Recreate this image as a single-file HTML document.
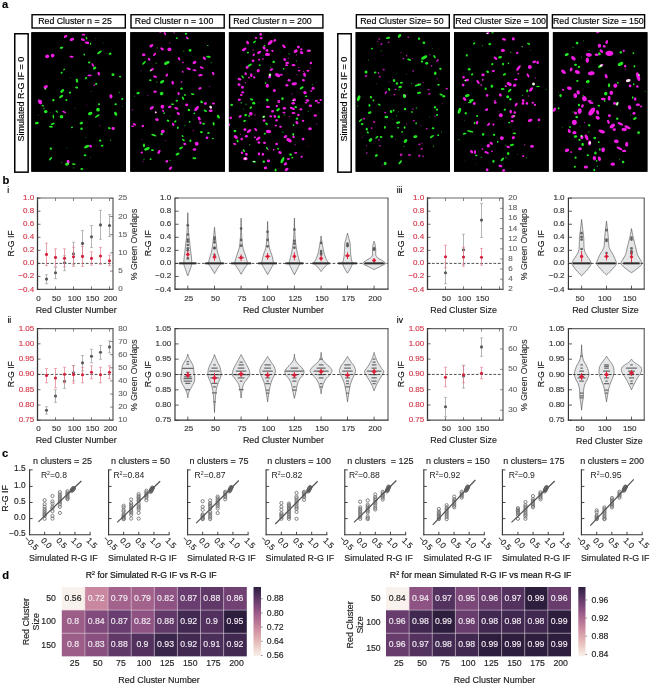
<!DOCTYPE html>
<html lang="en"><head><meta charset="utf-8"><title>Figure</title>
<style>html,body{margin:0;padding:0;background:#fff}body{width:652px;height:685px;overflow:hidden}svg{display:block}svg text{font-family:"Liberation Sans",Arial,sans-serif}</style>
</head><body>
<svg width="652" height="685" viewBox="0 0 652 685">
<rect x="0" y="0" width="652" height="685" fill="#fff"/>
<text x="2.00" y="7.80" font-size="11.2" font-weight="bold" fill="#000" stroke="#000" stroke-width="0.15">a</text>
<rect x="31.35" y="32.20" width="94.65" height="139.50" fill="#000"/>
<rect x="130.30" y="32.20" width="94.60" height="139.50" fill="#000"/>
<rect x="228.90" y="32.20" width="94.70" height="139.50" fill="#000"/>
<rect x="355.65" y="32.20" width="94.35" height="139.50" fill="#000"/>
<rect x="454.00" y="32.20" width="94.70" height="139.50" fill="#000"/>
<rect x="552.90" y="32.20" width="94.50" height="139.50" fill="#000"/>
<rect x="32.05" y="14.70" width="93.25" height="13.30" fill="#fff" stroke="#000" stroke-width="1.4"/>
<text x="38.20" y="24.00" font-size="8.8" fill="#000" stroke="#000" stroke-width="0.15">Red Cluster n = 25</text>
<rect x="131.00" y="14.70" width="93.20" height="13.30" fill="#fff" stroke="#000" stroke-width="1.4"/>
<text x="134.80" y="24.00" font-size="8.8" fill="#000" stroke="#000" stroke-width="0.15">Red Cluster n = 100</text>
<rect x="229.60" y="14.70" width="93.30" height="13.30" fill="#fff" stroke="#000" stroke-width="1.4"/>
<text x="233.20" y="24.00" font-size="8.8" fill="#000" stroke="#000" stroke-width="0.15">Red Cluster n = 200</text>
<rect x="356.35" y="14.70" width="92.95" height="13.30" fill="#fff" stroke="#000" stroke-width="1.4"/>
<text x="360.20" y="24.00" font-size="8.8" fill="#000" stroke="#000" stroke-width="0.15">Red Cluster Size= 50</text>
<rect x="454.10" y="14.70" width="92.90" height="13.30" fill="#fff" stroke="#000" stroke-width="1.4"/>
<text x="455.30" y="24.00" font-size="8.8" fill="#000" stroke="#000" stroke-width="0.15">Red Cluster Size = 100</text>
<rect x="552.40" y="14.70" width="92.20" height="13.30" fill="#fff" stroke="#000" stroke-width="1.4"/>
<text x="553.00" y="24.00" font-size="8.8" fill="#000" stroke="#000" stroke-width="0.15">Red Cluster Size = 150</text>
<rect x="14.75" y="33.75" width="13.40" height="138.40" fill="#fff" stroke="#000" stroke-width="1.5"/>
<text x="24.40" y="99.10" font-size="9.0" text-anchor="middle" fill="#000" stroke="#000" stroke-width="0.15" transform="rotate(-90 24.40 99.10)">Simulated R-G IF = 0</text>
<rect x="337.80" y="33.75" width="13.40" height="138.40" fill="#fff" stroke="#000" stroke-width="1.5"/>
<text x="347.45" y="99.10" font-size="9.0" text-anchor="middle" fill="#000" stroke="#000" stroke-width="0.15" transform="rotate(-90 347.45 99.10)">Simulated R-G IF = 0</text>
<defs><filter id="bl" x="-5%" y="-5%" width="110%" height="110%"><feGaussianBlur stdDeviation="0.7"/></filter>
<clipPath id="cp0"><rect x="31.35" y="32.2" width="94.65" height="139.50"/></clipPath>
<clipPath id="cp1"><rect x="130.3" y="32.2" width="94.60" height="139.50"/></clipPath>
<clipPath id="cp2"><rect x="228.9" y="32.2" width="94.70" height="139.50"/></clipPath>
<clipPath id="cp3"><rect x="355.65" y="32.2" width="94.35" height="139.50"/></clipPath>
<clipPath id="cp4"><rect x="454.0" y="32.2" width="94.70" height="139.50"/></clipPath>
<clipPath id="cp5"><rect x="552.9" y="32.2" width="94.50" height="139.50"/></clipPath>
</defs>
<g clip-path="url(#cp0)"><g filter="url(#bl)" style="isolation:isolate">
<rect x="29.35" y="30.20" width="98.65" height="143.50" fill="#000"/>
<ellipse cx="65.60" cy="36.42" rx="1.99" ry="1.23" fill="#f41fe6" transform="rotate(-30 65.60 36.42)" style="mix-blend-mode:screen"/>
<ellipse cx="71.93" cy="39.36" rx="2.30" ry="1.53" fill="#f41fe6" transform="rotate(-20 71.93 39.36)" style="mix-blend-mode:screen"/>
<ellipse cx="83.56" cy="34.65" rx="1.84" ry="0.92" fill="#f41fe6" style="mix-blend-mode:screen"/>
<ellipse cx="82.83" cy="39.66" rx="2.14" ry="1.23" fill="#f41fe6" transform="rotate(20 82.83 39.66)" style="mix-blend-mode:screen"/>
<ellipse cx="86.95" cy="42.75" rx="2.30" ry="1.23" fill="#f41fe6" transform="rotate(10 86.95 42.75)" style="mix-blend-mode:screen"/>
<ellipse cx="47.20" cy="56.29" rx="1.99" ry="1.84" fill="#f41fe6" style="mix-blend-mode:screen"/>
<ellipse cx="52.64" cy="55.56" rx="1.84" ry="1.84" fill="#f41fe6" style="mix-blend-mode:screen"/>
<ellipse cx="71.49" cy="56.74" rx="2.14" ry="0.92" fill="#f41fe6" transform="rotate(5 71.49 56.74)" style="mix-blend-mode:screen"/>
<ellipse cx="92.84" cy="65.13" rx="2.14" ry="0.92" fill="#f41fe6" transform="rotate(60 92.84 65.13)" style="mix-blend-mode:screen"/>
<ellipse cx="98.73" cy="73.67" rx="1.84" ry="1.23" fill="#f41fe6" transform="rotate(70 98.73 73.67)" style="mix-blend-mode:screen"/>
<ellipse cx="89.60" cy="75.44" rx="2.14" ry="0.92" fill="#f41fe6" style="mix-blend-mode:screen"/>
<ellipse cx="45.72" cy="86.92" rx="2.30" ry="1.53" fill="#f41fe6" transform="rotate(-30 45.72 86.92)" style="mix-blend-mode:screen"/>
<ellipse cx="110.95" cy="96.34" rx="2.14" ry="1.53" fill="#f41fe6" transform="rotate(80 110.95 96.34)" style="mix-blend-mode:screen"/>
<ellipse cx="39.83" cy="100.91" rx="2.14" ry="1.23" fill="#f41fe6" transform="rotate(10 39.83 100.91)" style="mix-blend-mode:screen"/>
<ellipse cx="94.31" cy="85.30" rx="1.07" ry="0.61" fill="#f41fe6" transform="rotate(-45 94.31 85.30)" style="mix-blend-mode:screen"/>
<ellipse cx="86.51" cy="38.18" rx="1.38" ry="0.77" fill="#23e823" transform="rotate(80 86.51 38.18)" style="mix-blend-mode:screen"/>
<ellipse cx="95.79" cy="38.63" rx="0.61" ry="0.46" fill="#23e823" opacity="0.6" style="mix-blend-mode:screen"/>
<ellipse cx="90.63" cy="43.78" rx="1.23" ry="0.61" fill="#23e823" transform="rotate(80 90.63 43.78)" style="mix-blend-mode:screen"/>
<ellipse cx="61.48" cy="47.75" rx="1.84" ry="1.07" fill="#23e823" transform="rotate(-10 61.48 47.75)" style="mix-blend-mode:screen"/>
<ellipse cx="99.47" cy="52.32" rx="2.76" ry="1.07" fill="#23e823" transform="rotate(-35 99.47 52.32)" style="mix-blend-mode:screen"/>
<ellipse cx="110.07" cy="53.79" rx="1.53" ry="1.07" fill="#23e823" transform="rotate(-20 110.07 53.79)" style="mix-blend-mode:screen"/>
<ellipse cx="106.53" cy="53.35" rx="0.61" ry="0.46" fill="#23e823" opacity="0.6" style="mix-blend-mode:screen"/>
<ellipse cx="84.30" cy="54.53" rx="1.07" ry="0.77" fill="#23e823" transform="rotate(60 84.30 54.53)" style="mix-blend-mode:screen"/>
<ellipse cx="89.16" cy="62.48" rx="1.23" ry="1.07" fill="#23e823" style="mix-blend-mode:screen"/>
<ellipse cx="94.61" cy="68.07" rx="1.84" ry="1.23" fill="#23e823" transform="rotate(-30 94.61 68.07)" style="mix-blend-mode:screen"/>
<ellipse cx="64.13" cy="69.55" rx="1.07" ry="0.77" fill="#23e823" transform="rotate(-45 64.13 69.55)" style="mix-blend-mode:screen"/>
<ellipse cx="61.63" cy="72.79" rx="1.07" ry="0.92" fill="#23e823" style="mix-blend-mode:screen"/>
<ellipse cx="113.01" cy="74.70" rx="1.53" ry="1.38" fill="#23e823" style="mix-blend-mode:screen"/>
<ellipse cx="120.08" cy="76.61" rx="1.07" ry="0.92" fill="#23e823" style="mix-blend-mode:screen"/>
<ellipse cx="85.92" cy="78.09" rx="1.38" ry="0.92" fill="#23e823" transform="rotate(-45 85.92 78.09)" style="mix-blend-mode:screen"/>
<ellipse cx="76.94" cy="80.59" rx="2.14" ry="1.23" fill="#23e823" transform="rotate(80 76.94 80.59)" style="mix-blend-mode:screen"/>
<ellipse cx="70.46" cy="77.35" rx="0.61" ry="0.46" fill="#23e823" opacity="0.6" style="mix-blend-mode:screen"/>
<ellipse cx="96.23" cy="83.83" rx="1.23" ry="0.92" fill="#23e823" transform="rotate(-30 96.23 83.83)" style="mix-blend-mode:screen"/>
<ellipse cx="76.64" cy="87.51" rx="1.53" ry="1.07" fill="#23e823" transform="rotate(10 76.64 87.51)" style="mix-blend-mode:screen"/>
<ellipse cx="62.21" cy="90.90" rx="2.30" ry="1.38" fill="#23e823" transform="rotate(-45 62.21 90.90)" style="mix-blend-mode:screen"/>
<ellipse cx="70.02" cy="92.66" rx="1.23" ry="0.92" fill="#23e823" transform="rotate(-30 70.02 92.66)" style="mix-blend-mode:screen"/>
<ellipse cx="61.18" cy="96.49" rx="2.30" ry="1.23" fill="#23e823" transform="rotate(-30 61.18 96.49)" style="mix-blend-mode:screen"/>
<ellipse cx="53.38" cy="100.17" rx="1.23" ry="1.23" fill="#23e823" transform="rotate(60 53.38 100.17)" style="mix-blend-mode:screen"/>
<ellipse cx="66.34" cy="100.02" rx="1.23" ry="0.92" fill="#23e823" transform="rotate(30 66.34 100.02)" style="mix-blend-mode:screen"/>
<ellipse cx="122.29" cy="98.99" rx="1.23" ry="0.92" fill="#23e823" transform="rotate(-40 122.29 98.99)" style="mix-blend-mode:screen"/>
<ellipse cx="119.34" cy="92.37" rx="0.77" ry="0.61" fill="#23e823" opacity="0.6" style="mix-blend-mode:screen"/>
<ellipse cx="91.37" cy="91.34" rx="0.61" ry="0.46" fill="#23e823" opacity="0.6" style="mix-blend-mode:screen"/>
<ellipse cx="45.28" cy="88.98" rx="1.07" ry="0.77" fill="#23e823" style="mix-blend-mode:screen"/>
<ellipse cx="81.06" cy="45.25" rx="0.46" ry="0.46" fill="#23e823" opacity="0.6" style="mix-blend-mode:screen"/>
<ellipse cx="103.15" cy="43.04" rx="0.46" ry="0.46" fill="#23e823" opacity="0.6" style="mix-blend-mode:screen"/>
<ellipse cx="40.13" cy="102.74" rx="2.14" ry="1.23" fill="#f41fe6" transform="rotate(20 40.13 102.74)" style="mix-blend-mode:screen"/>
<ellipse cx="64.13" cy="112.01" rx="2.14" ry="0.92" fill="#f41fe6" transform="rotate(25 64.13 112.01)" style="mix-blend-mode:screen"/>
<ellipse cx="113.16" cy="128.50" rx="1.68" ry="1.38" fill="#f41fe6" style="mix-blend-mode:screen"/>
<ellipse cx="90.63" cy="146.17" rx="1.53" ry="1.23" fill="#f41fe6" transform="rotate(20 90.63 146.17)" style="mix-blend-mode:screen"/>
<ellipse cx="68.10" cy="161.34" rx="1.38" ry="1.53" fill="#f41fe6" style="mix-blend-mode:screen"/>
<ellipse cx="99.76" cy="125.56" rx="0.77" ry="0.46" fill="#f41fe6" opacity="0.6" transform="rotate(45 99.76 125.56)" style="mix-blend-mode:screen"/>
<ellipse cx="86.66" cy="104.94" rx="0.61" ry="0.46" fill="#f41fe6" opacity="0.6" style="mix-blend-mode:screen"/>
<ellipse cx="68.55" cy="162.81" rx="0.92" ry="0.77" fill="#f41fe6" style="mix-blend-mode:screen"/>
<ellipse cx="42.78" cy="105.68" rx="1.23" ry="0.77" fill="#23e823" transform="rotate(40 42.78 105.68)" style="mix-blend-mode:screen"/>
<ellipse cx="45.72" cy="111.57" rx="1.84" ry="1.68" fill="#23e823" style="mix-blend-mode:screen"/>
<ellipse cx="43.96" cy="108.63" rx="0.77" ry="0.77" fill="#23e823" opacity="0.6" style="mix-blend-mode:screen"/>
<ellipse cx="56.77" cy="111.57" rx="1.53" ry="0.77" fill="#23e823" transform="rotate(45 56.77 111.57)" style="mix-blend-mode:screen"/>
<ellipse cx="53.38" cy="116.72" rx="2.14" ry="0.77" fill="#23e823" transform="rotate(85 53.38 116.72)" style="mix-blend-mode:screen"/>
<ellipse cx="61.48" cy="116.72" rx="1.84" ry="1.68" fill="#23e823" style="mix-blend-mode:screen"/>
<ellipse cx="36.89" cy="123.06" rx="1.99" ry="1.23" fill="#23e823" transform="rotate(-10 36.89 123.06)" style="mix-blend-mode:screen"/>
<ellipse cx="52.79" cy="123.79" rx="2.14" ry="0.92" fill="#23e823" transform="rotate(-20 52.79 123.79)" style="mix-blend-mode:screen"/>
<ellipse cx="50.88" cy="126.74" rx="1.99" ry="0.92" fill="#23e823" transform="rotate(5 50.88 126.74)" style="mix-blend-mode:screen"/>
<ellipse cx="99.02" cy="104.21" rx="1.07" ry="0.92" fill="#23e823" style="mix-blend-mode:screen"/>
<ellipse cx="97.99" cy="109.66" rx="1.84" ry="1.84" fill="#23e823" style="mix-blend-mode:screen"/>
<ellipse cx="90.19" cy="113.48" rx="2.30" ry="1.53" fill="#23e823" transform="rotate(-20 90.19 113.48)" style="mix-blend-mode:screen"/>
<ellipse cx="97.26" cy="115.99" rx="2.76" ry="0.92" fill="#23e823" transform="rotate(-35 97.26 115.99)" style="mix-blend-mode:screen"/>
<ellipse cx="115.66" cy="104.21" rx="1.23" ry="1.07" fill="#23e823" style="mix-blend-mode:screen"/>
<ellipse cx="115.66" cy="113.78" rx="2.14" ry="1.38" fill="#23e823" transform="rotate(60 115.66 113.78)" style="mix-blend-mode:screen"/>
<ellipse cx="81.36" cy="123.06" rx="1.84" ry="1.23" fill="#23e823" transform="rotate(-20 81.36 123.06)" style="mix-blend-mode:screen"/>
<ellipse cx="81.50" cy="128.80" rx="1.23" ry="1.23" fill="#23e823" style="mix-blend-mode:screen"/>
<ellipse cx="71.93" cy="127.33" rx="1.07" ry="0.77" fill="#23e823" transform="rotate(-30 71.93 127.33)" style="mix-blend-mode:screen"/>
<ellipse cx="109.33" cy="128.21" rx="1.38" ry="1.07" fill="#23e823" transform="rotate(20 109.33 128.21)" style="mix-blend-mode:screen"/>
<ellipse cx="100.20" cy="140.58" rx="1.23" ry="1.07" fill="#23e823" style="mix-blend-mode:screen"/>
<ellipse cx="110.51" cy="140.28" rx="0.77" ry="0.77" fill="#23e823" opacity="0.6" style="mix-blend-mode:screen"/>
<ellipse cx="102.12" cy="145.73" rx="1.23" ry="1.07" fill="#23e823" style="mix-blend-mode:screen"/>
<ellipse cx="86.66" cy="146.61" rx="2.76" ry="1.38" fill="#23e823" transform="rotate(-25 86.66 146.61)" style="mix-blend-mode:screen"/>
<ellipse cx="50.88" cy="148.67" rx="1.23" ry="1.07" fill="#23e823" style="mix-blend-mode:screen"/>
<ellipse cx="85.04" cy="155.30" rx="1.38" ry="1.07" fill="#23e823" style="mix-blend-mode:screen"/>
<ellipse cx="50.58" cy="158.69" rx="2.14" ry="0.92" fill="#23e823" transform="rotate(-50 50.58 158.69)" style="mix-blend-mode:screen"/>
<ellipse cx="67.07" cy="164.13" rx="1.99" ry="1.53" fill="#23e823" transform="rotate(-20 67.07 164.13)" style="mix-blend-mode:screen"/>
<ellipse cx="73.70" cy="164.13" rx="1.84" ry="0.92" fill="#23e823" transform="rotate(10 73.70 164.13)" style="mix-blend-mode:screen"/>
<ellipse cx="81.80" cy="168.99" rx="1.38" ry="1.07" fill="#23e823" style="mix-blend-mode:screen"/>
<ellipse cx="73.70" cy="167.82" rx="0.77" ry="0.61" fill="#23e823" opacity="0.6" style="mix-blend-mode:screen"/>
<ellipse cx="61.63" cy="162.37" rx="0.61" ry="0.61" fill="#23e823" opacity="0.6" style="mix-blend-mode:screen"/>
<ellipse cx="67.07" cy="147.94" rx="0.61" ry="0.46" fill="#23e823" opacity="0.6" style="mix-blend-mode:screen"/>
<ellipse cx="75.17" cy="108.18" rx="0.46" ry="0.46" fill="#23e823" opacity="0.6" style="mix-blend-mode:screen"/>
<ellipse cx="38.36" cy="115.25" rx="0.46" ry="0.46" fill="#23e823" opacity="0.6" style="mix-blend-mode:screen"/>
<ellipse cx="50.14" cy="112.31" rx="0.46" ry="0.46" fill="#23e823" opacity="0.6" style="mix-blend-mode:screen"/>
<ellipse cx="122.29" cy="106.12" rx="0.46" ry="0.61" fill="#23e823" opacity="0.6" style="mix-blend-mode:screen"/>
<ellipse cx="85.48" cy="137.34" rx="0.77" ry="0.46" fill="#23e823" opacity="0.6" style="mix-blend-mode:screen"/>
<ellipse cx="90.63" cy="157.21" rx="0.46" ry="0.46" fill="#23e823" opacity="0.6" style="mix-blend-mode:screen"/>
</g></g>
<g clip-path="url(#cp1)"><g filter="url(#bl)" style="isolation:isolate">
<rect x="128.30" y="30.20" width="98.60" height="143.50" fill="#000"/>
<ellipse cx="164.90" cy="33.47" rx="1.84" ry="0.92" fill="#f41fe6" transform="rotate(60 164.90 33.47)" style="mix-blend-mode:screen"/>
<ellipse cx="187.13" cy="37.89" rx="1.53" ry="0.92" fill="#f41fe6" transform="rotate(50 187.13 37.89)" style="mix-blend-mode:screen"/>
<ellipse cx="151.35" cy="45.69" rx="2.14" ry="1.38" fill="#f41fe6" transform="rotate(-30 151.35 45.69)" style="mix-blend-mode:screen"/>
<ellipse cx="162.10" cy="48.93" rx="1.99" ry="1.23" fill="#f41fe6" transform="rotate(35 162.10 48.93)" style="mix-blend-mode:screen"/>
<ellipse cx="169.46" cy="49.37" rx="1.99" ry="1.99" fill="#f41fe6" style="mix-blend-mode:screen"/>
<ellipse cx="143.69" cy="54.82" rx="1.84" ry="1.38" fill="#f41fe6" style="mix-blend-mode:screen"/>
<ellipse cx="154.59" cy="54.38" rx="1.99" ry="1.07" fill="#f41fe6" transform="rotate(-50 154.59 54.38)" style="mix-blend-mode:screen"/>
<ellipse cx="149.14" cy="59.24" rx="1.53" ry="1.07" fill="#f41fe6" transform="rotate(50 149.14 59.24)" style="mix-blend-mode:screen"/>
<ellipse cx="179.03" cy="58.80" rx="1.84" ry="1.07" fill="#f41fe6" transform="rotate(60 179.03 58.80)" style="mix-blend-mode:screen"/>
<ellipse cx="204.36" cy="58.21" rx="1.99" ry="1.23" fill="#f41fe6" transform="rotate(50 204.36 58.21)" style="mix-blend-mode:screen"/>
<ellipse cx="194.49" cy="62.48" rx="1.99" ry="1.38" fill="#f41fe6" transform="rotate(-30 194.49 62.48)" style="mix-blend-mode:screen"/>
<ellipse cx="201.71" cy="67.63" rx="2.14" ry="1.07" fill="#f41fe6" transform="rotate(25 201.71 67.63)" style="mix-blend-mode:screen"/>
<ellipse cx="188.60" cy="68.81" rx="2.30" ry="1.07" fill="#f41fe6" transform="rotate(20 188.60 68.81)" style="mix-blend-mode:screen"/>
<ellipse cx="194.49" cy="70.28" rx="1.99" ry="1.07" fill="#f41fe6" transform="rotate(5 194.49 70.28)" style="mix-blend-mode:screen"/>
<ellipse cx="152.09" cy="69.55" rx="1.99" ry="1.23" fill="#f41fe6" transform="rotate(-30 152.09 69.55)" style="mix-blend-mode:screen"/>
<ellipse cx="213.19" cy="73.52" rx="1.84" ry="1.07" fill="#f41fe6" transform="rotate(60 213.19 73.52)" style="mix-blend-mode:screen"/>
<ellipse cx="200.38" cy="75.14" rx="2.30" ry="1.23" fill="#f41fe6" transform="rotate(-5 200.38 75.14)" style="mix-blend-mode:screen"/>
<ellipse cx="166.81" cy="75.14" rx="1.68" ry="1.07" fill="#f41fe6" transform="rotate(-60 166.81 75.14)" style="mix-blend-mode:screen"/>
<ellipse cx="155.03" cy="76.61" rx="2.14" ry="1.07" fill="#f41fe6" transform="rotate(15 155.03 76.61)" style="mix-blend-mode:screen"/>
<ellipse cx="172.70" cy="82.80" rx="1.99" ry="1.23" fill="#f41fe6" transform="rotate(80 172.70 82.80)" style="mix-blend-mode:screen"/>
<ellipse cx="181.53" cy="82.06" rx="1.07" ry="0.61" fill="#f41fe6" transform="rotate(-40 181.53 82.06)" style="mix-blend-mode:screen"/>
<ellipse cx="199.94" cy="88.39" rx="1.68" ry="1.23" fill="#f41fe6" transform="rotate(-20 199.94 88.39)" style="mix-blend-mode:screen"/>
<ellipse cx="155.03" cy="91.63" rx="1.68" ry="1.23" fill="#f41fe6" style="mix-blend-mode:screen"/>
<ellipse cx="178.59" cy="93.55" rx="1.68" ry="1.07" fill="#f41fe6" transform="rotate(80 178.59 93.55)" style="mix-blend-mode:screen"/>
<ellipse cx="169.75" cy="43.04" rx="0.77" ry="0.61" fill="#f41fe6" opacity="0.6" style="mix-blend-mode:screen"/>
<ellipse cx="183.01" cy="62.48" rx="0.92" ry="0.77" fill="#f41fe6" style="mix-blend-mode:screen"/>
<ellipse cx="182.71" cy="71.75" rx="1.07" ry="0.77" fill="#f41fe6" transform="rotate(60 182.71 71.75)" style="mix-blend-mode:screen"/>
<ellipse cx="141.04" cy="70.28" rx="0.61" ry="0.46" fill="#f41fe6" opacity="0.6" style="mix-blend-mode:screen"/>
<ellipse cx="147.67" cy="95.61" rx="0.61" ry="0.61" fill="#f41fe6" opacity="0.6" style="mix-blend-mode:screen"/>
<ellipse cx="209.51" cy="86.48" rx="0.77" ry="0.46" fill="#f41fe6" opacity="0.6" style="mix-blend-mode:screen"/>
<ellipse cx="174.17" cy="32.74" rx="0.92" ry="0.61" fill="#f41fe6" style="mix-blend-mode:screen"/>
<ellipse cx="160.18" cy="32.44" rx="1.23" ry="0.46" fill="#f41fe6" style="mix-blend-mode:screen"/>
<ellipse cx="185.95" cy="33.77" rx="1.23" ry="1.07" fill="#23e823" style="mix-blend-mode:screen"/>
<ellipse cx="176.82" cy="38.18" rx="0.92" ry="0.92" fill="#23e823" style="mix-blend-mode:screen"/>
<ellipse cx="190.07" cy="50.40" rx="1.38" ry="1.38" fill="#23e823" style="mix-blend-mode:screen"/>
<ellipse cx="208.48" cy="56.74" rx="2.30" ry="1.07" fill="#23e823" transform="rotate(5 208.48 56.74)" style="mix-blend-mode:screen"/>
<ellipse cx="143.99" cy="62.92" rx="2.45" ry="0.92" fill="#23e823" transform="rotate(-45 143.99 62.92)" style="mix-blend-mode:screen"/>
<ellipse cx="166.81" cy="62.92" rx="3.06" ry="1.53" fill="#23e823" transform="rotate(-25 166.81 62.92)" style="mix-blend-mode:screen"/>
<ellipse cx="156.21" cy="63.21" rx="0.77" ry="0.61" fill="#23e823" opacity="0.6" style="mix-blend-mode:screen"/>
<ellipse cx="150.61" cy="70.58" rx="1.07" ry="0.77" fill="#23e823" transform="rotate(-30 150.61 70.58)" style="mix-blend-mode:screen"/>
<ellipse cx="150.32" cy="80.29" rx="1.23" ry="0.92" fill="#23e823" style="mix-blend-mode:screen"/>
<ellipse cx="162.10" cy="81.77" rx="2.30" ry="1.38" fill="#23e823" transform="rotate(-30 162.10 81.77)" style="mix-blend-mode:screen"/>
<ellipse cx="156.80" cy="82.06" rx="0.77" ry="0.61" fill="#23e823" opacity="0.6" style="mix-blend-mode:screen"/>
<ellipse cx="181.53" cy="88.69" rx="1.38" ry="1.07" fill="#23e823" style="mix-blend-mode:screen"/>
<ellipse cx="138.10" cy="93.10" rx="1.68" ry="1.23" fill="#23e823" transform="rotate(-10 138.10 93.10)" style="mix-blend-mode:screen"/>
<ellipse cx="161.66" cy="93.55" rx="1.84" ry="1.68" fill="#23e823" transform="rotate(-30 161.66 93.55)" style="mix-blend-mode:screen"/>
<ellipse cx="192.58" cy="94.13" rx="1.84" ry="0.92" fill="#23e823" transform="rotate(10 192.58 94.13)" style="mix-blend-mode:screen"/>
<ellipse cx="183.01" cy="98.26" rx="1.84" ry="0.92" fill="#23e823" transform="rotate(60 183.01 98.26)" style="mix-blend-mode:screen"/>
<ellipse cx="184.92" cy="95.02" rx="0.92" ry="0.92" fill="#23e823" style="mix-blend-mode:screen"/>
<ellipse cx="176.82" cy="100.76" rx="1.23" ry="0.92" fill="#23e823" style="mix-blend-mode:screen"/>
<ellipse cx="201.41" cy="101.20" rx="1.23" ry="0.77" fill="#23e823" style="mix-blend-mode:screen"/>
<ellipse cx="211.28" cy="62.63" rx="0.61" ry="0.61" fill="#23e823" opacity="0.6" style="mix-blend-mode:screen"/>
<ellipse cx="157.24" cy="47.90" rx="0.61" ry="0.61" fill="#23e823" opacity="0.6" style="mix-blend-mode:screen"/>
<ellipse cx="183.74" cy="51.14" rx="0.61" ry="0.61" fill="#23e823" opacity="0.6" style="mix-blend-mode:screen"/>
<ellipse cx="207.74" cy="45.55" rx="1.07" ry="0.46" fill="#23e823" style="mix-blend-mode:screen"/>
<ellipse cx="134.42" cy="96.05" rx="0.61" ry="0.61" fill="#23e823" opacity="0.6" style="mix-blend-mode:screen"/>
<ellipse cx="188.16" cy="38.63" rx="0.77" ry="0.61" fill="#23e823" opacity="0.6" style="mix-blend-mode:screen"/>
<ellipse cx="151.79" cy="107.89" rx="2.30" ry="1.38" fill="#f41fe6" transform="rotate(-35 151.79 107.89)" style="mix-blend-mode:screen"/>
<ellipse cx="162.39" cy="106.71" rx="1.84" ry="1.84" fill="#f41fe6" style="mix-blend-mode:screen"/>
<ellipse cx="169.75" cy="106.86" rx="1.84" ry="1.23" fill="#f41fe6" transform="rotate(-15 169.75 106.86)" style="mix-blend-mode:screen"/>
<ellipse cx="176.38" cy="108.33" rx="2.14" ry="1.07" fill="#f41fe6" transform="rotate(25 176.38 108.33)" style="mix-blend-mode:screen"/>
<ellipse cx="186.69" cy="104.94" rx="1.53" ry="1.38" fill="#f41fe6" style="mix-blend-mode:screen"/>
<ellipse cx="196.55" cy="108.63" rx="3.06" ry="1.53" fill="#f41fe6" transform="rotate(-50 196.55 108.63)" style="mix-blend-mode:screen"/>
<ellipse cx="205.39" cy="103.47" rx="1.53" ry="1.23" fill="#f41fe6" style="mix-blend-mode:screen"/>
<ellipse cx="213.48" cy="103.47" rx="1.53" ry="1.07" fill="#f41fe6" style="mix-blend-mode:screen"/>
<ellipse cx="210.69" cy="110.83" rx="1.99" ry="1.23" fill="#f41fe6" style="mix-blend-mode:screen"/>
<ellipse cx="178.29" cy="113.48" rx="1.84" ry="1.23" fill="#f41fe6" transform="rotate(40 178.29 113.48)" style="mix-blend-mode:screen"/>
<ellipse cx="199.20" cy="118.49" rx="2.14" ry="1.38" fill="#f41fe6" transform="rotate(70 199.20 118.49)" style="mix-blend-mode:screen"/>
<ellipse cx="200.38" cy="122.61" rx="1.38" ry="1.07" fill="#f41fe6" transform="rotate(40 200.38 122.61)" style="mix-blend-mode:screen"/>
<ellipse cx="156.94" cy="119.67" rx="1.84" ry="1.38" fill="#f41fe6" transform="rotate(10 156.94 119.67)" style="mix-blend-mode:screen"/>
<ellipse cx="163.13" cy="110.83" rx="1.23" ry="0.92" fill="#f41fe6" transform="rotate(60 163.13 110.83)" style="mix-blend-mode:screen"/>
<ellipse cx="155.77" cy="112.31" rx="1.23" ry="0.92" fill="#f41fe6" transform="rotate(40 155.77 112.31)" style="mix-blend-mode:screen"/>
<ellipse cx="173.14" cy="124.38" rx="1.68" ry="1.07" fill="#f41fe6" transform="rotate(60 173.14 124.38)" style="mix-blend-mode:screen"/>
<ellipse cx="134.42" cy="124.38" rx="1.84" ry="1.07" fill="#f41fe6" transform="rotate(30 134.42 124.38)" style="mix-blend-mode:screen"/>
<ellipse cx="132.65" cy="126.29" rx="1.53" ry="0.77" fill="#f41fe6" style="mix-blend-mode:screen"/>
<ellipse cx="142.81" cy="126.00" rx="1.23" ry="1.23" fill="#f41fe6" style="mix-blend-mode:screen"/>
<ellipse cx="162.83" cy="131.45" rx="1.99" ry="1.68" fill="#f41fe6" transform="rotate(-20 162.83 131.45)" style="mix-blend-mode:screen"/>
<ellipse cx="207.01" cy="137.78" rx="1.38" ry="1.38" fill="#f41fe6" style="mix-blend-mode:screen"/>
<ellipse cx="196.70" cy="143.67" rx="1.99" ry="1.99" fill="#f41fe6" style="mix-blend-mode:screen"/>
<ellipse cx="184.77" cy="143.96" rx="1.53" ry="1.23" fill="#f41fe6" transform="rotate(20 184.77 143.96)" style="mix-blend-mode:screen"/>
<ellipse cx="194.49" cy="149.41" rx="1.84" ry="1.23" fill="#f41fe6" style="mix-blend-mode:screen"/>
<ellipse cx="159.01" cy="151.77" rx="2.30" ry="1.23" fill="#f41fe6" transform="rotate(-60 159.01 151.77)" style="mix-blend-mode:screen"/>
<ellipse cx="141.78" cy="152.50" rx="1.23" ry="1.07" fill="#f41fe6" style="mix-blend-mode:screen"/>
<ellipse cx="166.81" cy="161.34" rx="1.53" ry="1.23" fill="#f41fe6" transform="rotate(-20 166.81 161.34)" style="mix-blend-mode:screen"/>
<ellipse cx="170.49" cy="168.26" rx="1.99" ry="1.23" fill="#f41fe6" transform="rotate(-40 170.49 168.26)" style="mix-blend-mode:screen"/>
<ellipse cx="132.65" cy="109.66" rx="0.77" ry="0.77" fill="#f41fe6" opacity="0.6" style="mix-blend-mode:screen"/>
<ellipse cx="193.31" cy="130.71" rx="0.77" ry="0.61" fill="#f41fe6" opacity="0.6" style="mix-blend-mode:screen"/>
<ellipse cx="141.78" cy="139.25" rx="0.77" ry="0.46" fill="#f41fe6" opacity="0.6" style="mix-blend-mode:screen"/>
<ellipse cx="142.96" cy="161.34" rx="0.61" ry="0.61" fill="#f41fe6" opacity="0.6" style="mix-blend-mode:screen"/>
<ellipse cx="165.34" cy="140.58" rx="0.61" ry="0.61" fill="#f41fe6" opacity="0.6" style="mix-blend-mode:screen"/>
<ellipse cx="205.83" cy="121.14" rx="0.61" ry="0.46" fill="#f41fe6" opacity="0.6" style="mix-blend-mode:screen"/>
<ellipse cx="210.69" cy="107.15" rx="1.23" ry="1.53" fill="#f41fe6" transform="rotate(-30 210.69 107.15)" style="mix-blend-mode:screen"/>
<ellipse cx="172.40" cy="104.21" rx="1.84" ry="0.77" fill="#23e823" transform="rotate(5 172.40 104.21)" style="mix-blend-mode:screen"/>
<ellipse cx="201.71" cy="102.44" rx="1.53" ry="0.77" fill="#23e823" style="mix-blend-mode:screen"/>
<ellipse cx="188.90" cy="110.10" rx="1.23" ry="1.23" fill="#23e823" style="mix-blend-mode:screen"/>
<ellipse cx="205.39" cy="110.83" rx="1.84" ry="0.92" fill="#23e823" transform="rotate(25 205.39 110.83)" style="mix-blend-mode:screen"/>
<ellipse cx="218.34" cy="116.72" rx="1.99" ry="1.23" fill="#23e823" transform="rotate(60 218.34 116.72)" style="mix-blend-mode:screen"/>
<ellipse cx="167.99" cy="120.70" rx="1.38" ry="1.07" fill="#23e823" transform="rotate(20 167.99 120.70)" style="mix-blend-mode:screen"/>
<ellipse cx="175.20" cy="121.44" rx="1.38" ry="0.92" fill="#23e823" transform="rotate(-30 175.20 121.44)" style="mix-blend-mode:screen"/>
<ellipse cx="213.63" cy="123.79" rx="1.84" ry="0.92" fill="#23e823" transform="rotate(80 213.63 123.79)" style="mix-blend-mode:screen"/>
<ellipse cx="203.62" cy="123.79" rx="1.38" ry="1.07" fill="#23e823" style="mix-blend-mode:screen"/>
<ellipse cx="189.63" cy="121.88" rx="0.92" ry="0.77" fill="#23e823" style="mix-blend-mode:screen"/>
<ellipse cx="177.85" cy="127.77" rx="0.92" ry="1.23" fill="#23e823" style="mix-blend-mode:screen"/>
<ellipse cx="201.41" cy="132.18" rx="1.38" ry="1.07" fill="#23e823" style="mix-blend-mode:screen"/>
<ellipse cx="208.48" cy="132.92" rx="1.38" ry="0.92" fill="#23e823" transform="rotate(-10 208.48 132.92)" style="mix-blend-mode:screen"/>
<ellipse cx="153.85" cy="135.13" rx="2.76" ry="0.92" fill="#23e823" transform="rotate(20 153.85 135.13)" style="mix-blend-mode:screen"/>
<ellipse cx="161.66" cy="134.10" rx="1.23" ry="0.92" fill="#23e823" transform="rotate(30 161.66 134.10)" style="mix-blend-mode:screen"/>
<ellipse cx="182.71" cy="136.16" rx="1.23" ry="0.77" fill="#23e823" transform="rotate(50 182.71 136.16)" style="mix-blend-mode:screen"/>
<ellipse cx="183.45" cy="139.99" rx="1.53" ry="0.92" fill="#23e823" transform="rotate(30 183.45 139.99)" style="mix-blend-mode:screen"/>
<ellipse cx="190.37" cy="140.72" rx="1.07" ry="1.23" fill="#23e823" style="mix-blend-mode:screen"/>
<ellipse cx="143.99" cy="145.44" rx="1.07" ry="1.84" fill="#23e823" style="mix-blend-mode:screen"/>
<ellipse cx="146.93" cy="148.82" rx="3.06" ry="1.53" fill="#23e823" transform="rotate(-20 146.93 148.82)" style="mix-blend-mode:screen"/>
<ellipse cx="152.38" cy="150.15" rx="1.53" ry="0.92" fill="#23e823" transform="rotate(10 152.38 150.15)" style="mix-blend-mode:screen"/>
<ellipse cx="181.09" cy="147.94" rx="2.14" ry="1.07" fill="#23e823" transform="rotate(-30 181.09 147.94)" style="mix-blend-mode:screen"/>
<ellipse cx="177.56" cy="153.98" rx="2.14" ry="1.23" fill="#23e823" transform="rotate(-30 177.56 153.98)" style="mix-blend-mode:screen"/>
<ellipse cx="194.34" cy="158.25" rx="1.99" ry="0.92" fill="#23e823" transform="rotate(5 194.34 158.25)" style="mix-blend-mode:screen"/>
<ellipse cx="150.61" cy="159.13" rx="1.07" ry="0.77" fill="#23e823" style="mix-blend-mode:screen"/>
<ellipse cx="143.99" cy="159.13" rx="0.77" ry="0.61" fill="#23e823" opacity="0.6" style="mix-blend-mode:screen"/>
<ellipse cx="164.16" cy="113.04" rx="0.92" ry="0.77" fill="#23e823" transform="rotate(-45 164.16 113.04)" style="mix-blend-mode:screen"/>
<ellipse cx="194.34" cy="113.34" rx="0.92" ry="0.92" fill="#23e823" style="mix-blend-mode:screen"/>
<ellipse cx="210.69" cy="107.15" rx="1.23" ry="1.53" fill="#23e823" transform="rotate(-30 210.69 107.15)" style="mix-blend-mode:screen"/>
<ellipse cx="212.90" cy="138.52" rx="0.92" ry="0.77" fill="#23e823" style="mix-blend-mode:screen"/>
<ellipse cx="170.05" cy="160.45" rx="0.77" ry="0.61" fill="#23e823" opacity="0.6" style="mix-blend-mode:screen"/>
<ellipse cx="184.77" cy="125.26" rx="0.77" ry="0.61" fill="#23e823" opacity="0.6" style="mix-blend-mode:screen"/>
<ellipse cx="169.75" cy="115.99" rx="0.61" ry="0.46" fill="#23e823" opacity="0.6" style="mix-blend-mode:screen"/>
<ellipse cx="155.77" cy="112.31" rx="0.92" ry="0.77" fill="#23e823" transform="rotate(40 155.77 112.31)" style="mix-blend-mode:screen"/>
<ellipse cx="213.63" cy="123.79" rx="1.07" ry="0.61" fill="#23e823" transform="rotate(80 213.63 123.79)" style="mix-blend-mode:screen"/>
</g></g>
<g clip-path="url(#cp2)"><g filter="url(#bl)" style="isolation:isolate">
<rect x="226.90" y="30.20" width="98.70" height="143.50" fill="#000"/>
<ellipse cx="260.69" cy="34.21" rx="1.23" ry="1.53" fill="#f41fe6" style="mix-blend-mode:screen"/>
<ellipse cx="255.98" cy="37.89" rx="1.07" ry="1.07" fill="#f41fe6" style="mix-blend-mode:screen"/>
<ellipse cx="261.13" cy="38.18" rx="1.53" ry="1.07" fill="#f41fe6" style="mix-blend-mode:screen"/>
<ellipse cx="247.58" cy="42.60" rx="1.99" ry="1.23" fill="#f41fe6" transform="rotate(60 247.58 42.60)" style="mix-blend-mode:screen"/>
<ellipse cx="270.26" cy="42.60" rx="3.06" ry="1.53" fill="#f41fe6" transform="rotate(-45 270.26 42.60)" style="mix-blend-mode:screen"/>
<ellipse cx="274.82" cy="40.39" rx="1.53" ry="1.23" fill="#f41fe6" transform="rotate(-30 274.82 40.39)" style="mix-blend-mode:screen"/>
<ellipse cx="283.95" cy="46.43" rx="2.30" ry="1.23" fill="#f41fe6" transform="rotate(45 283.95 46.43)" style="mix-blend-mode:screen"/>
<ellipse cx="244.20" cy="49.37" rx="2.60" ry="1.38" fill="#f41fe6" transform="rotate(-35 244.20 49.37)" style="mix-blend-mode:screen"/>
<ellipse cx="264.07" cy="47.90" rx="1.84" ry="1.38" fill="#f41fe6" transform="rotate(50 264.07 47.90)" style="mix-blend-mode:screen"/>
<ellipse cx="267.02" cy="50.40" rx="1.38" ry="1.38" fill="#f41fe6" style="mix-blend-mode:screen"/>
<ellipse cx="259.21" cy="52.32" rx="2.14" ry="1.23" fill="#f41fe6" transform="rotate(-30 259.21 52.32)" style="mix-blend-mode:screen"/>
<ellipse cx="267.46" cy="54.38" rx="2.60" ry="1.68" fill="#f41fe6" style="mix-blend-mode:screen"/>
<ellipse cx="272.47" cy="50.85" rx="1.23" ry="0.92" fill="#f41fe6" transform="rotate(30 272.47 50.85)" style="mix-blend-mode:screen"/>
<ellipse cx="253.77" cy="54.82" rx="1.38" ry="1.07" fill="#f41fe6" transform="rotate(-60 253.77 54.82)" style="mix-blend-mode:screen"/>
<ellipse cx="298.38" cy="47.02" rx="1.53" ry="1.23" fill="#f41fe6" transform="rotate(-20 298.38 47.02)" style="mix-blend-mode:screen"/>
<ellipse cx="295.73" cy="51.14" rx="2.14" ry="1.68" fill="#f41fe6" transform="rotate(-30 295.73 51.14)" style="mix-blend-mode:screen"/>
<ellipse cx="301.33" cy="49.37" rx="1.23" ry="1.07" fill="#f41fe6" style="mix-blend-mode:screen"/>
<ellipse cx="301.62" cy="52.61" rx="1.84" ry="1.38" fill="#f41fe6" transform="rotate(30 301.62 52.61)" style="mix-blend-mode:screen"/>
<ellipse cx="308.69" cy="50.85" rx="1.99" ry="1.23" fill="#f41fe6" style="mix-blend-mode:screen"/>
<ellipse cx="253.03" cy="60.71" rx="1.38" ry="1.23" fill="#f41fe6" style="mix-blend-mode:screen"/>
<ellipse cx="259.21" cy="59.68" rx="1.07" ry="0.92" fill="#f41fe6" style="mix-blend-mode:screen"/>
<ellipse cx="262.90" cy="58.94" rx="0.92" ry="0.77" fill="#f41fe6" style="mix-blend-mode:screen"/>
<ellipse cx="284.69" cy="59.53" rx="1.68" ry="1.23" fill="#f41fe6" transform="rotate(40 284.69 59.53)" style="mix-blend-mode:screen"/>
<ellipse cx="287.19" cy="62.92" rx="1.99" ry="1.07" fill="#f41fe6" style="mix-blend-mode:screen"/>
<ellipse cx="286.60" cy="65.13" rx="1.53" ry="0.92" fill="#f41fe6" style="mix-blend-mode:screen"/>
<ellipse cx="293.52" cy="65.13" rx="1.99" ry="1.07" fill="#f41fe6" style="mix-blend-mode:screen"/>
<ellipse cx="310.90" cy="62.92" rx="1.23" ry="1.23" fill="#f41fe6" style="mix-blend-mode:screen"/>
<ellipse cx="247.14" cy="67.34" rx="1.38" ry="1.68" fill="#f41fe6" style="mix-blend-mode:screen"/>
<ellipse cx="258.18" cy="70.72" rx="1.53" ry="1.68" fill="#f41fe6" style="mix-blend-mode:screen"/>
<ellipse cx="271.44" cy="69.55" rx="1.84" ry="1.07" fill="#f41fe6" transform="rotate(-30 271.44 69.55)" style="mix-blend-mode:screen"/>
<ellipse cx="299.12" cy="70.58" rx="1.23" ry="0.92" fill="#f41fe6" style="mix-blend-mode:screen"/>
<ellipse cx="307.95" cy="70.72" rx="1.53" ry="1.07" fill="#f41fe6" style="mix-blend-mode:screen"/>
<ellipse cx="304.56" cy="74.70" rx="2.14" ry="1.38" fill="#f41fe6" transform="rotate(80 304.56 74.70)" style="mix-blend-mode:screen"/>
<ellipse cx="245.67" cy="73.67" rx="1.23" ry="1.53" fill="#f41fe6" style="mix-blend-mode:screen"/>
<ellipse cx="251.26" cy="75.14" rx="1.23" ry="1.84" fill="#f41fe6" style="mix-blend-mode:screen"/>
<ellipse cx="254.21" cy="77.35" rx="1.23" ry="1.07" fill="#f41fe6" style="mix-blend-mode:screen"/>
<ellipse cx="249.06" cy="77.64" rx="0.92" ry="0.77" fill="#f41fe6" style="mix-blend-mode:screen"/>
<ellipse cx="277.62" cy="75.14" rx="2.76" ry="1.68" fill="#f41fe6" transform="rotate(25 277.62 75.14)" style="mix-blend-mode:screen"/>
<ellipse cx="281.30" cy="74.70" rx="1.38" ry="1.07" fill="#f41fe6" style="mix-blend-mode:screen"/>
<ellipse cx="269.67" cy="76.91" rx="1.53" ry="1.38" fill="#f41fe6" style="mix-blend-mode:screen"/>
<ellipse cx="239.48" cy="79.12" rx="1.99" ry="1.23" fill="#f41fe6" transform="rotate(20 239.48 79.12)" style="mix-blend-mode:screen"/>
<ellipse cx="239.04" cy="84.71" rx="1.53" ry="1.38" fill="#f41fe6" style="mix-blend-mode:screen"/>
<ellipse cx="242.43" cy="87.21" rx="1.53" ry="1.38" fill="#f41fe6" transform="rotate(30 242.43 87.21)" style="mix-blend-mode:screen"/>
<ellipse cx="289.10" cy="80.29" rx="1.53" ry="1.23" fill="#f41fe6" style="mix-blend-mode:screen"/>
<ellipse cx="294.26" cy="83.83" rx="2.76" ry="1.68" fill="#f41fe6" transform="rotate(-5 294.26 83.83)" style="mix-blend-mode:screen"/>
<ellipse cx="303.39" cy="80.29" rx="1.38" ry="1.23" fill="#f41fe6" style="mix-blend-mode:screen"/>
<ellipse cx="286.90" cy="85.30" rx="1.53" ry="1.23" fill="#f41fe6" style="mix-blend-mode:screen"/>
<ellipse cx="267.31" cy="85.74" rx="1.68" ry="1.99" fill="#f41fe6" style="mix-blend-mode:screen"/>
<ellipse cx="274.38" cy="90.45" rx="1.53" ry="1.53" fill="#f41fe6" style="mix-blend-mode:screen"/>
<ellipse cx="242.72" cy="92.37" rx="1.38" ry="1.23" fill="#f41fe6" style="mix-blend-mode:screen"/>
<ellipse cx="241.25" cy="95.02" rx="1.38" ry="1.07" fill="#f41fe6" style="mix-blend-mode:screen"/>
<ellipse cx="239.34" cy="99.73" rx="1.53" ry="1.23" fill="#f41fe6" style="mix-blend-mode:screen"/>
<ellipse cx="305.01" cy="92.66" rx="1.84" ry="1.53" fill="#f41fe6" transform="rotate(30 305.01 92.66)" style="mix-blend-mode:screen"/>
<ellipse cx="313.10" cy="88.25" rx="1.53" ry="1.53" fill="#f41fe6" style="mix-blend-mode:screen"/>
<ellipse cx="311.19" cy="90.90" rx="1.23" ry="0.77" fill="#f41fe6" style="mix-blend-mode:screen"/>
<ellipse cx="307.51" cy="100.47" rx="1.84" ry="1.23" fill="#f41fe6" style="mix-blend-mode:screen"/>
<ellipse cx="316.34" cy="100.91" rx="1.53" ry="1.07" fill="#f41fe6" style="mix-blend-mode:screen"/>
<ellipse cx="320.76" cy="100.02" rx="1.23" ry="0.92" fill="#f41fe6" style="mix-blend-mode:screen"/>
<ellipse cx="294.26" cy="99.73" rx="1.84" ry="1.53" fill="#f41fe6" style="mix-blend-mode:screen"/>
<ellipse cx="278.80" cy="100.91" rx="1.53" ry="0.92" fill="#f41fe6" style="mix-blend-mode:screen"/>
<ellipse cx="245.37" cy="82.80" rx="0.77" ry="0.77" fill="#f41fe6" opacity="0.6" style="mix-blend-mode:screen"/>
<ellipse cx="296.47" cy="54.82" rx="0.77" ry="0.61" fill="#f41fe6" opacity="0.6" style="mix-blend-mode:screen"/>
<ellipse cx="288.37" cy="58.21" rx="0.77" ry="0.61" fill="#f41fe6" opacity="0.6" style="mix-blend-mode:screen"/>
<ellipse cx="298.67" cy="67.34" rx="0.77" ry="0.61" fill="#f41fe6" opacity="0.6" style="mix-blend-mode:screen"/>
<ellipse cx="303.53" cy="71.46" rx="0.77" ry="0.61" fill="#f41fe6" opacity="0.6" style="mix-blend-mode:screen"/>
<ellipse cx="310.16" cy="68.07" rx="0.77" ry="0.61" fill="#f41fe6" opacity="0.6" style="mix-blend-mode:screen"/>
<ellipse cx="253.03" cy="49.96" rx="0.77" ry="0.77" fill="#f41fe6" opacity="0.6" style="mix-blend-mode:screen"/>
<ellipse cx="296.91" cy="74.70" rx="0.61" ry="0.61" fill="#f41fe6" opacity="0.6" style="mix-blend-mode:screen"/>
<ellipse cx="292.05" cy="93.84" rx="0.77" ry="0.61" fill="#f41fe6" opacity="0.6" style="mix-blend-mode:screen"/>
<ellipse cx="269.96" cy="74.99" rx="1.07" ry="1.07" fill="#f41fe6" style="mix-blend-mode:screen"/>
<ellipse cx="254.50" cy="41.87" rx="1.68" ry="0.92" fill="#23e823" transform="rotate(-40 254.50 41.87)" style="mix-blend-mode:screen"/>
<ellipse cx="264.52" cy="45.69" rx="0.92" ry="0.77" fill="#23e823" style="mix-blend-mode:screen"/>
<ellipse cx="247.88" cy="52.61" rx="1.07" ry="0.92" fill="#23e823" style="mix-blend-mode:screen"/>
<ellipse cx="289.10" cy="54.09" rx="0.77" ry="0.77" fill="#23e823" opacity="0.6" style="mix-blend-mode:screen"/>
<ellipse cx="273.64" cy="61.89" rx="1.38" ry="1.07" fill="#23e823" style="mix-blend-mode:screen"/>
<ellipse cx="249.79" cy="65.13" rx="2.30" ry="1.07" fill="#23e823" transform="rotate(-30 249.79 65.13)" style="mix-blend-mode:screen"/>
<ellipse cx="259.66" cy="65.13" rx="1.07" ry="0.77" fill="#23e823" style="mix-blend-mode:screen"/>
<ellipse cx="283.66" cy="68.81" rx="0.77" ry="0.92" fill="#23e823" style="mix-blend-mode:screen"/>
<ellipse cx="242.72" cy="76.91" rx="1.84" ry="0.77" fill="#23e823" transform="rotate(50 242.72 76.91)" style="mix-blend-mode:screen"/>
<ellipse cx="269.96" cy="74.70" rx="1.38" ry="1.38" fill="#23e823" transform="rotate(-30 269.96 74.70)" style="mix-blend-mode:screen"/>
<ellipse cx="265.55" cy="83.09" rx="0.92" ry="0.77" fill="#23e823" style="mix-blend-mode:screen"/>
<ellipse cx="301.62" cy="87.95" rx="2.30" ry="1.07" fill="#23e823" transform="rotate(-35 301.62 87.95)" style="mix-blend-mode:screen"/>
<ellipse cx="282.48" cy="98.70" rx="1.23" ry="1.38" fill="#23e823" style="mix-blend-mode:screen"/>
<ellipse cx="251.56" cy="99.44" rx="1.84" ry="0.92" fill="#23e823" transform="rotate(20 251.56 99.44)" style="mix-blend-mode:screen"/>
<ellipse cx="267.31" cy="100.02" rx="1.53" ry="1.23" fill="#23e823" transform="rotate(40 267.31 100.02)" style="mix-blend-mode:screen"/>
<ellipse cx="306.04" cy="96.34" rx="1.23" ry="0.92" fill="#23e823" style="mix-blend-mode:screen"/>
<ellipse cx="296.47" cy="61.15" rx="0.61" ry="0.61" fill="#23e823" opacity="0.6" style="mix-blend-mode:screen"/>
<ellipse cx="312.37" cy="84.71" rx="0.61" ry="0.61" fill="#23e823" opacity="0.6" style="mix-blend-mode:screen"/>
<ellipse cx="310.16" cy="50.40" rx="0.61" ry="0.61" fill="#23e823" opacity="0.6" style="mix-blend-mode:screen"/>
<ellipse cx="270.70" cy="67.34" rx="0.61" ry="0.77" fill="#23e823" opacity="0.6" style="mix-blend-mode:screen"/>
<ellipse cx="316.34" cy="82.06" rx="0.46" ry="0.46" fill="#23e823" opacity="0.6" style="mix-blend-mode:screen"/>
<ellipse cx="280.27" cy="51.88" rx="0.46" ry="0.46" fill="#23e823" opacity="0.6" style="mix-blend-mode:screen"/>
<ellipse cx="263.04" cy="55.26" rx="0.61" ry="0.46" fill="#23e823" opacity="0.6" style="mix-blend-mode:screen"/>
<ellipse cx="270.99" cy="32.29" rx="0.77" ry="0.46" fill="#23e823" opacity="0.6" style="mix-blend-mode:screen"/>
<ellipse cx="293.23" cy="100.47" rx="0.92" ry="0.77" fill="#23e823" style="mix-blend-mode:screen"/>
<ellipse cx="268.05" cy="106.86" rx="2.14" ry="1.23" fill="#f41fe6" transform="rotate(5 268.05 106.86)" style="mix-blend-mode:screen"/>
<ellipse cx="276.88" cy="106.12" rx="1.23" ry="1.07" fill="#f41fe6" style="mix-blend-mode:screen"/>
<ellipse cx="284.39" cy="108.33" rx="1.68" ry="1.38" fill="#f41fe6" style="mix-blend-mode:screen"/>
<ellipse cx="292.34" cy="108.33" rx="2.76" ry="1.23" fill="#f41fe6" transform="rotate(20 292.34 108.33)" style="mix-blend-mode:screen"/>
<ellipse cx="293.23" cy="103.18" rx="1.84" ry="1.23" fill="#f41fe6" style="mix-blend-mode:screen"/>
<ellipse cx="306.04" cy="102.74" rx="1.53" ry="0.77" fill="#f41fe6" style="mix-blend-mode:screen"/>
<ellipse cx="310.45" cy="105.68" rx="1.68" ry="1.23" fill="#f41fe6" style="mix-blend-mode:screen"/>
<ellipse cx="318.55" cy="102.74" rx="1.53" ry="0.77" fill="#f41fe6" style="mix-blend-mode:screen"/>
<ellipse cx="300.88" cy="109.36" rx="1.38" ry="1.23" fill="#f41fe6" style="mix-blend-mode:screen"/>
<ellipse cx="293.52" cy="113.04" rx="1.99" ry="1.07" fill="#f41fe6" style="mix-blend-mode:screen"/>
<ellipse cx="298.38" cy="114.96" rx="1.23" ry="1.23" fill="#f41fe6" style="mix-blend-mode:screen"/>
<ellipse cx="283.95" cy="112.60" rx="1.53" ry="0.92" fill="#f41fe6" style="mix-blend-mode:screen"/>
<ellipse cx="272.61" cy="111.28" rx="1.38" ry="1.23" fill="#f41fe6" style="mix-blend-mode:screen"/>
<ellipse cx="274.82" cy="116.43" rx="1.53" ry="1.23" fill="#f41fe6" transform="rotate(60 274.82 116.43)" style="mix-blend-mode:screen"/>
<ellipse cx="270.70" cy="116.43" rx="1.38" ry="1.07" fill="#f41fe6" style="mix-blend-mode:screen"/>
<ellipse cx="250.82" cy="113.78" rx="1.84" ry="1.68" fill="#f41fe6" transform="rotate(30 250.82 113.78)" style="mix-blend-mode:screen"/>
<ellipse cx="240.22" cy="116.43" rx="1.68" ry="1.23" fill="#f41fe6" transform="rotate(-20 240.22 116.43)" style="mix-blend-mode:screen"/>
<ellipse cx="230.65" cy="117.90" rx="1.23" ry="1.38" fill="#f41fe6" style="mix-blend-mode:screen"/>
<ellipse cx="264.07" cy="120.40" rx="1.38" ry="1.23" fill="#f41fe6" style="mix-blend-mode:screen"/>
<ellipse cx="276.59" cy="120.40" rx="1.38" ry="1.07" fill="#f41fe6" style="mix-blend-mode:screen"/>
<ellipse cx="315.31" cy="115.55" rx="1.53" ry="1.23" fill="#f41fe6" style="mix-blend-mode:screen"/>
<ellipse cx="303.09" cy="120.85" rx="1.23" ry="1.07" fill="#f41fe6" style="mix-blend-mode:screen"/>
<ellipse cx="296.91" cy="122.61" rx="1.84" ry="1.23" fill="#f41fe6" transform="rotate(50 296.91 122.61)" style="mix-blend-mode:screen"/>
<ellipse cx="310.01" cy="128.80" rx="1.84" ry="1.53" fill="#f41fe6" style="mix-blend-mode:screen"/>
<ellipse cx="275.85" cy="125.56" rx="1.23" ry="0.92" fill="#f41fe6" style="mix-blend-mode:screen"/>
<ellipse cx="280.56" cy="126.74" rx="1.38" ry="0.92" fill="#f41fe6" style="mix-blend-mode:screen"/>
<ellipse cx="229.18" cy="124.82" rx="0.92" ry="1.23" fill="#f41fe6" style="mix-blend-mode:screen"/>
<ellipse cx="244.93" cy="129.53" rx="1.53" ry="1.38" fill="#f41fe6" style="mix-blend-mode:screen"/>
<ellipse cx="249.06" cy="131.01" rx="2.45" ry="1.38" fill="#f41fe6" transform="rotate(-35 249.06 131.01)" style="mix-blend-mode:screen"/>
<ellipse cx="255.68" cy="129.53" rx="1.84" ry="1.07" fill="#f41fe6" transform="rotate(50 255.68 129.53)" style="mix-blend-mode:screen"/>
<ellipse cx="268.49" cy="131.45" rx="2.76" ry="1.68" fill="#f41fe6" style="mix-blend-mode:screen"/>
<ellipse cx="235.80" cy="137.04" rx="2.30" ry="1.53" fill="#f41fe6" transform="rotate(40 235.80 137.04)" style="mix-blend-mode:screen"/>
<ellipse cx="246.40" cy="136.16" rx="1.53" ry="1.23" fill="#f41fe6" style="mix-blend-mode:screen"/>
<ellipse cx="241.69" cy="139.10" rx="1.23" ry="1.38" fill="#f41fe6" style="mix-blend-mode:screen"/>
<ellipse cx="258.18" cy="138.52" rx="2.60" ry="1.38" fill="#f41fe6" transform="rotate(-35 258.18 138.52)" style="mix-blend-mode:screen"/>
<ellipse cx="254.94" cy="137.34" rx="1.07" ry="0.92" fill="#f41fe6" style="mix-blend-mode:screen"/>
<ellipse cx="285.42" cy="136.60" rx="1.99" ry="1.38" fill="#f41fe6" transform="rotate(-30 285.42 136.60)" style="mix-blend-mode:screen"/>
<ellipse cx="289.10" cy="140.28" rx="3.06" ry="1.84" fill="#f41fe6" transform="rotate(30 289.10 140.28)" style="mix-blend-mode:screen"/>
<ellipse cx="293.52" cy="137.04" rx="1.23" ry="1.23" fill="#f41fe6" style="mix-blend-mode:screen"/>
<ellipse cx="303.09" cy="139.10" rx="1.38" ry="1.38" fill="#f41fe6" style="mix-blend-mode:screen"/>
<ellipse cx="234.63" cy="143.96" rx="1.84" ry="0.92" fill="#f41fe6" transform="rotate(10 234.63 143.96)" style="mix-blend-mode:screen"/>
<ellipse cx="258.92" cy="142.49" rx="1.38" ry="1.23" fill="#f41fe6" style="mix-blend-mode:screen"/>
<ellipse cx="264.52" cy="142.93" rx="1.53" ry="1.07" fill="#f41fe6" style="mix-blend-mode:screen"/>
<ellipse cx="276.59" cy="143.96" rx="1.38" ry="1.23" fill="#f41fe6" style="mix-blend-mode:screen"/>
<ellipse cx="241.99" cy="152.80" rx="1.23" ry="1.23" fill="#f41fe6" style="mix-blend-mode:screen"/>
<ellipse cx="246.40" cy="154.27" rx="1.53" ry="1.23" fill="#f41fe6" transform="rotate(40 246.40 154.27)" style="mix-blend-mode:screen"/>
<ellipse cx="258.92" cy="153.83" rx="1.23" ry="1.68" fill="#f41fe6" style="mix-blend-mode:screen"/>
<ellipse cx="262.90" cy="154.27" rx="1.23" ry="1.53" fill="#f41fe6" style="mix-blend-mode:screen"/>
<ellipse cx="279.98" cy="152.50" rx="1.84" ry="1.38" fill="#f41fe6" transform="rotate(30 279.98 152.50)" style="mix-blend-mode:screen"/>
<ellipse cx="295.73" cy="152.80" rx="1.68" ry="0.92" fill="#f41fe6" style="mix-blend-mode:screen"/>
<ellipse cx="245.37" cy="158.69" rx="2.30" ry="1.68" fill="#f41fe6" style="mix-blend-mode:screen"/>
<ellipse cx="268.49" cy="160.90" rx="1.68" ry="1.38" fill="#f41fe6" style="mix-blend-mode:screen"/>
<ellipse cx="288.37" cy="158.98" rx="1.53" ry="1.07" fill="#f41fe6" style="mix-blend-mode:screen"/>
<ellipse cx="285.42" cy="163.84" rx="1.84" ry="1.38" fill="#f41fe6" transform="rotate(-30 285.42 163.84)" style="mix-blend-mode:screen"/>
<ellipse cx="301.62" cy="156.77" rx="1.23" ry="1.07" fill="#f41fe6" style="mix-blend-mode:screen"/>
<ellipse cx="265.55" cy="167.96" rx="1.68" ry="1.38" fill="#f41fe6" style="mix-blend-mode:screen"/>
<ellipse cx="286.60" cy="169.44" rx="2.14" ry="1.38" fill="#f41fe6" transform="rotate(-35 286.60 169.44)" style="mix-blend-mode:screen"/>
<ellipse cx="273.64" cy="149.85" rx="0.92" ry="0.77" fill="#f41fe6" style="mix-blend-mode:screen"/>
<ellipse cx="268.49" cy="149.41" rx="0.77" ry="0.77" fill="#f41fe6" opacity="0.6" style="mix-blend-mode:screen"/>
<ellipse cx="254.94" cy="114.96" rx="0.77" ry="0.77" fill="#f41fe6" opacity="0.6" style="mix-blend-mode:screen"/>
<ellipse cx="289.40" cy="116.72" rx="0.77" ry="0.61" fill="#f41fe6" opacity="0.6" style="mix-blend-mode:screen"/>
<ellipse cx="316.79" cy="124.09" rx="0.77" ry="0.61" fill="#f41fe6" opacity="0.6" style="mix-blend-mode:screen"/>
<ellipse cx="278.80" cy="102.44" rx="1.23" ry="0.61" fill="#f41fe6" style="mix-blend-mode:screen"/>
<ellipse cx="258.92" cy="102.44" rx="0.77" ry="0.46" fill="#f41fe6" opacity="0.6" style="mix-blend-mode:screen"/>
<ellipse cx="240.52" cy="134.39" rx="0.61" ry="0.61" fill="#f41fe6" opacity="0.6" style="mix-blend-mode:screen"/>
<ellipse cx="294.99" cy="144.70" rx="0.77" ry="0.61" fill="#f41fe6" opacity="0.6" style="mix-blend-mode:screen"/>
<ellipse cx="308.69" cy="145.88" rx="0.61" ry="0.46" fill="#f41fe6" opacity="0.6" style="mix-blend-mode:screen"/>
<ellipse cx="263.78" cy="116.72" rx="0.92" ry="0.77" fill="#f41fe6" style="mix-blend-mode:screen"/>
<ellipse cx="254.06" cy="161.63" rx="1.07" ry="0.61" fill="#f41fe6" transform="rotate(10 254.06 161.63)" style="mix-blend-mode:screen"/>
<ellipse cx="231.68" cy="104.94" rx="1.38" ry="1.07" fill="#23e823" style="mix-blend-mode:screen"/>
<ellipse cx="241.25" cy="102.74" rx="0.92" ry="0.61" fill="#23e823" style="mix-blend-mode:screen"/>
<ellipse cx="253.77" cy="103.18" rx="1.53" ry="1.38" fill="#23e823" style="mix-blend-mode:screen"/>
<ellipse cx="250.82" cy="107.60" rx="1.53" ry="0.92" fill="#23e823" transform="rotate(-50 250.82 107.60)" style="mix-blend-mode:screen"/>
<ellipse cx="245.67" cy="114.96" rx="1.53" ry="1.07" fill="#23e823" transform="rotate(-20 245.67 114.96)" style="mix-blend-mode:screen"/>
<ellipse cx="249.06" cy="115.99" rx="1.07" ry="0.77" fill="#23e823" style="mix-blend-mode:screen"/>
<ellipse cx="244.64" cy="120.85" rx="1.53" ry="0.92" fill="#23e823" transform="rotate(-30 244.64 120.85)" style="mix-blend-mode:screen"/>
<ellipse cx="278.06" cy="109.80" rx="2.14" ry="1.23" fill="#23e823" transform="rotate(-35 278.06 109.80)" style="mix-blend-mode:screen"/>
<ellipse cx="278.80" cy="116.72" rx="1.23" ry="1.53" fill="#23e823" style="mix-blend-mode:screen"/>
<ellipse cx="263.78" cy="116.72" rx="1.53" ry="1.07" fill="#23e823" transform="rotate(-30 263.78 116.72)" style="mix-blend-mode:screen"/>
<ellipse cx="266.58" cy="123.79" rx="1.53" ry="1.07" fill="#23e823" transform="rotate(40 266.58 123.79)" style="mix-blend-mode:screen"/>
<ellipse cx="295.73" cy="107.15" rx="1.23" ry="1.07" fill="#23e823" style="mix-blend-mode:screen"/>
<ellipse cx="296.91" cy="118.64" rx="1.23" ry="1.07" fill="#23e823" style="mix-blend-mode:screen"/>
<ellipse cx="293.52" cy="125.12" rx="0.92" ry="0.92" fill="#23e823" style="mix-blend-mode:screen"/>
<ellipse cx="234.92" cy="131.01" rx="1.38" ry="1.23" fill="#23e823" style="mix-blend-mode:screen"/>
<ellipse cx="264.81" cy="133.66" rx="1.07" ry="0.92" fill="#23e823" style="mix-blend-mode:screen"/>
<ellipse cx="293.23" cy="134.39" rx="0.92" ry="1.38" fill="#23e823" style="mix-blend-mode:screen"/>
<ellipse cx="237.57" cy="141.02" rx="1.53" ry="0.92" fill="#23e823" transform="rotate(60 237.57 141.02)" style="mix-blend-mode:screen"/>
<ellipse cx="249.64" cy="144.70" rx="0.77" ry="0.77" fill="#23e823" opacity="0.6" style="mix-blend-mode:screen"/>
<ellipse cx="243.90" cy="150.59" rx="1.53" ry="0.92" fill="#23e823" transform="rotate(50 243.90 150.59)" style="mix-blend-mode:screen"/>
<ellipse cx="267.02" cy="148.38" rx="1.53" ry="0.77" fill="#23e823" transform="rotate(60 267.02 148.38)" style="mix-blend-mode:screen"/>
<ellipse cx="278.06" cy="148.82" rx="1.07" ry="0.77" fill="#23e823" transform="rotate(40 278.06 148.82)" style="mix-blend-mode:screen"/>
<ellipse cx="290.58" cy="154.56" rx="1.53" ry="1.07" fill="#23e823" transform="rotate(20 290.58 154.56)" style="mix-blend-mode:screen"/>
<ellipse cx="292.34" cy="157.66" rx="0.92" ry="0.92" fill="#23e823" style="mix-blend-mode:screen"/>
<ellipse cx="282.48" cy="160.16" rx="3.37" ry="1.38" fill="#23e823" transform="rotate(-65 282.48 160.16)" style="mix-blend-mode:screen"/>
<ellipse cx="263.78" cy="161.63" rx="1.23" ry="1.23" fill="#23e823" style="mix-blend-mode:screen"/>
<ellipse cx="254.06" cy="161.63" rx="1.99" ry="0.92" fill="#23e823" transform="rotate(10 254.06 161.63)" style="mix-blend-mode:screen"/>
<ellipse cx="275.56" cy="170.02" rx="1.07" ry="1.53" fill="#23e823" style="mix-blend-mode:screen"/>
<ellipse cx="308.25" cy="111.57" rx="0.61" ry="0.61" fill="#23e823" opacity="0.6" style="mix-blend-mode:screen"/>
<ellipse cx="282.92" cy="132.18" rx="0.77" ry="0.77" fill="#23e823" opacity="0.6" style="mix-blend-mode:screen"/>
<ellipse cx="318.26" cy="113.04" rx="0.46" ry="0.46" fill="#23e823" opacity="0.6" style="mix-blend-mode:screen"/>
<ellipse cx="284.69" cy="114.96" rx="0.77" ry="0.61" fill="#23e823" opacity="0.6" style="mix-blend-mode:screen"/>
<ellipse cx="243.46" cy="109.07" rx="0.61" ry="0.46" fill="#23e823" opacity="0.6" style="mix-blend-mode:screen"/>
<ellipse cx="246.11" cy="104.21" rx="0.77" ry="0.77" fill="#23e823" opacity="0.6" style="mix-blend-mode:screen"/>
<ellipse cx="245.37" cy="158.69" rx="1.23" ry="1.07" fill="#23e823" style="mix-blend-mode:screen"/>
</g></g>
<g clip-path="url(#cp3)"><g filter="url(#bl)" style="isolation:isolate">
<rect x="353.65" y="30.20" width="98.35" height="143.50" fill="#000"/>
<ellipse cx="379.29" cy="39.07" rx="0.92" ry="0.77" fill="#f41fe6" opacity="0.8" style="mix-blend-mode:screen"/>
<ellipse cx="377.82" cy="41.28" rx="0.77" ry="0.61" fill="#f41fe6" opacity="0.6" style="mix-blend-mode:screen"/>
<ellipse cx="388.57" cy="42.31" rx="0.92" ry="0.77" fill="#f41fe6" opacity="0.8" style="mix-blend-mode:screen"/>
<ellipse cx="381.50" cy="44.07" rx="1.23" ry="0.77" fill="#f41fe6" opacity="0.8" transform="rotate(-30 381.50 44.07)" style="mix-blend-mode:screen"/>
<ellipse cx="408.30" cy="37.15" rx="0.92" ry="0.77" fill="#f41fe6" opacity="0.8" style="mix-blend-mode:screen"/>
<ellipse cx="400.94" cy="52.61" rx="0.61" ry="0.61" fill="#f41fe6" opacity="0.6" style="mix-blend-mode:screen"/>
<ellipse cx="406.53" cy="55.56" rx="0.61" ry="0.92" fill="#f41fe6" opacity="0.8" style="mix-blend-mode:screen"/>
<ellipse cx="403.29" cy="58.50" rx="0.92" ry="0.77" fill="#f41fe6" opacity="0.8" style="mix-blend-mode:screen"/>
<ellipse cx="412.42" cy="58.50" rx="0.77" ry="0.61" fill="#f41fe6" opacity="0.6" style="mix-blend-mode:screen"/>
<ellipse cx="437.45" cy="60.42" rx="1.68" ry="0.92" fill="#f41fe6" opacity="0.8" transform="rotate(-50 437.45 60.42)" style="mix-blend-mode:screen"/>
<ellipse cx="429.80" cy="54.82" rx="0.77" ry="0.77" fill="#f41fe6" opacity="0.6" style="mix-blend-mode:screen"/>
<ellipse cx="431.56" cy="65.87" rx="0.77" ry="0.92" fill="#f41fe6" opacity="0.8" style="mix-blend-mode:screen"/>
<ellipse cx="383.71" cy="69.55" rx="1.07" ry="0.92" fill="#f41fe6" opacity="0.8" style="mix-blend-mode:screen"/>
<ellipse cx="413.16" cy="71.02" rx="0.92" ry="0.77" fill="#f41fe6" opacity="0.8" style="mix-blend-mode:screen"/>
<ellipse cx="378.56" cy="72.93" rx="0.77" ry="0.92" fill="#f41fe6" opacity="0.8" style="mix-blend-mode:screen"/>
<ellipse cx="366.04" cy="75.88" rx="1.38" ry="0.92" fill="#f41fe6" opacity="0.8" style="mix-blend-mode:screen"/>
<ellipse cx="379.74" cy="76.61" rx="1.23" ry="0.77" fill="#f41fe6" opacity="0.8" transform="rotate(20 379.74 76.61)" style="mix-blend-mode:screen"/>
<ellipse cx="437.16" cy="78.82" rx="0.77" ry="0.61" fill="#f41fe6" opacity="0.6" style="mix-blend-mode:screen"/>
<ellipse cx="423.17" cy="82.50" rx="0.77" ry="0.61" fill="#f41fe6" opacity="0.6" style="mix-blend-mode:screen"/>
<ellipse cx="418.31" cy="83.53" rx="0.77" ry="0.61" fill="#f41fe6" opacity="0.6" style="mix-blend-mode:screen"/>
<ellipse cx="446.73" cy="88.69" rx="1.23" ry="0.92" fill="#f41fe6" opacity="0.8" style="mix-blend-mode:screen"/>
<ellipse cx="428.62" cy="89.42" rx="1.07" ry="0.77" fill="#f41fe6" opacity="0.8" style="mix-blend-mode:screen"/>
<ellipse cx="429.36" cy="93.84" rx="1.23" ry="0.92" fill="#f41fe6" opacity="0.8" transform="rotate(-20 429.36 93.84)" style="mix-blend-mode:screen"/>
<ellipse cx="395.49" cy="89.42" rx="1.07" ry="0.77" fill="#f41fe6" opacity="0.8" style="mix-blend-mode:screen"/>
<ellipse cx="385.92" cy="92.66" rx="1.84" ry="0.92" fill="#f41fe6" opacity="0.8" transform="rotate(-50 385.92 92.66)" style="mix-blend-mode:screen"/>
<ellipse cx="394.46" cy="94.58" rx="0.92" ry="0.92" fill="#f41fe6" opacity="0.8" style="mix-blend-mode:screen"/>
<ellipse cx="405.36" cy="95.61" rx="1.38" ry="0.61" fill="#f41fe6" opacity="0.8" transform="rotate(60 405.36 95.61)" style="mix-blend-mode:screen"/>
<ellipse cx="389.16" cy="81.77" rx="0.61" ry="0.61" fill="#f41fe6" opacity="0.6" style="mix-blend-mode:screen"/>
<ellipse cx="382.98" cy="55.26" rx="0.46" ry="0.46" fill="#f41fe6" opacity="0.6" style="mix-blend-mode:screen"/>
<ellipse cx="374.88" cy="58.21" rx="0.46" ry="0.46" fill="#f41fe6" opacity="0.6" style="mix-blend-mode:screen"/>
<ellipse cx="392.99" cy="77.35" rx="0.46" ry="0.46" fill="#f41fe6" opacity="0.6" style="mix-blend-mode:screen"/>
<ellipse cx="399.47" cy="35.98" rx="2.14" ry="1.38" fill="#23e823" transform="rotate(-50 399.47 35.98)" style="mix-blend-mode:screen"/>
<ellipse cx="388.13" cy="37.89" rx="2.14" ry="1.07" fill="#23e823" transform="rotate(-15 388.13 37.89)" style="mix-blend-mode:screen"/>
<ellipse cx="419.05" cy="38.63" rx="1.23" ry="1.23" fill="#23e823" style="mix-blend-mode:screen"/>
<ellipse cx="423.91" cy="42.75" rx="1.38" ry="1.23" fill="#23e823" style="mix-blend-mode:screen"/>
<ellipse cx="371.93" cy="48.64" rx="1.07" ry="0.77" fill="#23e823" transform="rotate(-30 371.93 48.64)" style="mix-blend-mode:screen"/>
<ellipse cx="381.21" cy="50.85" rx="0.61" ry="0.61" fill="#23e823" opacity="0.6" style="mix-blend-mode:screen"/>
<ellipse cx="424.20" cy="57.47" rx="3.37" ry="1.53" fill="#23e823" transform="rotate(-30 424.20 57.47)" style="mix-blend-mode:screen"/>
<ellipse cx="434.51" cy="56.74" rx="1.84" ry="0.92" fill="#23e823" transform="rotate(55 434.51 56.74)" style="mix-blend-mode:screen"/>
<ellipse cx="409.18" cy="59.68" rx="1.99" ry="0.92" fill="#23e823" transform="rotate(15 409.18 59.68)" style="mix-blend-mode:screen"/>
<ellipse cx="421.99" cy="61.45" rx="1.23" ry="1.07" fill="#23e823" style="mix-blend-mode:screen"/>
<ellipse cx="426.71" cy="63.36" rx="1.53" ry="1.38" fill="#23e823" style="mix-blend-mode:screen"/>
<ellipse cx="366.04" cy="72.05" rx="1.53" ry="1.53" fill="#23e823" style="mix-blend-mode:screen"/>
<ellipse cx="375.17" cy="72.49" rx="1.23" ry="0.92" fill="#23e823" style="mix-blend-mode:screen"/>
<ellipse cx="440.40" cy="68.81" rx="1.23" ry="1.07" fill="#23e823" style="mix-blend-mode:screen"/>
<ellipse cx="435.25" cy="73.23" rx="1.23" ry="1.84" fill="#23e823" style="mix-blend-mode:screen"/>
<ellipse cx="394.02" cy="80.59" rx="1.23" ry="1.53" fill="#23e823" transform="rotate(-20 394.02 80.59)" style="mix-blend-mode:screen"/>
<ellipse cx="396.96" cy="83.53" rx="1.23" ry="1.23" fill="#23e823" style="mix-blend-mode:screen"/>
<ellipse cx="401.38" cy="82.80" rx="1.53" ry="1.07" fill="#23e823" style="mix-blend-mode:screen"/>
<ellipse cx="400.20" cy="86.92" rx="1.84" ry="1.23" fill="#23e823" transform="rotate(-10 400.20 86.92)" style="mix-blend-mode:screen"/>
<ellipse cx="418.02" cy="85.01" rx="3.37" ry="1.07" fill="#23e823" transform="rotate(-15 418.02 85.01)" style="mix-blend-mode:screen"/>
<ellipse cx="438.48" cy="84.71" rx="1.23" ry="1.07" fill="#23e823" style="mix-blend-mode:screen"/>
<ellipse cx="389.16" cy="89.42" rx="1.07" ry="1.53" fill="#23e823" transform="rotate(-20 389.16 89.42)" style="mix-blend-mode:screen"/>
<ellipse cx="419.05" cy="92.81" rx="2.14" ry="1.07" fill="#23e823" transform="rotate(-10 419.05 92.81)" style="mix-blend-mode:screen"/>
<ellipse cx="404.33" cy="96.05" rx="1.53" ry="2.14" fill="#23e823" transform="rotate(-20 404.33 96.05)" style="mix-blend-mode:screen"/>
<ellipse cx="441.13" cy="94.58" rx="1.84" ry="0.92" fill="#23e823" transform="rotate(15 441.13 94.58)" style="mix-blend-mode:screen"/>
<ellipse cx="443.79" cy="96.34" rx="1.38" ry="1.23" fill="#23e823" style="mix-blend-mode:screen"/>
<ellipse cx="358.68" cy="98.26" rx="1.53" ry="3.06" fill="#23e823" transform="rotate(20 358.68 98.26)" style="mix-blend-mode:screen"/>
<ellipse cx="370.90" cy="97.23" rx="1.07" ry="1.38" fill="#23e823" transform="rotate(-20 370.90 97.23)" style="mix-blend-mode:screen"/>
<ellipse cx="373.40" cy="100.47" rx="0.92" ry="0.92" fill="#23e823" style="mix-blend-mode:screen"/>
<ellipse cx="368.55" cy="59.98" rx="0.46" ry="0.61" fill="#23e823" opacity="0.6" style="mix-blend-mode:screen"/>
<ellipse cx="406.53" cy="74.26" rx="0.46" ry="0.46" fill="#23e823" opacity="0.6" style="mix-blend-mode:screen"/>
<ellipse cx="411.69" cy="83.53" rx="0.61" ry="0.77" fill="#23e823" opacity="0.6" style="mix-blend-mode:screen"/>
<ellipse cx="398.88" cy="89.87" rx="0.61" ry="0.77" fill="#23e823" opacity="0.6" style="mix-blend-mode:screen"/>
<ellipse cx="432.30" cy="48.49" rx="0.46" ry="0.46" fill="#23e823" opacity="0.6" style="mix-blend-mode:screen"/>
<ellipse cx="396.23" cy="73.67" rx="0.46" ry="0.46" fill="#23e823" opacity="0.6" style="mix-blend-mode:screen"/>
<ellipse cx="376.79" cy="83.83" rx="0.46" ry="0.46" fill="#23e823" opacity="0.6" style="mix-blend-mode:screen"/>
<ellipse cx="363.83" cy="118.64" rx="1.38" ry="0.92" fill="#f41fe6" opacity="0.8" transform="rotate(10 363.83 118.64)" style="mix-blend-mode:screen"/>
<ellipse cx="385.18" cy="112.60" rx="1.07" ry="0.92" fill="#f41fe6" opacity="0.8" style="mix-blend-mode:screen"/>
<ellipse cx="374.14" cy="121.88" rx="1.23" ry="0.92" fill="#f41fe6" opacity="0.8" style="mix-blend-mode:screen"/>
<ellipse cx="371.64" cy="128.06" rx="0.92" ry="0.92" fill="#f41fe6" opacity="0.8" style="mix-blend-mode:screen"/>
<ellipse cx="412.87" cy="109.07" rx="0.92" ry="0.61" fill="#f41fe6" opacity="0.8" style="mix-blend-mode:screen"/>
<ellipse cx="413.90" cy="120.70" rx="1.07" ry="0.77" fill="#f41fe6" opacity="0.8" style="mix-blend-mode:screen"/>
<ellipse cx="406.53" cy="123.79" rx="0.61" ry="0.77" fill="#f41fe6" opacity="0.6" style="mix-blend-mode:screen"/>
<ellipse cx="426.71" cy="128.80" rx="1.07" ry="0.77" fill="#f41fe6" opacity="0.8" style="mix-blend-mode:screen"/>
<ellipse cx="434.95" cy="116.28" rx="0.77" ry="0.77" fill="#f41fe6" opacity="0.6" style="mix-blend-mode:screen"/>
<ellipse cx="379.00" cy="139.99" rx="0.92" ry="0.77" fill="#f41fe6" opacity="0.8" transform="rotate(30 379.00 139.99)" style="mix-blend-mode:screen"/>
<ellipse cx="366.48" cy="145.73" rx="0.61" ry="0.77" fill="#f41fe6" opacity="0.6" style="mix-blend-mode:screen"/>
<ellipse cx="379.74" cy="145.73" rx="0.92" ry="0.77" fill="#f41fe6" opacity="0.8" transform="rotate(30 379.74 145.73)" style="mix-blend-mode:screen"/>
<ellipse cx="419.34" cy="144.40" rx="1.07" ry="0.92" fill="#f41fe6" opacity="0.8" style="mix-blend-mode:screen"/>
<ellipse cx="421.99" cy="143.23" rx="0.77" ry="0.61" fill="#f41fe6" opacity="0.6" style="mix-blend-mode:screen"/>
<ellipse cx="421.70" cy="148.82" rx="1.23" ry="0.92" fill="#f41fe6" opacity="0.8" transform="rotate(-30 421.70 148.82)" style="mix-blend-mode:screen"/>
<ellipse cx="366.78" cy="153.09" rx="0.92" ry="0.77" fill="#f41fe6" opacity="0.8" style="mix-blend-mode:screen"/>
<ellipse cx="401.09" cy="154.71" rx="1.38" ry="1.23" fill="#f41fe6" opacity="0.8" style="mix-blend-mode:screen"/>
<ellipse cx="409.48" cy="155.01" rx="1.53" ry="0.92" fill="#f41fe6" opacity="0.8" style="mix-blend-mode:screen"/>
<ellipse cx="419.34" cy="155.74" rx="1.07" ry="1.23" fill="#f41fe6" opacity="0.8" style="mix-blend-mode:screen"/>
<ellipse cx="423.02" cy="156.18" rx="0.92" ry="0.77" fill="#f41fe6" opacity="0.8" style="mix-blend-mode:screen"/>
<ellipse cx="382.53" cy="165.02" rx="0.77" ry="0.61" fill="#f41fe6" opacity="0.6" style="mix-blend-mode:screen"/>
<ellipse cx="362.66" cy="137.34" rx="0.61" ry="0.61" fill="#f41fe6" opacity="0.6" style="mix-blend-mode:screen"/>
<ellipse cx="420.82" cy="125.56" rx="0.46" ry="0.61" fill="#f41fe6" opacity="0.6" style="mix-blend-mode:screen"/>
<ellipse cx="442.17" cy="103.77" rx="0.61" ry="0.61" fill="#f41fe6" opacity="0.6" style="mix-blend-mode:screen"/>
<ellipse cx="369.43" cy="105.24" rx="0.92" ry="1.53" fill="#23e823" style="mix-blend-mode:screen"/>
<ellipse cx="379.29" cy="104.65" rx="1.68" ry="0.77" fill="#23e823" transform="rotate(35 379.29 104.65)" style="mix-blend-mode:screen"/>
<ellipse cx="405.06" cy="108.92" rx="1.23" ry="1.23" fill="#23e823" style="mix-blend-mode:screen"/>
<ellipse cx="416.55" cy="107.89" rx="0.77" ry="0.77" fill="#23e823" opacity="0.6" style="mix-blend-mode:screen"/>
<ellipse cx="434.95" cy="107.15" rx="1.07" ry="1.23" fill="#23e823" style="mix-blend-mode:screen"/>
<ellipse cx="437.01" cy="109.66" rx="1.07" ry="1.07" fill="#23e823" style="mix-blend-mode:screen"/>
<ellipse cx="437.01" cy="114.96" rx="1.07" ry="1.07" fill="#23e823" style="mix-blend-mode:screen"/>
<ellipse cx="369.72" cy="112.60" rx="1.84" ry="1.23" fill="#23e823" transform="rotate(-20 369.72 112.60)" style="mix-blend-mode:screen"/>
<ellipse cx="391.07" cy="111.57" rx="1.23" ry="1.53" fill="#23e823" transform="rotate(-20 391.07 111.57)" style="mix-blend-mode:screen"/>
<ellipse cx="393.58" cy="110.54" rx="0.92" ry="0.92" fill="#23e823" style="mix-blend-mode:screen"/>
<ellipse cx="411.98" cy="112.01" rx="0.77" ry="1.07" fill="#23e823" style="mix-blend-mode:screen"/>
<ellipse cx="386.36" cy="117.02" rx="1.84" ry="1.23" fill="#23e823" style="mix-blend-mode:screen"/>
<ellipse cx="360.60" cy="120.40" rx="1.99" ry="0.92" fill="#23e823" transform="rotate(-40 360.60 120.40)" style="mix-blend-mode:screen"/>
<ellipse cx="362.07" cy="124.09" rx="1.38" ry="1.07" fill="#23e823" style="mix-blend-mode:screen"/>
<ellipse cx="398.14" cy="122.61" rx="2.14" ry="1.23" fill="#23e823" transform="rotate(-10 398.14 122.61)" style="mix-blend-mode:screen"/>
<ellipse cx="416.10" cy="123.35" rx="0.77" ry="1.07" fill="#23e823" style="mix-blend-mode:screen"/>
<ellipse cx="384.89" cy="127.33" rx="0.92" ry="1.53" fill="#23e823" style="mix-blend-mode:screen"/>
<ellipse cx="398.14" cy="127.77" rx="1.07" ry="0.77" fill="#23e823" style="mix-blend-mode:screen"/>
<ellipse cx="404.62" cy="127.47" rx="0.92" ry="1.23" fill="#23e823" style="mix-blend-mode:screen"/>
<ellipse cx="433.04" cy="128.21" rx="1.38" ry="1.07" fill="#23e823" style="mix-blend-mode:screen"/>
<ellipse cx="366.78" cy="129.24" rx="1.07" ry="1.38" fill="#23e823" style="mix-blend-mode:screen"/>
<ellipse cx="367.81" cy="132.48" rx="1.23" ry="0.92" fill="#23e823" transform="rotate(40 367.81 132.48)" style="mix-blend-mode:screen"/>
<ellipse cx="402.12" cy="131.89" rx="0.92" ry="0.77" fill="#23e823" style="mix-blend-mode:screen"/>
<ellipse cx="376.79" cy="137.34" rx="1.99" ry="0.92" fill="#23e823" transform="rotate(-40 376.79 137.34)" style="mix-blend-mode:screen"/>
<ellipse cx="381.06" cy="137.04" rx="1.38" ry="1.07" fill="#23e823" style="mix-blend-mode:screen"/>
<ellipse cx="370.46" cy="139.99" rx="2.14" ry="1.53" fill="#23e823" transform="rotate(-45 370.46 139.99)" style="mix-blend-mode:screen"/>
<ellipse cx="391.81" cy="136.60" rx="1.38" ry="1.38" fill="#23e823" style="mix-blend-mode:screen"/>
<ellipse cx="415.37" cy="136.60" rx="2.14" ry="1.38" fill="#23e823" transform="rotate(-10 415.37 136.60)" style="mix-blend-mode:screen"/>
<ellipse cx="431.86" cy="136.60" rx="2.45" ry="0.92" fill="#23e823" transform="rotate(-35 431.86 136.60)" style="mix-blend-mode:screen"/>
<ellipse cx="438.19" cy="135.13" rx="0.92" ry="0.92" fill="#23e823" style="mix-blend-mode:screen"/>
<ellipse cx="405.50" cy="141.02" rx="2.14" ry="1.53" fill="#23e823" transform="rotate(-45 405.50 141.02)" style="mix-blend-mode:screen"/>
<ellipse cx="404.03" cy="146.61" rx="0.61" ry="0.61" fill="#23e823" opacity="0.6" style="mix-blend-mode:screen"/>
<ellipse cx="433.48" cy="146.17" rx="0.77" ry="0.77" fill="#23e823" opacity="0.6" style="mix-blend-mode:screen"/>
<ellipse cx="376.35" cy="155.45" rx="1.53" ry="1.23" fill="#23e823" transform="rotate(-30 376.35 155.45)" style="mix-blend-mode:screen"/>
<ellipse cx="385.18" cy="163.55" rx="1.38" ry="1.68" fill="#23e823" style="mix-blend-mode:screen"/>
<ellipse cx="400.20" cy="162.37" rx="2.45" ry="0.92" fill="#23e823" transform="rotate(-50 400.20 162.37)" style="mix-blend-mode:screen"/>
<ellipse cx="429.80" cy="117.02" rx="0.61" ry="0.46" fill="#23e823" opacity="0.6" style="mix-blend-mode:screen"/>
<ellipse cx="396.67" cy="115.69" rx="0.61" ry="0.61" fill="#23e823" opacity="0.6" style="mix-blend-mode:screen"/>
<ellipse cx="392.99" cy="118.93" rx="0.46" ry="0.46" fill="#23e823" opacity="0.6" style="mix-blend-mode:screen"/>
<ellipse cx="395.49" cy="139.55" rx="0.46" ry="0.46" fill="#23e823" opacity="0.6" style="mix-blend-mode:screen"/>
<ellipse cx="364.57" cy="149.85" rx="0.46" ry="0.46" fill="#23e823" opacity="0.6" style="mix-blend-mode:screen"/>
<ellipse cx="357.65" cy="105.98" rx="0.61" ry="0.61" fill="#23e823" opacity="0.6" style="mix-blend-mode:screen"/>
<ellipse cx="441.43" cy="131.89" rx="0.46" ry="0.61" fill="#23e823" opacity="0.6" style="mix-blend-mode:screen"/>
<ellipse cx="398.44" cy="111.87" rx="0.46" ry="0.61" fill="#23e823" opacity="0.6" style="mix-blend-mode:screen"/>
</g></g>
<g clip-path="url(#cp4)"><g filter="url(#bl)" style="isolation:isolate">
<rect x="452.00" y="30.20" width="98.70" height="143.50" fill="#000"/>
<ellipse cx="487.87" cy="33.18" rx="1.53" ry="1.07" fill="#f41fe6" style="mix-blend-mode:screen"/>
<ellipse cx="504.06" cy="39.36" rx="2.14" ry="1.23" fill="#f41fe6" transform="rotate(10 504.06 39.36)" style="mix-blend-mode:screen"/>
<ellipse cx="513.34" cy="38.92" rx="1.53" ry="1.53" fill="#f41fe6" transform="rotate(30 513.34 38.92)" style="mix-blend-mode:screen"/>
<ellipse cx="502.88" cy="50.40" rx="1.99" ry="1.68" fill="#f41fe6" style="mix-blend-mode:screen"/>
<ellipse cx="517.31" cy="52.91" rx="1.38" ry="1.07" fill="#f41fe6" transform="rotate(-30 517.31 52.91)" style="mix-blend-mode:screen"/>
<ellipse cx="495.52" cy="58.21" rx="2.14" ry="1.23" fill="#f41fe6" transform="rotate(40 495.52 58.21)" style="mix-blend-mode:screen"/>
<ellipse cx="534.25" cy="61.89" rx="1.99" ry="1.23" fill="#f41fe6" transform="rotate(-20 534.25 61.89)" style="mix-blend-mode:screen"/>
<ellipse cx="537.63" cy="62.48" rx="1.23" ry="1.68" fill="#f41fe6" style="mix-blend-mode:screen"/>
<ellipse cx="518.49" cy="68.07" rx="3.37" ry="1.23" fill="#f41fe6" transform="rotate(-55 518.49 68.07)" style="mix-blend-mode:screen"/>
<ellipse cx="529.83" cy="66.90" rx="1.99" ry="1.99" fill="#f41fe6" style="mix-blend-mode:screen"/>
<ellipse cx="493.31" cy="71.02" rx="1.68" ry="1.07" fill="#f41fe6" style="mix-blend-mode:screen"/>
<ellipse cx="483.01" cy="74.99" rx="1.68" ry="1.38" fill="#f41fe6" style="mix-blend-mode:screen"/>
<ellipse cx="528.06" cy="75.44" rx="2.30" ry="1.07" fill="#f41fe6" transform="rotate(60 528.06 75.44)" style="mix-blend-mode:screen"/>
<ellipse cx="515.84" cy="79.41" rx="1.84" ry="0.92" fill="#f41fe6" style="mix-blend-mode:screen"/>
<ellipse cx="463.57" cy="77.20" rx="1.23" ry="1.23" fill="#f41fe6" style="mix-blend-mode:screen"/>
<ellipse cx="466.96" cy="80.15" rx="2.14" ry="1.23" fill="#f41fe6" transform="rotate(-10 466.96 80.15)" style="mix-blend-mode:screen"/>
<ellipse cx="478.00" cy="82.06" rx="2.30" ry="1.07" fill="#f41fe6" transform="rotate(50 478.00 82.06)" style="mix-blend-mode:screen"/>
<ellipse cx="463.13" cy="85.01" rx="1.38" ry="1.38" fill="#f41fe6" style="mix-blend-mode:screen"/>
<ellipse cx="509.21" cy="83.98" rx="2.76" ry="1.68" fill="#f41fe6" transform="rotate(25 509.21 83.98)" style="mix-blend-mode:screen"/>
<ellipse cx="514.66" cy="85.30" rx="1.84" ry="1.38" fill="#f41fe6" transform="rotate(-20 514.66 85.30)" style="mix-blend-mode:screen"/>
<ellipse cx="531.01" cy="89.42" rx="2.76" ry="1.38" fill="#f41fe6" transform="rotate(-45 531.01 89.42)" style="mix-blend-mode:screen"/>
<ellipse cx="500.38" cy="95.02" rx="1.68" ry="1.38" fill="#f41fe6" transform="rotate(50 500.38 95.02)" style="mix-blend-mode:screen"/>
<ellipse cx="487.13" cy="95.31" rx="1.23" ry="1.53" fill="#f41fe6" style="mix-blend-mode:screen"/>
<ellipse cx="464.60" cy="98.99" rx="2.14" ry="1.38" fill="#f41fe6" transform="rotate(45 464.60 98.99)" style="mix-blend-mode:screen"/>
<ellipse cx="523.20" cy="100.47" rx="1.53" ry="1.23" fill="#f41fe6" transform="rotate(40 523.20 100.47)" style="mix-blend-mode:screen"/>
<ellipse cx="494.93" cy="100.91" rx="1.23" ry="0.77" fill="#f41fe6" style="mix-blend-mode:screen"/>
<ellipse cx="482.71" cy="79.85" rx="0.77" ry="1.07" fill="#f41fe6" style="mix-blend-mode:screen"/>
<ellipse cx="481.24" cy="85.01" rx="0.92" ry="0.77" fill="#f41fe6" style="mix-blend-mode:screen"/>
<ellipse cx="505.83" cy="86.18" rx="1.07" ry="0.92" fill="#f41fe6" style="mix-blend-mode:screen"/>
<ellipse cx="535.42" cy="78.09" rx="0.77" ry="0.77" fill="#f41fe6" opacity="0.6" style="mix-blend-mode:screen"/>
<ellipse cx="518.34" cy="73.67" rx="0.92" ry="0.77" fill="#f41fe6" style="mix-blend-mode:screen"/>
<ellipse cx="528.65" cy="96.05" rx="0.77" ry="0.77" fill="#f41fe6" opacity="0.6" style="mix-blend-mode:screen"/>
<ellipse cx="533.51" cy="83.98" rx="1.38" ry="1.38" fill="#f41fe6" style="mix-blend-mode:screen"/>
<ellipse cx="522.17" cy="46.72" rx="0.61" ry="0.61" fill="#f41fe6" opacity="0.6" style="mix-blend-mode:screen"/>
<ellipse cx="492.58" cy="32.74" rx="1.23" ry="0.77" fill="#23e823" style="mix-blend-mode:screen"/>
<ellipse cx="487.13" cy="33.47" rx="0.92" ry="0.77" fill="#23e823" style="mix-blend-mode:screen"/>
<ellipse cx="474.17" cy="43.34" rx="1.38" ry="0.92" fill="#23e823" transform="rotate(-40 474.17 43.34)" style="mix-blend-mode:screen"/>
<ellipse cx="489.78" cy="44.07" rx="1.53" ry="1.07" fill="#23e823" transform="rotate(-20 489.78 44.07)" style="mix-blend-mode:screen"/>
<ellipse cx="528.65" cy="43.78" rx="1.68" ry="0.92" fill="#23e823" transform="rotate(30 528.65 43.78)" style="mix-blend-mode:screen"/>
<ellipse cx="482.42" cy="45.69" rx="0.61" ry="0.61" fill="#23e823" opacity="0.6" style="mix-blend-mode:screen"/>
<ellipse cx="522.17" cy="46.72" rx="0.77" ry="0.77" fill="#23e823" opacity="0.6" style="mix-blend-mode:screen"/>
<ellipse cx="510.69" cy="52.32" rx="0.77" ry="0.77" fill="#23e823" opacity="0.6" style="mix-blend-mode:screen"/>
<ellipse cx="466.81" cy="55.26" rx="0.92" ry="1.38" fill="#23e823" style="mix-blend-mode:screen"/>
<ellipse cx="500.09" cy="57.33" rx="1.84" ry="1.23" fill="#23e823" transform="rotate(-10 500.09 57.33)" style="mix-blend-mode:screen"/>
<ellipse cx="492.28" cy="64.10" rx="1.23" ry="1.07" fill="#23e823" transform="rotate(-30 492.28 64.10)" style="mix-blend-mode:screen"/>
<ellipse cx="503.03" cy="64.10" rx="1.07" ry="1.38" fill="#23e823" style="mix-blend-mode:screen"/>
<ellipse cx="508.48" cy="63.36" rx="0.77" ry="0.92" fill="#23e823" style="mix-blend-mode:screen"/>
<ellipse cx="469.17" cy="69.25" rx="1.38" ry="1.23" fill="#23e823" style="mix-blend-mode:screen"/>
<ellipse cx="487.57" cy="71.75" rx="1.53" ry="1.07" fill="#23e823" transform="rotate(30 487.57 71.75)" style="mix-blend-mode:screen"/>
<ellipse cx="504.50" cy="74.40" rx="1.68" ry="1.07" fill="#23e823" transform="rotate(-30 504.50 74.40)" style="mix-blend-mode:screen"/>
<ellipse cx="472.11" cy="74.40" rx="1.23" ry="0.92" fill="#23e823" transform="rotate(-30 472.11 74.40)" style="mix-blend-mode:screen"/>
<ellipse cx="533.51" cy="83.98" rx="1.53" ry="1.53" fill="#23e823" style="mix-blend-mode:screen"/>
<ellipse cx="537.93" cy="86.48" rx="1.84" ry="0.77" fill="#23e823" style="mix-blend-mode:screen"/>
<ellipse cx="491.84" cy="86.18" rx="1.23" ry="1.68" fill="#23e823" style="mix-blend-mode:screen"/>
<ellipse cx="485.66" cy="88.69" rx="1.07" ry="1.23" fill="#23e823" style="mix-blend-mode:screen"/>
<ellipse cx="502.59" cy="88.98" rx="1.84" ry="1.07" fill="#23e823" style="mix-blend-mode:screen"/>
<ellipse cx="509.66" cy="90.45" rx="2.14" ry="1.07" fill="#23e823" transform="rotate(-40 509.66 90.45)" style="mix-blend-mode:screen"/>
<ellipse cx="527.18" cy="90.90" rx="1.07" ry="1.38" fill="#23e823" style="mix-blend-mode:screen"/>
<ellipse cx="467.25" cy="95.61" rx="2.45" ry="1.53" fill="#23e823" transform="rotate(-15 467.25 95.61)" style="mix-blend-mode:screen"/>
<ellipse cx="507.74" cy="96.79" rx="1.53" ry="1.53" fill="#23e823" style="mix-blend-mode:screen"/>
<ellipse cx="510.39" cy="99.29" rx="1.07" ry="1.23" fill="#23e823" style="mix-blend-mode:screen"/>
<ellipse cx="471.37" cy="100.47" rx="2.45" ry="1.23" fill="#23e823" transform="rotate(-15 471.37 100.47)" style="mix-blend-mode:screen"/>
<ellipse cx="522.47" cy="95.31" rx="0.77" ry="0.77" fill="#23e823" opacity="0.6" style="mix-blend-mode:screen"/>
<ellipse cx="465.04" cy="80.59" rx="0.92" ry="0.77" fill="#23e823" style="mix-blend-mode:screen"/>
<ellipse cx="530.56" cy="50.40" rx="0.46" ry="0.46" fill="#23e823" opacity="0.6" style="mix-blend-mode:screen"/>
<ellipse cx="546.02" cy="89.42" rx="0.46" ry="0.61" fill="#23e823" opacity="0.6" style="mix-blend-mode:screen"/>
<ellipse cx="474.32" cy="103.47" rx="1.53" ry="1.38" fill="#f41fe6" transform="rotate(-30 474.32 103.47)" style="mix-blend-mode:screen"/>
<ellipse cx="495.23" cy="102.74" rx="1.53" ry="0.92" fill="#f41fe6" style="mix-blend-mode:screen"/>
<ellipse cx="516.13" cy="104.65" rx="1.99" ry="1.23" fill="#f41fe6" transform="rotate(-55 516.13 104.65)" style="mix-blend-mode:screen"/>
<ellipse cx="522.91" cy="103.47" rx="1.38" ry="1.38" fill="#f41fe6" style="mix-blend-mode:screen"/>
<ellipse cx="526.88" cy="103.18" rx="1.23" ry="1.53" fill="#f41fe6" style="mix-blend-mode:screen"/>
<ellipse cx="532.77" cy="102.74" rx="1.23" ry="0.92" fill="#f41fe6" style="mix-blend-mode:screen"/>
<ellipse cx="534.98" cy="104.94" rx="1.07" ry="1.07" fill="#f41fe6" style="mix-blend-mode:screen"/>
<ellipse cx="486.69" cy="109.66" rx="1.68" ry="1.23" fill="#f41fe6" transform="rotate(-30 486.69 109.66)" style="mix-blend-mode:screen"/>
<ellipse cx="510.69" cy="111.57" rx="1.23" ry="1.84" fill="#f41fe6" style="mix-blend-mode:screen"/>
<ellipse cx="514.81" cy="112.60" rx="1.23" ry="1.23" fill="#f41fe6" style="mix-blend-mode:screen"/>
<ellipse cx="500.82" cy="115.25" rx="1.99" ry="1.99" fill="#f41fe6" style="mix-blend-mode:screen"/>
<ellipse cx="512.90" cy="116.43" rx="1.99" ry="1.38" fill="#f41fe6" transform="rotate(-20 512.90 116.43)" style="mix-blend-mode:screen"/>
<ellipse cx="530.12" cy="120.40" rx="2.45" ry="1.38" fill="#f41fe6" transform="rotate(-20 530.12 120.40)" style="mix-blend-mode:screen"/>
<ellipse cx="538.96" cy="119.96" rx="1.38" ry="1.38" fill="#f41fe6" style="mix-blend-mode:screen"/>
<ellipse cx="512.16" cy="121.14" rx="1.53" ry="1.07" fill="#f41fe6" style="mix-blend-mode:screen"/>
<ellipse cx="477.12" cy="122.61" rx="1.23" ry="1.99" fill="#f41fe6" transform="rotate(10 477.12 122.61)" style="mix-blend-mode:screen"/>
<ellipse cx="488.60" cy="124.38" rx="1.99" ry="1.07" fill="#f41fe6" transform="rotate(-50 488.60 124.38)" style="mix-blend-mode:screen"/>
<ellipse cx="493.46" cy="124.53" rx="0.92" ry="1.23" fill="#f41fe6" style="mix-blend-mode:screen"/>
<ellipse cx="501.85" cy="138.07" rx="1.99" ry="1.84" fill="#f41fe6" style="mix-blend-mode:screen"/>
<ellipse cx="513.34" cy="137.63" rx="1.84" ry="1.38" fill="#f41fe6" transform="rotate(-40 513.34 137.63)" style="mix-blend-mode:screen"/>
<ellipse cx="491.25" cy="143.23" rx="1.84" ry="1.23" fill="#f41fe6" transform="rotate(40 491.25 143.23)" style="mix-blend-mode:screen"/>
<ellipse cx="488.31" cy="145.73" rx="1.68" ry="1.84" fill="#f41fe6" style="mix-blend-mode:screen"/>
<ellipse cx="508.18" cy="146.91" rx="1.84" ry="1.07" fill="#f41fe6" transform="rotate(10 508.18 146.91)" style="mix-blend-mode:screen"/>
<ellipse cx="532.04" cy="146.17" rx="1.84" ry="1.53" fill="#f41fe6" style="mix-blend-mode:screen"/>
<ellipse cx="524.67" cy="144.70" rx="0.77" ry="0.77" fill="#f41fe6" opacity="0.6" style="mix-blend-mode:screen"/>
<ellipse cx="471.67" cy="151.77" rx="1.84" ry="1.38" fill="#f41fe6" transform="rotate(40 471.67 151.77)" style="mix-blend-mode:screen"/>
<ellipse cx="475.06" cy="152.06" rx="1.07" ry="2.14" fill="#f41fe6" style="mix-blend-mode:screen"/>
<ellipse cx="486.69" cy="152.50" rx="2.45" ry="1.07" fill="#f41fe6" transform="rotate(20 486.69 152.50)" style="mix-blend-mode:screen"/>
<ellipse cx="482.42" cy="149.12" rx="0.92" ry="0.77" fill="#f41fe6" style="mix-blend-mode:screen"/>
<ellipse cx="491.99" cy="151.33" rx="0.92" ry="0.77" fill="#f41fe6" style="mix-blend-mode:screen"/>
<ellipse cx="523.20" cy="156.18" rx="1.07" ry="0.92" fill="#f41fe6" style="mix-blend-mode:screen"/>
<ellipse cx="500.38" cy="166.05" rx="1.99" ry="1.23" fill="#f41fe6" transform="rotate(10 500.38 166.05)" style="mix-blend-mode:screen"/>
<ellipse cx="487.13" cy="169.73" rx="1.38" ry="1.53" fill="#f41fe6" style="mix-blend-mode:screen"/>
<ellipse cx="503.62" cy="170.47" rx="1.53" ry="1.38" fill="#f41fe6" transform="rotate(-20 503.62 170.47)" style="mix-blend-mode:screen"/>
<ellipse cx="517.75" cy="154.27" rx="0.46" ry="0.46" fill="#f41fe6" opacity="0.6" style="mix-blend-mode:screen"/>
<ellipse cx="498.61" cy="111.28" rx="0.46" ry="0.46" fill="#f41fe6" opacity="0.6" style="mix-blend-mode:screen"/>
<ellipse cx="504.80" cy="123.06" rx="0.46" ry="0.46" fill="#f41fe6" opacity="0.6" style="mix-blend-mode:screen"/>
<ellipse cx="525.41" cy="110.10" rx="0.46" ry="0.46" fill="#f41fe6" opacity="0.6" style="mix-blend-mode:screen"/>
<ellipse cx="469.90" cy="102.44" rx="1.84" ry="0.77" fill="#23e823" style="mix-blend-mode:screen"/>
<ellipse cx="459.45" cy="110.83" rx="1.53" ry="3.06" fill="#23e823" transform="rotate(20 459.45 110.83)" style="mix-blend-mode:screen"/>
<ellipse cx="465.78" cy="113.34" rx="1.07" ry="1.23" fill="#23e823" style="mix-blend-mode:screen"/>
<ellipse cx="477.12" cy="115.99" rx="1.07" ry="1.07" fill="#23e823" style="mix-blend-mode:screen"/>
<ellipse cx="504.80" cy="109.66" rx="1.23" ry="0.92" fill="#23e823" transform="rotate(-30 504.80 109.66)" style="mix-blend-mode:screen"/>
<ellipse cx="474.61" cy="123.06" rx="0.92" ry="1.23" fill="#23e823" style="mix-blend-mode:screen"/>
<ellipse cx="509.21" cy="122.61" rx="1.07" ry="0.92" fill="#23e823" style="mix-blend-mode:screen"/>
<ellipse cx="470.20" cy="131.45" rx="3.37" ry="0.92" fill="#23e823" transform="rotate(10 470.20 131.45)" style="mix-blend-mode:screen"/>
<ellipse cx="464.60" cy="133.66" rx="1.84" ry="0.92" fill="#23e823" transform="rotate(-10 464.60 133.66)" style="mix-blend-mode:screen"/>
<ellipse cx="483.15" cy="134.39" rx="1.38" ry="1.23" fill="#23e823" transform="rotate(-30 483.15 134.39)" style="mix-blend-mode:screen"/>
<ellipse cx="494.05" cy="134.83" rx="1.23" ry="1.07" fill="#23e823" style="mix-blend-mode:screen"/>
<ellipse cx="514.37" cy="133.36" rx="1.84" ry="0.92" fill="#23e823" style="mix-blend-mode:screen"/>
<ellipse cx="458.86" cy="139.55" rx="0.77" ry="0.61" fill="#23e823" opacity="0.6" style="mix-blend-mode:screen"/>
<ellipse cx="497.73" cy="141.75" rx="0.77" ry="0.92" fill="#23e823" style="mix-blend-mode:screen"/>
<ellipse cx="511.87" cy="144.99" rx="2.14" ry="1.07" fill="#23e823" transform="rotate(-10 511.87 144.99)" style="mix-blend-mode:screen"/>
<ellipse cx="505.83" cy="145.14" rx="0.61" ry="0.61" fill="#23e823" opacity="0.6" style="mix-blend-mode:screen"/>
<ellipse cx="508.18" cy="153.53" rx="1.23" ry="1.53" fill="#23e823" style="mix-blend-mode:screen"/>
<ellipse cx="476.38" cy="155.45" rx="1.23" ry="0.77" fill="#23e823" transform="rotate(20 476.38 155.45)" style="mix-blend-mode:screen"/>
<ellipse cx="481.24" cy="157.21" rx="0.77" ry="0.77" fill="#23e823" opacity="0.6" style="mix-blend-mode:screen"/>
<ellipse cx="502.29" cy="159.42" rx="2.30" ry="1.07" fill="#23e823" transform="rotate(-45 502.29 159.42)" style="mix-blend-mode:screen"/>
<ellipse cx="505.83" cy="157.66" rx="0.77" ry="0.77" fill="#23e823" opacity="0.6" style="mix-blend-mode:screen"/>
<ellipse cx="493.46" cy="161.34" rx="1.07" ry="1.53" fill="#23e823" style="mix-blend-mode:screen"/>
<ellipse cx="526.59" cy="157.66" rx="0.61" ry="0.77" fill="#23e823" opacity="0.6" style="mix-blend-mode:screen"/>
<ellipse cx="476.38" cy="163.84" rx="0.46" ry="0.46" fill="#23e823" opacity="0.6" style="mix-blend-mode:screen"/>
<ellipse cx="464.60" cy="120.70" rx="0.46" ry="0.46" fill="#23e823" opacity="0.6" style="mix-blend-mode:screen"/>
<ellipse cx="521.29" cy="124.09" rx="0.46" ry="0.46" fill="#23e823" opacity="0.6" style="mix-blend-mode:screen"/>
<ellipse cx="538.66" cy="127.03" rx="0.46" ry="0.46" fill="#23e823" opacity="0.6" style="mix-blend-mode:screen"/>
<ellipse cx="465.04" cy="160.90" rx="0.46" ry="0.46" fill="#23e823" opacity="0.6" style="mix-blend-mode:screen"/>
<ellipse cx="514.37" cy="115.99" rx="0.92" ry="0.77" fill="#23e823" style="mix-blend-mode:screen"/>
<ellipse cx="476.38" cy="155.45" rx="0.77" ry="0.46" fill="#23e823" opacity="0.6" transform="rotate(20 476.38 155.45)" style="mix-blend-mode:screen"/>
</g></g>
<g clip-path="url(#cp5)"><g filter="url(#bl)" style="isolation:isolate">
<rect x="550.90" y="30.20" width="98.50" height="143.50" fill="#000"/>
<ellipse cx="597.64" cy="32.44" rx="1.84" ry="0.77" fill="#f41fe6" style="mix-blend-mode:screen"/>
<ellipse cx="606.77" cy="42.01" rx="1.23" ry="1.99" fill="#f41fe6" transform="rotate(20 606.77 42.01)" style="mix-blend-mode:screen"/>
<ellipse cx="599.41" cy="45.69" rx="1.68" ry="1.99" fill="#f41fe6" style="mix-blend-mode:screen"/>
<ellipse cx="604.27" cy="46.28" rx="1.38" ry="1.38" fill="#f41fe6" style="mix-blend-mode:screen"/>
<ellipse cx="601.33" cy="51.14" rx="2.14" ry="1.38" fill="#f41fe6" transform="rotate(45 601.33 51.14)" style="mix-blend-mode:screen"/>
<ellipse cx="609.42" cy="53.35" rx="3.83" ry="2.60" fill="#f41fe6" style="mix-blend-mode:screen"/>
<ellipse cx="623.71" cy="50.85" rx="1.23" ry="1.07" fill="#f41fe6" style="mix-blend-mode:screen"/>
<ellipse cx="588.81" cy="54.82" rx="3.06" ry="1.84" fill="#f41fe6" transform="rotate(10 588.81 54.82)" style="mix-blend-mode:screen"/>
<ellipse cx="596.61" cy="54.82" rx="1.99" ry="1.23" fill="#f41fe6" style="mix-blend-mode:screen"/>
<ellipse cx="573.35" cy="58.21" rx="2.60" ry="1.68" fill="#f41fe6" transform="rotate(40 573.35 58.21)" style="mix-blend-mode:screen"/>
<ellipse cx="587.34" cy="60.27" rx="1.68" ry="2.76" fill="#f41fe6" style="mix-blend-mode:screen"/>
<ellipse cx="563.48" cy="71.75" rx="2.76" ry="1.68" fill="#f41fe6" transform="rotate(40 563.48 71.75)" style="mix-blend-mode:screen"/>
<ellipse cx="571.14" cy="69.55" rx="1.38" ry="1.99" fill="#f41fe6" transform="rotate(20 571.14 69.55)" style="mix-blend-mode:screen"/>
<ellipse cx="577.33" cy="72.05" rx="2.76" ry="1.84" fill="#f41fe6" transform="rotate(20 577.33 72.05)" style="mix-blend-mode:screen"/>
<ellipse cx="591.31" cy="73.23" rx="3.37" ry="1.99" fill="#f41fe6" transform="rotate(-10 591.31 73.23)" style="mix-blend-mode:screen"/>
<ellipse cx="606.18" cy="76.17" rx="1.38" ry="2.30" fill="#f41fe6" transform="rotate(-20 606.18 76.17)" style="mix-blend-mode:screen"/>
<ellipse cx="638.13" cy="76.61" rx="1.68" ry="4.59" fill="#f41fe6" transform="rotate(-15 638.13 76.61)" style="mix-blend-mode:screen"/>
<ellipse cx="625.18" cy="66.16" rx="1.07" ry="1.38" fill="#f41fe6" style="mix-blend-mode:screen"/>
<ellipse cx="615.31" cy="85.74" rx="2.14" ry="1.99" fill="#f41fe6" transform="rotate(-30 615.31 85.74)" style="mix-blend-mode:screen"/>
<ellipse cx="630.04" cy="85.74" rx="1.38" ry="1.53" fill="#f41fe6" style="mix-blend-mode:screen"/>
<ellipse cx="637.40" cy="86.48" rx="1.23" ry="1.23" fill="#f41fe6" style="mix-blend-mode:screen"/>
<ellipse cx="569.37" cy="88.25" rx="2.45" ry="1.68" fill="#f41fe6" transform="rotate(10 569.37 88.25)" style="mix-blend-mode:screen"/>
<ellipse cx="563.04" cy="89.87" rx="1.07" ry="1.07" fill="#f41fe6" style="mix-blend-mode:screen"/>
<ellipse cx="578.21" cy="92.37" rx="1.68" ry="2.14" fill="#f41fe6" transform="rotate(-20 578.21 92.37)" style="mix-blend-mode:screen"/>
<ellipse cx="575.26" cy="95.61" rx="1.84" ry="2.45" fill="#f41fe6" transform="rotate(-10 575.26 95.61)" style="mix-blend-mode:screen"/>
<ellipse cx="611.34" cy="92.81" rx="1.84" ry="2.14" fill="#f41fe6" style="mix-blend-mode:screen"/>
<ellipse cx="584.39" cy="98.70" rx="2.30" ry="2.60" fill="#f41fe6" transform="rotate(-20 584.39 98.70)" style="mix-blend-mode:screen"/>
<ellipse cx="609.13" cy="98.26" rx="1.38" ry="2.45" fill="#f41fe6" style="mix-blend-mode:screen"/>
<ellipse cx="603.24" cy="98.99" rx="2.45" ry="1.23" fill="#f41fe6" style="mix-blend-mode:screen"/>
<ellipse cx="635.19" cy="98.99" rx="1.23" ry="1.84" fill="#f41fe6" style="mix-blend-mode:screen"/>
<ellipse cx="589.55" cy="100.91" rx="2.14" ry="0.92" fill="#f41fe6" style="mix-blend-mode:screen"/>
<ellipse cx="601.62" cy="65.28" rx="1.99" ry="1.23" fill="#f41fe6" transform="rotate(-30 601.62 65.28)" style="mix-blend-mode:screen"/>
<ellipse cx="625.62" cy="69.25" rx="0.77" ry="0.77" fill="#f41fe6" opacity="0.6" style="mix-blend-mode:screen"/>
<ellipse cx="628.27" cy="80.59" rx="2.45" ry="1.53" fill="#f41fe6" transform="rotate(-15 628.27 80.59)" style="mix-blend-mode:screen"/>
<ellipse cx="577.03" cy="43.04" rx="1.38" ry="1.38" fill="#23e823" style="mix-blend-mode:screen"/>
<ellipse cx="566.72" cy="54.53" rx="2.14" ry="1.38" fill="#23e823" transform="rotate(-25 566.72 54.53)" style="mix-blend-mode:screen"/>
<ellipse cx="599.41" cy="53.79" rx="1.23" ry="1.53" fill="#23e823" transform="rotate(-30 599.41 53.79)" style="mix-blend-mode:screen"/>
<ellipse cx="620.76" cy="52.32" rx="1.07" ry="1.38" fill="#23e823" style="mix-blend-mode:screen"/>
<ellipse cx="633.42" cy="53.06" rx="0.92" ry="0.92" fill="#23e823" style="mix-blend-mode:screen"/>
<ellipse cx="620.47" cy="63.95" rx="3.06" ry="1.68" fill="#23e823" transform="rotate(-25 620.47 63.95)" style="mix-blend-mode:screen"/>
<ellipse cx="575.56" cy="64.83" rx="1.53" ry="1.07" fill="#23e823" style="mix-blend-mode:screen"/>
<ellipse cx="578.94" cy="66.90" rx="1.23" ry="1.07" fill="#23e823" style="mix-blend-mode:screen"/>
<ellipse cx="634.45" cy="66.31" rx="0.77" ry="1.23" fill="#23e823" style="mix-blend-mode:screen"/>
<ellipse cx="587.78" cy="81.62" rx="1.99" ry="1.53" fill="#23e823" transform="rotate(-30 587.78 81.62)" style="mix-blend-mode:screen"/>
<ellipse cx="577.33" cy="80.88" rx="1.23" ry="0.92" fill="#23e823" style="mix-blend-mode:screen"/>
<ellipse cx="608.98" cy="85.30" rx="1.07" ry="2.14" fill="#23e823" style="mix-blend-mode:screen"/>
<ellipse cx="617.82" cy="82.80" rx="0.92" ry="0.92" fill="#23e823" style="mix-blend-mode:screen"/>
<ellipse cx="633.72" cy="84.27" rx="0.77" ry="0.92" fill="#23e823" style="mix-blend-mode:screen"/>
<ellipse cx="605.74" cy="93.55" rx="1.68" ry="1.84" fill="#23e823" style="mix-blend-mode:screen"/>
<ellipse cx="560.54" cy="95.61" rx="1.23" ry="1.53" fill="#23e823" style="mix-blend-mode:screen"/>
<ellipse cx="632.69" cy="97.52" rx="0.77" ry="1.38" fill="#23e823" style="mix-blend-mode:screen"/>
<ellipse cx="639.17" cy="74.99" rx="0.77" ry="0.92" fill="#23e823" style="mix-blend-mode:screen"/>
<ellipse cx="573.06" cy="47.46" rx="0.61" ry="0.61" fill="#23e823" opacity="0.6" style="mix-blend-mode:screen"/>
<ellipse cx="583.66" cy="40.83" rx="0.46" ry="0.61" fill="#23e823" opacity="0.6" style="mix-blend-mode:screen"/>
<ellipse cx="589.10" cy="50.40" rx="0.61" ry="0.61" fill="#23e823" opacity="0.6" style="mix-blend-mode:screen"/>
<ellipse cx="581.45" cy="57.03" rx="0.61" ry="0.61" fill="#23e823" opacity="0.6" style="mix-blend-mode:screen"/>
<ellipse cx="645.20" cy="91.34" rx="0.61" ry="0.61" fill="#23e823" opacity="0.6" style="mix-blend-mode:screen"/>
<ellipse cx="583.21" cy="95.61" rx="0.77" ry="0.77" fill="#23e823" opacity="0.6" style="mix-blend-mode:screen"/>
<ellipse cx="604.71" cy="100.91" rx="0.77" ry="0.92" fill="#23e823" style="mix-blend-mode:screen"/>
<ellipse cx="558.63" cy="92.81" rx="0.46" ry="0.46" fill="#23e823" opacity="0.6" style="mix-blend-mode:screen"/>
<ellipse cx="600.29" cy="66.16" rx="2.45" ry="1.38" fill="#23e823" transform="rotate(-30 600.29 66.16)" style="mix-blend-mode:screen"/>
<ellipse cx="628.27" cy="80.59" rx="2.30" ry="1.38" fill="#23e823" transform="rotate(-15 628.27 80.59)" style="mix-blend-mode:screen"/>
<ellipse cx="591.02" cy="102.74" rx="2.45" ry="1.07" fill="#f41fe6" transform="rotate(10 591.02 102.74)" style="mix-blend-mode:screen"/>
<ellipse cx="614.58" cy="103.47" rx="1.53" ry="1.38" fill="#f41fe6" style="mix-blend-mode:screen"/>
<ellipse cx="629.60" cy="107.45" rx="1.68" ry="2.30" fill="#f41fe6" transform="rotate(-20 629.60 107.45)" style="mix-blend-mode:screen"/>
<ellipse cx="637.84" cy="104.65" rx="2.14" ry="1.23" fill="#f41fe6" style="mix-blend-mode:screen"/>
<ellipse cx="641.08" cy="106.42" rx="1.07" ry="0.92" fill="#f41fe6" style="mix-blend-mode:screen"/>
<ellipse cx="554.50" cy="109.66" rx="1.38" ry="2.30" fill="#f41fe6" transform="rotate(30 554.50 109.66)" style="mix-blend-mode:screen"/>
<ellipse cx="582.48" cy="105.98" rx="1.23" ry="1.84" fill="#f41fe6" transform="rotate(20 582.48 105.98)" style="mix-blend-mode:screen"/>
<ellipse cx="579.68" cy="111.13" rx="1.99" ry="2.76" fill="#f41fe6" style="mix-blend-mode:screen"/>
<ellipse cx="575.56" cy="113.04" rx="1.53" ry="1.53" fill="#f41fe6" style="mix-blend-mode:screen"/>
<ellipse cx="591.75" cy="111.57" rx="2.45" ry="4.59" fill="#f41fe6" transform="rotate(35 591.75 111.57)" style="mix-blend-mode:screen"/>
<ellipse cx="597.64" cy="112.31" rx="1.38" ry="2.45" fill="#f41fe6" transform="rotate(-20 597.64 112.31)" style="mix-blend-mode:screen"/>
<ellipse cx="597.64" cy="117.75" rx="2.30" ry="1.68" fill="#f41fe6" transform="rotate(30 597.64 117.75)" style="mix-blend-mode:screen"/>
<ellipse cx="609.42" cy="115.69" rx="1.53" ry="1.38" fill="#f41fe6" style="mix-blend-mode:screen"/>
<ellipse cx="634.01" cy="113.34" rx="1.53" ry="1.38" fill="#f41fe6" style="mix-blend-mode:screen"/>
<ellipse cx="574.38" cy="122.32" rx="2.45" ry="2.60" fill="#f41fe6" style="mix-blend-mode:screen"/>
<ellipse cx="608.39" cy="121.88" rx="1.23" ry="2.14" fill="#f41fe6" transform="rotate(-20 608.39 121.88)" style="mix-blend-mode:screen"/>
<ellipse cx="612.37" cy="126.00" rx="3.06" ry="1.84" fill="#f41fe6" transform="rotate(-35 612.37 126.00)" style="mix-blend-mode:screen"/>
<ellipse cx="614.28" cy="129.53" rx="1.68" ry="1.38" fill="#f41fe6" style="mix-blend-mode:screen"/>
<ellipse cx="620.47" cy="123.79" rx="3.06" ry="1.23" fill="#f41fe6" transform="rotate(25 620.47 123.79)" style="mix-blend-mode:screen"/>
<ellipse cx="627.53" cy="127.33" rx="3.37" ry="1.38" fill="#f41fe6" transform="rotate(25 627.53 127.33)" style="mix-blend-mode:screen"/>
<ellipse cx="624.15" cy="129.53" rx="2.76" ry="1.68" fill="#f41fe6" style="mix-blend-mode:screen"/>
<ellipse cx="569.23" cy="131.01" rx="1.38" ry="2.14" fill="#f41fe6" transform="rotate(-20 569.23 131.01)" style="mix-blend-mode:screen"/>
<ellipse cx="574.38" cy="132.63" rx="2.14" ry="1.53" fill="#f41fe6" style="mix-blend-mode:screen"/>
<ellipse cx="601.77" cy="131.45" rx="3.37" ry="1.53" fill="#f41fe6" transform="rotate(20 601.77 131.45)" style="mix-blend-mode:screen"/>
<ellipse cx="586.60" cy="137.34" rx="1.53" ry="3.06" fill="#f41fe6" transform="rotate(-25 586.60 137.34)" style="mix-blend-mode:screen"/>
<ellipse cx="581.89" cy="137.34" rx="1.53" ry="1.84" fill="#f41fe6" style="mix-blend-mode:screen"/>
<ellipse cx="589.55" cy="142.93" rx="1.68" ry="2.60" fill="#f41fe6" style="mix-blend-mode:screen"/>
<ellipse cx="616.34" cy="141.31" rx="2.45" ry="1.84" fill="#f41fe6" transform="rotate(10 616.34 141.31)" style="mix-blend-mode:screen"/>
<ellipse cx="626.65" cy="144.26" rx="1.53" ry="2.60" fill="#f41fe6" style="mix-blend-mode:screen"/>
<ellipse cx="619.44" cy="148.38" rx="3.06" ry="1.23" fill="#f41fe6" transform="rotate(25 619.44 148.38)" style="mix-blend-mode:screen"/>
<ellipse cx="624.15" cy="150.88" rx="2.14" ry="1.23" fill="#f41fe6" style="mix-blend-mode:screen"/>
<ellipse cx="567.02" cy="150.29" rx="2.30" ry="1.68" fill="#f41fe6" transform="rotate(-25 567.02 150.29)" style="mix-blend-mode:screen"/>
<ellipse cx="579.98" cy="148.67" rx="1.84" ry="1.53" fill="#f41fe6" style="mix-blend-mode:screen"/>
<ellipse cx="603.09" cy="149.85" rx="1.84" ry="2.30" fill="#f41fe6" style="mix-blend-mode:screen"/>
<ellipse cx="594.40" cy="158.25" rx="1.68" ry="2.14" fill="#f41fe6" style="mix-blend-mode:screen"/>
<ellipse cx="599.41" cy="158.69" rx="1.53" ry="2.30" fill="#f41fe6" transform="rotate(-15 599.41 158.69)" style="mix-blend-mode:screen"/>
<ellipse cx="612.81" cy="164.13" rx="2.14" ry="1.53" fill="#f41fe6" style="mix-blend-mode:screen"/>
<ellipse cx="585.87" cy="167.08" rx="2.14" ry="1.53" fill="#f41fe6" style="mix-blend-mode:screen"/>
<ellipse cx="571.14" cy="152.06" rx="0.92" ry="0.92" fill="#f41fe6" style="mix-blend-mode:screen"/>
<ellipse cx="584.69" cy="122.61" rx="0.77" ry="0.77" fill="#f41fe6" opacity="0.6" style="mix-blend-mode:screen"/>
<ellipse cx="617.23" cy="103.77" rx="0.92" ry="1.53" fill="#f41fe6" transform="rotate(20 617.23 103.77)" style="mix-blend-mode:screen"/>
<ellipse cx="558.63" cy="108.33" rx="0.92" ry="1.07" fill="#23e823" style="mix-blend-mode:screen"/>
<ellipse cx="578.94" cy="104.94" rx="1.07" ry="1.23" fill="#23e823" style="mix-blend-mode:screen"/>
<ellipse cx="598.82" cy="105.68" rx="1.23" ry="0.92" fill="#23e823" style="mix-blend-mode:screen"/>
<ellipse cx="617.23" cy="103.77" rx="1.23" ry="2.14" fill="#23e823" transform="rotate(20 617.23 103.77)" style="mix-blend-mode:screen"/>
<ellipse cx="573.06" cy="112.01" rx="0.77" ry="0.77" fill="#23e823" opacity="0.6" style="mix-blend-mode:screen"/>
<ellipse cx="576.74" cy="117.17" rx="1.38" ry="1.07" fill="#23e823" style="mix-blend-mode:screen"/>
<ellipse cx="617.23" cy="118.64" rx="1.23" ry="1.23" fill="#23e823" style="mix-blend-mode:screen"/>
<ellipse cx="634.90" cy="118.49" rx="1.99" ry="1.23" fill="#23e823" transform="rotate(-30 634.90 118.49)" style="mix-blend-mode:screen"/>
<ellipse cx="589.25" cy="125.26" rx="1.23" ry="1.23" fill="#23e823" transform="rotate(-30 589.25 125.26)" style="mix-blend-mode:screen"/>
<ellipse cx="569.96" cy="127.03" rx="0.92" ry="0.92" fill="#23e823" style="mix-blend-mode:screen"/>
<ellipse cx="638.58" cy="132.63" rx="1.38" ry="1.38" fill="#23e823" style="mix-blend-mode:screen"/>
<ellipse cx="575.56" cy="136.60" rx="1.68" ry="1.38" fill="#23e823" style="mix-blend-mode:screen"/>
<ellipse cx="579.53" cy="139.84" rx="1.23" ry="0.92" fill="#23e823" transform="rotate(30 579.53 139.84)" style="mix-blend-mode:screen"/>
<ellipse cx="594.70" cy="138.07" rx="1.38" ry="1.23" fill="#23e823" style="mix-blend-mode:screen"/>
<ellipse cx="598.82" cy="142.20" rx="0.92" ry="0.92" fill="#23e823" style="mix-blend-mode:screen"/>
<ellipse cx="582.63" cy="144.40" rx="1.23" ry="1.53" fill="#23e823" style="mix-blend-mode:screen"/>
<ellipse cx="595.44" cy="153.09" rx="1.23" ry="1.53" fill="#23e823" style="mix-blend-mode:screen"/>
<ellipse cx="599.85" cy="149.41" rx="0.77" ry="1.23" fill="#23e823" style="mix-blend-mode:screen"/>
<ellipse cx="587.78" cy="155.30" rx="1.23" ry="1.07" fill="#23e823" style="mix-blend-mode:screen"/>
<ellipse cx="575.56" cy="157.66" rx="1.07" ry="1.07" fill="#23e823" style="mix-blend-mode:screen"/>
<ellipse cx="596.61" cy="160.90" rx="0.77" ry="0.92" fill="#23e823" style="mix-blend-mode:screen"/>
<ellipse cx="623.12" cy="161.93" rx="1.23" ry="1.23" fill="#23e823" style="mix-blend-mode:screen"/>
<ellipse cx="574.82" cy="166.79" rx="1.07" ry="0.92" fill="#23e823" style="mix-blend-mode:screen"/>
<ellipse cx="594.26" cy="170.02" rx="0.92" ry="1.23" fill="#23e823" style="mix-blend-mode:screen"/>
<ellipse cx="597.35" cy="166.34" rx="0.77" ry="0.77" fill="#23e823" opacity="0.6" style="mix-blend-mode:screen"/>
<ellipse cx="588.81" cy="131.89" rx="0.61" ry="0.77" fill="#23e823" opacity="0.6" style="mix-blend-mode:screen"/>
<ellipse cx="579.98" cy="126.29" rx="0.61" ry="0.46" fill="#23e823" opacity="0.6" style="mix-blend-mode:screen"/>
<ellipse cx="562.31" cy="127.03" rx="0.46" ry="0.61" fill="#23e823" opacity="0.6" style="mix-blend-mode:screen"/>
<ellipse cx="630.48" cy="114.96" rx="0.46" ry="0.61" fill="#23e823" opacity="0.6" style="mix-blend-mode:screen"/>
<ellipse cx="620.91" cy="110.39" rx="0.61" ry="0.46" fill="#23e823" opacity="0.6" style="mix-blend-mode:screen"/>
<ellipse cx="619.44" cy="159.42" rx="0.46" ry="0.61" fill="#23e823" opacity="0.6" style="mix-blend-mode:screen"/>
<ellipse cx="581.45" cy="135.87" rx="1.07" ry="1.07" fill="#23e823" style="mix-blend-mode:screen"/>
<ellipse cx="589.99" cy="142.93" rx="1.07" ry="1.38" fill="#23e823" style="mix-blend-mode:screen"/>
</g></g>
<text x="2.60" y="183.50" font-size="11.2" font-weight="bold" fill="#000" stroke="#000" stroke-width="0.15">b</text>
<text x="7.20" y="193.30" font-size="8.5" fill="#000" stroke="#000" stroke-width="0.15">i</text>
<line x1="37.50" y1="263.40" x2="113.00" y2="263.40" stroke="#111" stroke-width="0.75" stroke-dasharray="2.7 1.7"/>
<line x1="46.50" y1="274.73" x2="46.50" y2="283.70" stroke="#969696" stroke-width="0.7"/>
<line x1="44.90" y1="274.73" x2="48.10" y2="274.73" stroke="#969696" stroke-width="0.6"/>
<line x1="44.90" y1="283.70" x2="48.10" y2="283.70" stroke="#969696" stroke-width="0.6"/>
<line x1="55.50" y1="267.35" x2="55.50" y2="278.72" stroke="#969696" stroke-width="0.7"/>
<line x1="53.90" y1="267.35" x2="57.10" y2="267.35" stroke="#969696" stroke-width="0.6"/>
<line x1="53.90" y1="278.72" x2="57.10" y2="278.72" stroke="#969696" stroke-width="0.6"/>
<line x1="64.50" y1="255.79" x2="64.50" y2="270.74" stroke="#969696" stroke-width="0.7"/>
<line x1="62.90" y1="255.79" x2="66.10" y2="255.79" stroke="#969696" stroke-width="0.6"/>
<line x1="62.90" y1="270.74" x2="66.10" y2="270.74" stroke="#969696" stroke-width="0.6"/>
<line x1="73.50" y1="242.23" x2="73.50" y2="264.76" stroke="#969696" stroke-width="0.7"/>
<line x1="71.90" y1="242.23" x2="75.10" y2="242.23" stroke="#969696" stroke-width="0.6"/>
<line x1="71.90" y1="264.76" x2="75.10" y2="264.76" stroke="#969696" stroke-width="0.6"/>
<line x1="82.50" y1="230.46" x2="82.50" y2="255.79" stroke="#969696" stroke-width="0.7"/>
<line x1="80.90" y1="230.46" x2="84.10" y2="230.46" stroke="#969696" stroke-width="0.6"/>
<line x1="80.90" y1="255.79" x2="84.10" y2="255.79" stroke="#969696" stroke-width="0.6"/>
<line x1="91.50" y1="225.48" x2="91.50" y2="247.41" stroke="#969696" stroke-width="0.7"/>
<line x1="89.90" y1="225.48" x2="93.10" y2="225.48" stroke="#969696" stroke-width="0.6"/>
<line x1="89.90" y1="247.41" x2="93.10" y2="247.41" stroke="#969696" stroke-width="0.6"/>
<line x1="100.50" y1="210.32" x2="100.50" y2="239.24" stroke="#969696" stroke-width="0.7"/>
<line x1="98.90" y1="210.32" x2="102.10" y2="210.32" stroke="#969696" stroke-width="0.6"/>
<line x1="98.90" y1="239.24" x2="102.10" y2="239.24" stroke="#969696" stroke-width="0.6"/>
<line x1="109.50" y1="214.51" x2="109.50" y2="236.45" stroke="#969696" stroke-width="0.7"/>
<line x1="107.90" y1="214.51" x2="111.10" y2="214.51" stroke="#969696" stroke-width="0.6"/>
<line x1="107.90" y1="236.45" x2="111.10" y2="236.45" stroke="#969696" stroke-width="0.6"/>
<circle cx="46.50" cy="279.12" r="1.55" fill="#585858"/>
<circle cx="55.50" cy="272.74" r="1.55" fill="#585858"/>
<circle cx="64.50" cy="262.77" r="1.55" fill="#585858"/>
<circle cx="73.50" cy="253.79" r="1.55" fill="#585858"/>
<circle cx="82.50" cy="243.42" r="1.55" fill="#585858"/>
<circle cx="91.50" cy="236.84" r="1.55" fill="#585858"/>
<circle cx="100.50" cy="224.88" r="1.55" fill="#585858"/>
<circle cx="109.50" cy="225.48" r="1.55" fill="#585858"/>
<line x1="46.50" y1="243.23" x2="46.50" y2="265.76" stroke="#e27886" stroke-width="0.7"/>
<line x1="44.90" y1="243.23" x2="48.10" y2="243.23" stroke="#e27886" stroke-width="0.6"/>
<line x1="44.90" y1="265.76" x2="48.10" y2="265.76" stroke="#e27886" stroke-width="0.6"/>
<line x1="55.50" y1="248.81" x2="55.50" y2="266.36" stroke="#e27886" stroke-width="0.7"/>
<line x1="53.90" y1="248.81" x2="57.10" y2="248.81" stroke="#e27886" stroke-width="0.6"/>
<line x1="53.90" y1="266.36" x2="57.10" y2="266.36" stroke="#e27886" stroke-width="0.6"/>
<line x1="64.50" y1="248.81" x2="64.50" y2="266.75" stroke="#e27886" stroke-width="0.7"/>
<line x1="62.90" y1="248.81" x2="66.10" y2="248.81" stroke="#e27886" stroke-width="0.6"/>
<line x1="62.90" y1="266.75" x2="66.10" y2="266.75" stroke="#e27886" stroke-width="0.6"/>
<line x1="73.50" y1="247.21" x2="73.50" y2="266.36" stroke="#e27886" stroke-width="0.7"/>
<line x1="71.90" y1="247.21" x2="75.10" y2="247.21" stroke="#e27886" stroke-width="0.6"/>
<line x1="71.90" y1="266.36" x2="75.10" y2="266.36" stroke="#e27886" stroke-width="0.6"/>
<line x1="82.50" y1="246.42" x2="82.50" y2="266.36" stroke="#e27886" stroke-width="0.7"/>
<line x1="80.90" y1="246.42" x2="84.10" y2="246.42" stroke="#e27886" stroke-width="0.6"/>
<line x1="80.90" y1="266.36" x2="84.10" y2="266.36" stroke="#e27886" stroke-width="0.6"/>
<line x1="91.50" y1="251.80" x2="91.50" y2="265.16" stroke="#e27886" stroke-width="0.7"/>
<line x1="89.90" y1="251.80" x2="93.10" y2="251.80" stroke="#e27886" stroke-width="0.6"/>
<line x1="89.90" y1="265.16" x2="93.10" y2="265.16" stroke="#e27886" stroke-width="0.6"/>
<line x1="100.50" y1="247.41" x2="100.50" y2="264.36" stroke="#e27886" stroke-width="0.7"/>
<line x1="98.90" y1="247.41" x2="102.10" y2="247.41" stroke="#e27886" stroke-width="0.6"/>
<line x1="98.90" y1="264.36" x2="102.10" y2="264.36" stroke="#e27886" stroke-width="0.6"/>
<line x1="109.50" y1="255.19" x2="109.50" y2="265.76" stroke="#e27886" stroke-width="0.7"/>
<line x1="107.90" y1="255.19" x2="111.10" y2="255.19" stroke="#e27886" stroke-width="0.6"/>
<line x1="107.90" y1="265.76" x2="111.10" y2="265.76" stroke="#e27886" stroke-width="0.6"/>
<circle cx="46.50" cy="254.39" r="1.55" fill="#d4213d"/>
<circle cx="55.50" cy="257.38" r="1.55" fill="#d4213d"/>
<circle cx="64.50" cy="258.18" r="1.55" fill="#d4213d"/>
<circle cx="73.50" cy="256.78" r="1.55" fill="#d4213d"/>
<circle cx="82.50" cy="256.39" r="1.55" fill="#d4213d"/>
<circle cx="91.50" cy="258.38" r="1.55" fill="#d4213d"/>
<circle cx="100.50" cy="255.99" r="1.55" fill="#d4213d"/>
<circle cx="109.50" cy="260.77" r="1.55" fill="#d4213d"/>
<line x1="36.90" y1="198.00" x2="113.60" y2="198.00" stroke="#666" stroke-width="1.2"/>
<line x1="36.90" y1="289.30" x2="113.60" y2="289.30" stroke="#555" stroke-width="1.2"/>
<line x1="113.00" y1="198.00" x2="113.00" y2="289.30" stroke="#666" stroke-width="1.3"/>
<line x1="37.50" y1="197.40" x2="37.50" y2="289.90" stroke="#333" stroke-width="1.3"/>
<line x1="37.50" y1="198.15" x2="40.50" y2="198.15" stroke="#333" stroke-width="0.7"/>
<text x="34.30" y="200.15" font-size="8.05" text-anchor="end" fill="#d4374a" stroke="#d4374a" stroke-width="0.15">1.0</text>
<line x1="37.50" y1="211.20" x2="40.50" y2="211.20" stroke="#333" stroke-width="0.7"/>
<text x="34.30" y="213.20" font-size="8.05" text-anchor="end" fill="#d4374a" stroke="#d4374a" stroke-width="0.15">0.8</text>
<line x1="37.50" y1="224.25" x2="40.50" y2="224.25" stroke="#333" stroke-width="0.7"/>
<text x="34.30" y="226.25" font-size="8.05" text-anchor="end" fill="#d4374a" stroke="#d4374a" stroke-width="0.15">0.6</text>
<line x1="37.50" y1="237.30" x2="40.50" y2="237.30" stroke="#333" stroke-width="0.7"/>
<text x="34.30" y="239.30" font-size="8.05" text-anchor="end" fill="#d4374a" stroke="#d4374a" stroke-width="0.15">0.4</text>
<line x1="37.50" y1="250.35" x2="40.50" y2="250.35" stroke="#333" stroke-width="0.7"/>
<text x="34.30" y="252.35" font-size="8.05" text-anchor="end" fill="#d4374a" stroke="#d4374a" stroke-width="0.15">0.2</text>
<line x1="37.50" y1="263.40" x2="40.50" y2="263.40" stroke="#333" stroke-width="0.7"/>
<text x="34.30" y="265.40" font-size="8.05" text-anchor="end" fill="#d4374a" stroke="#d4374a" stroke-width="0.15">0.0</text>
<line x1="37.50" y1="276.45" x2="40.50" y2="276.45" stroke="#333" stroke-width="0.7"/>
<text x="34.30" y="278.45" font-size="8.05" text-anchor="end" fill="#d4374a" stroke="#d4374a" stroke-width="0.15">−0.2</text>
<line x1="37.50" y1="289.50" x2="40.50" y2="289.50" stroke="#333" stroke-width="0.7"/>
<text x="34.30" y="291.50" font-size="8.05" text-anchor="end" fill="#d4374a" stroke="#d4374a" stroke-width="0.15">−0.4</text>
<line x1="110.00" y1="289.30" x2="113.00" y2="289.30" stroke="#555" stroke-width="0.7"/>
<text x="118.30" y="291.30" font-size="8.05" fill="#666" stroke="#666" stroke-width="0.15">0</text>
<line x1="110.00" y1="271.10" x2="113.00" y2="271.10" stroke="#555" stroke-width="0.7"/>
<text x="118.30" y="273.10" font-size="8.05" fill="#666" stroke="#666" stroke-width="0.15">5</text>
<line x1="110.00" y1="252.90" x2="113.00" y2="252.90" stroke="#555" stroke-width="0.7"/>
<text x="118.30" y="254.90" font-size="8.05" fill="#666" stroke="#666" stroke-width="0.15">10</text>
<line x1="110.00" y1="234.70" x2="113.00" y2="234.70" stroke="#555" stroke-width="0.7"/>
<text x="118.30" y="236.70" font-size="8.05" fill="#666" stroke="#666" stroke-width="0.15">15</text>
<line x1="110.00" y1="216.50" x2="113.00" y2="216.50" stroke="#555" stroke-width="0.7"/>
<text x="118.30" y="218.50" font-size="8.05" fill="#666" stroke="#666" stroke-width="0.15">20</text>
<line x1="110.00" y1="198.30" x2="113.00" y2="198.30" stroke="#555" stroke-width="0.7"/>
<text x="118.30" y="200.30" font-size="8.05" fill="#666" stroke="#666" stroke-width="0.15">25</text>
<line x1="37.50" y1="289.30" x2="37.50" y2="286.30" stroke="#444" stroke-width="0.7"/>
<line x1="37.50" y1="198.00" x2="37.50" y2="201.00" stroke="#555" stroke-width="0.7"/>
<text x="38.50" y="300.80" font-size="8.05" text-anchor="middle" fill="#333" stroke="#333" stroke-width="0.15">0</text>
<line x1="55.50" y1="289.30" x2="55.50" y2="286.30" stroke="#444" stroke-width="0.7"/>
<line x1="55.50" y1="198.00" x2="55.50" y2="201.00" stroke="#555" stroke-width="0.7"/>
<text x="56.50" y="300.80" font-size="8.05" text-anchor="middle" fill="#333" stroke="#333" stroke-width="0.15">50</text>
<line x1="73.50" y1="289.30" x2="73.50" y2="286.30" stroke="#444" stroke-width="0.7"/>
<line x1="73.50" y1="198.00" x2="73.50" y2="201.00" stroke="#555" stroke-width="0.7"/>
<text x="74.50" y="300.80" font-size="8.05" text-anchor="middle" fill="#333" stroke="#333" stroke-width="0.15">100</text>
<line x1="91.50" y1="289.30" x2="91.50" y2="286.30" stroke="#444" stroke-width="0.7"/>
<line x1="91.50" y1="198.00" x2="91.50" y2="201.00" stroke="#555" stroke-width="0.7"/>
<text x="92.50" y="300.80" font-size="8.05" text-anchor="middle" fill="#333" stroke="#333" stroke-width="0.15">150</text>
<line x1="109.50" y1="289.30" x2="109.50" y2="286.30" stroke="#444" stroke-width="0.7"/>
<line x1="109.50" y1="198.00" x2="109.50" y2="201.00" stroke="#555" stroke-width="0.7"/>
<text x="110.50" y="300.80" font-size="8.05" text-anchor="middle" fill="#333" stroke="#333" stroke-width="0.15">200</text>
<text x="76.15" y="313.00" font-size="8.9" text-anchor="middle" fill="#222" stroke="#222" stroke-width="0.15">Red Cluster Number</text>
<text x="13.90" y="243.35" font-size="8.700000000000001" text-anchor="middle" fill="#111" stroke="#111" stroke-width="0.15" transform="rotate(-90 13.90 243.35)">R-G IF</text>
<text x="137.00" y="244.45" font-size="8.700000000000001" text-anchor="middle" fill="#333" stroke="#333" stroke-width="0.15" transform="rotate(-90 137.00 244.45)">% Green Overlaps</text>
<text x="396.80" y="193.30" font-size="8.5" fill="#000" stroke="#000" stroke-width="0.15">iii</text>
<line x1="427.50" y1="263.40" x2="503.00" y2="263.40" stroke="#111" stroke-width="0.75" stroke-dasharray="2.7 1.7"/>
<line x1="445.50" y1="262.77" x2="445.50" y2="283.70" stroke="#969696" stroke-width="0.7"/>
<line x1="443.90" y1="262.77" x2="447.10" y2="262.77" stroke="#969696" stroke-width="0.6"/>
<line x1="443.90" y1="283.70" x2="447.10" y2="283.70" stroke="#969696" stroke-width="0.6"/>
<line x1="463.50" y1="234.25" x2="463.50" y2="264.76" stroke="#969696" stroke-width="0.7"/>
<line x1="461.90" y1="234.25" x2="465.10" y2="234.25" stroke="#969696" stroke-width="0.6"/>
<line x1="461.90" y1="264.76" x2="465.10" y2="264.76" stroke="#969696" stroke-width="0.6"/>
<line x1="481.50" y1="203.34" x2="481.50" y2="237.44" stroke="#969696" stroke-width="0.7"/>
<line x1="479.90" y1="203.34" x2="483.10" y2="203.34" stroke="#969696" stroke-width="0.6"/>
<line x1="479.90" y1="237.44" x2="483.10" y2="237.44" stroke="#969696" stroke-width="0.6"/>
<circle cx="445.50" cy="272.74" r="1.55" fill="#585858"/>
<circle cx="463.50" cy="249.81" r="1.55" fill="#585858"/>
<circle cx="481.50" cy="220.09" r="1.55" fill="#585858"/>
<line x1="445.50" y1="245.22" x2="445.50" y2="267.75" stroke="#e27886" stroke-width="0.7"/>
<line x1="443.90" y1="245.22" x2="447.10" y2="245.22" stroke="#e27886" stroke-width="0.6"/>
<line x1="443.90" y1="267.75" x2="447.10" y2="267.75" stroke="#e27886" stroke-width="0.6"/>
<line x1="463.50" y1="247.21" x2="463.50" y2="266.36" stroke="#e27886" stroke-width="0.7"/>
<line x1="461.90" y1="247.21" x2="465.10" y2="247.21" stroke="#e27886" stroke-width="0.6"/>
<line x1="461.90" y1="266.36" x2="465.10" y2="266.36" stroke="#e27886" stroke-width="0.6"/>
<line x1="481.50" y1="248.41" x2="481.50" y2="265.16" stroke="#e27886" stroke-width="0.7"/>
<line x1="479.90" y1="248.41" x2="483.10" y2="248.41" stroke="#e27886" stroke-width="0.6"/>
<line x1="479.90" y1="265.16" x2="483.10" y2="265.16" stroke="#e27886" stroke-width="0.6"/>
<circle cx="445.50" cy="256.78" r="1.55" fill="#d4213d"/>
<circle cx="463.50" cy="256.98" r="1.55" fill="#d4213d"/>
<circle cx="481.50" cy="257.18" r="1.55" fill="#d4213d"/>
<line x1="426.90" y1="198.00" x2="503.60" y2="198.00" stroke="#666" stroke-width="1.2"/>
<line x1="426.90" y1="289.30" x2="503.60" y2="289.30" stroke="#555" stroke-width="1.2"/>
<line x1="503.00" y1="198.00" x2="503.00" y2="289.30" stroke="#666" stroke-width="1.3"/>
<line x1="427.50" y1="197.40" x2="427.50" y2="289.90" stroke="#333" stroke-width="1.3"/>
<line x1="427.50" y1="198.15" x2="430.50" y2="198.15" stroke="#333" stroke-width="0.7"/>
<text x="424.30" y="200.15" font-size="8.05" text-anchor="end" fill="#d4374a" stroke="#d4374a" stroke-width="0.15">1.0</text>
<line x1="427.50" y1="211.20" x2="430.50" y2="211.20" stroke="#333" stroke-width="0.7"/>
<text x="424.30" y="213.20" font-size="8.05" text-anchor="end" fill="#d4374a" stroke="#d4374a" stroke-width="0.15">0.8</text>
<line x1="427.50" y1="224.25" x2="430.50" y2="224.25" stroke="#333" stroke-width="0.7"/>
<text x="424.30" y="226.25" font-size="8.05" text-anchor="end" fill="#d4374a" stroke="#d4374a" stroke-width="0.15">0.6</text>
<line x1="427.50" y1="237.30" x2="430.50" y2="237.30" stroke="#333" stroke-width="0.7"/>
<text x="424.30" y="239.30" font-size="8.05" text-anchor="end" fill="#d4374a" stroke="#d4374a" stroke-width="0.15">0.4</text>
<line x1="427.50" y1="250.35" x2="430.50" y2="250.35" stroke="#333" stroke-width="0.7"/>
<text x="424.30" y="252.35" font-size="8.05" text-anchor="end" fill="#d4374a" stroke="#d4374a" stroke-width="0.15">0.2</text>
<line x1="427.50" y1="263.40" x2="430.50" y2="263.40" stroke="#333" stroke-width="0.7"/>
<text x="424.30" y="265.40" font-size="8.05" text-anchor="end" fill="#d4374a" stroke="#d4374a" stroke-width="0.15">0.0</text>
<line x1="427.50" y1="276.45" x2="430.50" y2="276.45" stroke="#333" stroke-width="0.7"/>
<text x="424.30" y="278.45" font-size="8.05" text-anchor="end" fill="#d4374a" stroke="#d4374a" stroke-width="0.15">−0.2</text>
<line x1="427.50" y1="289.50" x2="430.50" y2="289.50" stroke="#333" stroke-width="0.7"/>
<text x="424.30" y="291.50" font-size="8.05" text-anchor="end" fill="#d4374a" stroke="#d4374a" stroke-width="0.15">−0.4</text>
<line x1="500.00" y1="289.30" x2="503.00" y2="289.30" stroke="#555" stroke-width="0.7"/>
<text x="508.30" y="291.30" font-size="8.05" fill="#666" stroke="#666" stroke-width="0.15">2</text>
<line x1="500.00" y1="279.18" x2="503.00" y2="279.18" stroke="#555" stroke-width="0.7"/>
<text x="508.30" y="281.18" font-size="8.05" fill="#666" stroke="#666" stroke-width="0.15">4</text>
<line x1="500.00" y1="269.06" x2="503.00" y2="269.06" stroke="#555" stroke-width="0.7"/>
<text x="508.30" y="271.06" font-size="8.05" fill="#666" stroke="#666" stroke-width="0.15">6</text>
<line x1="500.00" y1="258.94" x2="503.00" y2="258.94" stroke="#555" stroke-width="0.7"/>
<text x="508.30" y="260.94" font-size="8.05" fill="#666" stroke="#666" stroke-width="0.15">8</text>
<line x1="500.00" y1="248.82" x2="503.00" y2="248.82" stroke="#555" stroke-width="0.7"/>
<text x="508.30" y="250.82" font-size="8.05" fill="#666" stroke="#666" stroke-width="0.15">10</text>
<line x1="500.00" y1="238.70" x2="503.00" y2="238.70" stroke="#555" stroke-width="0.7"/>
<text x="508.30" y="240.70" font-size="8.05" fill="#666" stroke="#666" stroke-width="0.15">12</text>
<line x1="500.00" y1="228.58" x2="503.00" y2="228.58" stroke="#555" stroke-width="0.7"/>
<text x="508.30" y="230.58" font-size="8.05" fill="#666" stroke="#666" stroke-width="0.15">14</text>
<line x1="500.00" y1="218.46" x2="503.00" y2="218.46" stroke="#555" stroke-width="0.7"/>
<text x="508.30" y="220.46" font-size="8.05" fill="#666" stroke="#666" stroke-width="0.15">16</text>
<line x1="500.00" y1="208.34" x2="503.00" y2="208.34" stroke="#555" stroke-width="0.7"/>
<text x="508.30" y="210.34" font-size="8.05" fill="#666" stroke="#666" stroke-width="0.15">18</text>
<line x1="500.00" y1="198.22" x2="503.00" y2="198.22" stroke="#555" stroke-width="0.7"/>
<text x="508.30" y="200.22" font-size="8.05" fill="#666" stroke="#666" stroke-width="0.15">20</text>
<line x1="427.50" y1="289.30" x2="427.50" y2="286.30" stroke="#444" stroke-width="0.7"/>
<line x1="427.50" y1="198.00" x2="427.50" y2="201.00" stroke="#555" stroke-width="0.7"/>
<line x1="445.50" y1="289.30" x2="445.50" y2="286.30" stroke="#444" stroke-width="0.7"/>
<line x1="445.50" y1="198.00" x2="445.50" y2="201.00" stroke="#555" stroke-width="0.7"/>
<text x="446.50" y="300.80" font-size="8.05" text-anchor="middle" fill="#333" stroke="#333" stroke-width="0.15">50</text>
<line x1="463.50" y1="289.30" x2="463.50" y2="286.30" stroke="#444" stroke-width="0.7"/>
<line x1="463.50" y1="198.00" x2="463.50" y2="201.00" stroke="#555" stroke-width="0.7"/>
<text x="464.50" y="300.80" font-size="8.05" text-anchor="middle" fill="#333" stroke="#333" stroke-width="0.15">100</text>
<line x1="481.50" y1="289.30" x2="481.50" y2="286.30" stroke="#444" stroke-width="0.7"/>
<line x1="481.50" y1="198.00" x2="481.50" y2="201.00" stroke="#555" stroke-width="0.7"/>
<text x="482.50" y="300.80" font-size="8.05" text-anchor="middle" fill="#333" stroke="#333" stroke-width="0.15">150</text>
<line x1="499.50" y1="289.30" x2="499.50" y2="286.30" stroke="#444" stroke-width="0.7"/>
<line x1="499.50" y1="198.00" x2="499.50" y2="201.00" stroke="#555" stroke-width="0.7"/>
<text x="463.60" y="313.00" font-size="8.9" text-anchor="middle" fill="#222" stroke="#222" stroke-width="0.15">Red Cluster Size</text>
<text x="403.90" y="243.35" font-size="8.700000000000001" text-anchor="middle" fill="#111" stroke="#111" stroke-width="0.15" transform="rotate(-90 403.90 243.35)">R-G IF</text>
<text x="527.00" y="244.45" font-size="8.700000000000001" text-anchor="middle" fill="#333" stroke="#333" stroke-width="0.15" transform="rotate(-90 527.00 244.45)">% Green Overlaps</text>
<text x="7.40" y="323.30" font-size="8.5" fill="#000" stroke="#000" stroke-width="0.15">ii</text>
<line x1="37.50" y1="374.42" x2="113.00" y2="374.42" stroke="#111" stroke-width="0.75" stroke-dasharray="2.7 1.7"/>
<line x1="46.50" y1="406.72" x2="46.50" y2="414.10" stroke="#969696" stroke-width="0.7"/>
<line x1="44.90" y1="406.72" x2="48.10" y2="406.72" stroke="#969696" stroke-width="0.6"/>
<line x1="44.90" y1="414.10" x2="48.10" y2="414.10" stroke="#969696" stroke-width="0.6"/>
<line x1="55.50" y1="389.78" x2="55.50" y2="402.34" stroke="#969696" stroke-width="0.7"/>
<line x1="53.90" y1="389.78" x2="57.10" y2="389.78" stroke="#969696" stroke-width="0.6"/>
<line x1="53.90" y1="402.34" x2="57.10" y2="402.34" stroke="#969696" stroke-width="0.6"/>
<line x1="64.50" y1="374.82" x2="64.50" y2="388.38" stroke="#969696" stroke-width="0.7"/>
<line x1="62.90" y1="374.82" x2="66.10" y2="374.82" stroke="#969696" stroke-width="0.6"/>
<line x1="62.90" y1="388.38" x2="66.10" y2="388.38" stroke="#969696" stroke-width="0.6"/>
<line x1="73.50" y1="365.45" x2="73.50" y2="380.80" stroke="#969696" stroke-width="0.7"/>
<line x1="71.90" y1="365.45" x2="75.10" y2="365.45" stroke="#969696" stroke-width="0.6"/>
<line x1="71.90" y1="380.80" x2="75.10" y2="380.80" stroke="#969696" stroke-width="0.6"/>
<line x1="82.50" y1="355.48" x2="82.50" y2="370.83" stroke="#969696" stroke-width="0.7"/>
<line x1="80.90" y1="355.48" x2="84.10" y2="355.48" stroke="#969696" stroke-width="0.6"/>
<line x1="80.90" y1="370.83" x2="84.10" y2="370.83" stroke="#969696" stroke-width="0.6"/>
<line x1="91.50" y1="349.30" x2="91.50" y2="362.86" stroke="#969696" stroke-width="0.7"/>
<line x1="89.90" y1="349.30" x2="93.10" y2="349.30" stroke="#969696" stroke-width="0.6"/>
<line x1="89.90" y1="362.86" x2="93.10" y2="362.86" stroke="#969696" stroke-width="0.6"/>
<line x1="100.50" y1="345.51" x2="100.50" y2="359.27" stroke="#969696" stroke-width="0.7"/>
<line x1="98.90" y1="345.51" x2="102.10" y2="345.51" stroke="#969696" stroke-width="0.6"/>
<line x1="98.90" y1="359.27" x2="102.10" y2="359.27" stroke="#969696" stroke-width="0.6"/>
<line x1="109.50" y1="340.92" x2="109.50" y2="352.89" stroke="#969696" stroke-width="0.7"/>
<line x1="107.90" y1="340.92" x2="111.10" y2="340.92" stroke="#969696" stroke-width="0.6"/>
<line x1="107.90" y1="352.89" x2="111.10" y2="352.89" stroke="#969696" stroke-width="0.6"/>
<circle cx="46.50" cy="410.31" r="1.55" fill="#585858"/>
<circle cx="55.50" cy="395.96" r="1.55" fill="#585858"/>
<circle cx="64.50" cy="381.20" r="1.55" fill="#585858"/>
<circle cx="73.50" cy="372.83" r="1.55" fill="#585858"/>
<circle cx="82.50" cy="362.86" r="1.55" fill="#585858"/>
<circle cx="91.50" cy="356.28" r="1.55" fill="#585858"/>
<circle cx="100.50" cy="352.29" r="1.55" fill="#585858"/>
<circle cx="109.50" cy="346.90" r="1.55" fill="#585858"/>
<line x1="46.50" y1="368.44" x2="46.50" y2="382.80" stroke="#e27886" stroke-width="0.7"/>
<line x1="44.90" y1="368.44" x2="48.10" y2="368.44" stroke="#e27886" stroke-width="0.6"/>
<line x1="44.90" y1="382.80" x2="48.10" y2="382.80" stroke="#e27886" stroke-width="0.6"/>
<line x1="55.50" y1="368.44" x2="55.50" y2="387.78" stroke="#e27886" stroke-width="0.7"/>
<line x1="53.90" y1="368.44" x2="57.10" y2="368.44" stroke="#e27886" stroke-width="0.6"/>
<line x1="53.90" y1="387.78" x2="57.10" y2="387.78" stroke="#e27886" stroke-width="0.6"/>
<line x1="64.50" y1="367.24" x2="64.50" y2="382.80" stroke="#e27886" stroke-width="0.7"/>
<line x1="62.90" y1="367.24" x2="66.10" y2="367.24" stroke="#e27886" stroke-width="0.6"/>
<line x1="62.90" y1="382.80" x2="66.10" y2="382.80" stroke="#e27886" stroke-width="0.6"/>
<line x1="73.50" y1="365.85" x2="73.50" y2="383.20" stroke="#e27886" stroke-width="0.7"/>
<line x1="71.90" y1="365.85" x2="75.10" y2="365.85" stroke="#e27886" stroke-width="0.6"/>
<line x1="71.90" y1="383.20" x2="75.10" y2="383.20" stroke="#e27886" stroke-width="0.6"/>
<line x1="82.50" y1="367.24" x2="82.50" y2="382.80" stroke="#e27886" stroke-width="0.7"/>
<line x1="80.90" y1="367.24" x2="84.10" y2="367.24" stroke="#e27886" stroke-width="0.6"/>
<line x1="80.90" y1="382.80" x2="84.10" y2="382.80" stroke="#e27886" stroke-width="0.6"/>
<line x1="91.50" y1="365.85" x2="91.50" y2="378.81" stroke="#e27886" stroke-width="0.7"/>
<line x1="89.90" y1="365.85" x2="93.10" y2="365.85" stroke="#e27886" stroke-width="0.6"/>
<line x1="89.90" y1="378.81" x2="93.10" y2="378.81" stroke="#e27886" stroke-width="0.6"/>
<line x1="100.50" y1="367.24" x2="100.50" y2="382.80" stroke="#e27886" stroke-width="0.7"/>
<line x1="98.90" y1="367.24" x2="102.10" y2="367.24" stroke="#e27886" stroke-width="0.6"/>
<line x1="98.90" y1="382.80" x2="102.10" y2="382.80" stroke="#e27886" stroke-width="0.6"/>
<line x1="109.50" y1="365.85" x2="109.50" y2="378.81" stroke="#e27886" stroke-width="0.7"/>
<line x1="107.90" y1="365.85" x2="111.10" y2="365.85" stroke="#e27886" stroke-width="0.6"/>
<line x1="107.90" y1="378.81" x2="111.10" y2="378.81" stroke="#e27886" stroke-width="0.6"/>
<circle cx="46.50" cy="375.42" r="1.55" fill="#d4213d"/>
<circle cx="55.50" cy="378.01" r="1.55" fill="#d4213d"/>
<circle cx="64.50" cy="374.22" r="1.55" fill="#d4213d"/>
<circle cx="73.50" cy="374.62" r="1.55" fill="#d4213d"/>
<circle cx="82.50" cy="374.82" r="1.55" fill="#d4213d"/>
<circle cx="91.50" cy="372.23" r="1.55" fill="#d4213d"/>
<circle cx="100.50" cy="374.82" r="1.55" fill="#d4213d"/>
<circle cx="109.50" cy="372.23" r="1.55" fill="#d4213d"/>
<line x1="36.90" y1="328.60" x2="113.60" y2="328.60" stroke="#666" stroke-width="1.2"/>
<line x1="36.90" y1="420.20" x2="113.60" y2="420.20" stroke="#555" stroke-width="1.2"/>
<line x1="113.00" y1="328.60" x2="113.00" y2="420.20" stroke="#666" stroke-width="1.3"/>
<line x1="37.50" y1="328.00" x2="37.50" y2="420.80" stroke="#333" stroke-width="1.3"/>
<line x1="37.50" y1="328.52" x2="40.50" y2="328.52" stroke="#333" stroke-width="0.7"/>
<text x="34.30" y="330.52" font-size="8.05" text-anchor="end" fill="#d4374a" stroke="#d4374a" stroke-width="0.15">1.05</text>
<line x1="37.50" y1="343.82" x2="40.50" y2="343.82" stroke="#333" stroke-width="0.7"/>
<text x="34.30" y="345.82" font-size="8.05" text-anchor="end" fill="#d4374a" stroke="#d4374a" stroke-width="0.15">1.00</text>
<line x1="37.50" y1="359.12" x2="40.50" y2="359.12" stroke="#333" stroke-width="0.7"/>
<text x="34.30" y="361.12" font-size="8.05" text-anchor="end" fill="#d4374a" stroke="#d4374a" stroke-width="0.15">0.95</text>
<line x1="37.50" y1="374.42" x2="40.50" y2="374.42" stroke="#333" stroke-width="0.7"/>
<text x="34.30" y="376.42" font-size="8.05" text-anchor="end" fill="#d4374a" stroke="#d4374a" stroke-width="0.15">0.90</text>
<line x1="37.50" y1="389.72" x2="40.50" y2="389.72" stroke="#333" stroke-width="0.7"/>
<text x="34.30" y="391.72" font-size="8.05" text-anchor="end" fill="#d4374a" stroke="#d4374a" stroke-width="0.15">0.85</text>
<line x1="37.50" y1="405.02" x2="40.50" y2="405.02" stroke="#333" stroke-width="0.7"/>
<text x="34.30" y="407.02" font-size="8.05" text-anchor="end" fill="#d4374a" stroke="#d4374a" stroke-width="0.15">0.80</text>
<line x1="37.50" y1="420.32" x2="40.50" y2="420.32" stroke="#333" stroke-width="0.7"/>
<text x="34.30" y="422.32" font-size="8.05" text-anchor="end" fill="#d4374a" stroke="#d4374a" stroke-width="0.15">0.75</text>
<line x1="110.00" y1="420.20" x2="113.00" y2="420.20" stroke="#555" stroke-width="0.7"/>
<text x="118.30" y="422.20" font-size="8.05" fill="#666" stroke="#666" stroke-width="0.15">10</text>
<line x1="110.00" y1="407.10" x2="113.00" y2="407.10" stroke="#555" stroke-width="0.7"/>
<text x="118.30" y="409.10" font-size="8.05" fill="#666" stroke="#666" stroke-width="0.15">20</text>
<line x1="110.00" y1="394.00" x2="113.00" y2="394.00" stroke="#555" stroke-width="0.7"/>
<text x="118.30" y="396.00" font-size="8.05" fill="#666" stroke="#666" stroke-width="0.15">30</text>
<line x1="110.00" y1="380.90" x2="113.00" y2="380.90" stroke="#555" stroke-width="0.7"/>
<text x="118.30" y="382.90" font-size="8.05" fill="#666" stroke="#666" stroke-width="0.15">40</text>
<line x1="110.00" y1="367.80" x2="113.00" y2="367.80" stroke="#555" stroke-width="0.7"/>
<text x="118.30" y="369.80" font-size="8.05" fill="#666" stroke="#666" stroke-width="0.15">50</text>
<line x1="110.00" y1="354.70" x2="113.00" y2="354.70" stroke="#555" stroke-width="0.7"/>
<text x="118.30" y="356.70" font-size="8.05" fill="#666" stroke="#666" stroke-width="0.15">60</text>
<line x1="110.00" y1="341.60" x2="113.00" y2="341.60" stroke="#555" stroke-width="0.7"/>
<text x="118.30" y="343.60" font-size="8.05" fill="#666" stroke="#666" stroke-width="0.15">70</text>
<line x1="110.00" y1="328.50" x2="113.00" y2="328.50" stroke="#555" stroke-width="0.7"/>
<text x="118.30" y="330.50" font-size="8.05" fill="#666" stroke="#666" stroke-width="0.15">80</text>
<line x1="37.50" y1="420.20" x2="37.50" y2="417.20" stroke="#444" stroke-width="0.7"/>
<line x1="37.50" y1="328.60" x2="37.50" y2="331.60" stroke="#555" stroke-width="0.7"/>
<text x="38.50" y="430.80" font-size="8.05" text-anchor="middle" fill="#333" stroke="#333" stroke-width="0.15">0</text>
<line x1="55.50" y1="420.20" x2="55.50" y2="417.20" stroke="#444" stroke-width="0.7"/>
<line x1="55.50" y1="328.60" x2="55.50" y2="331.60" stroke="#555" stroke-width="0.7"/>
<text x="56.50" y="430.80" font-size="8.05" text-anchor="middle" fill="#333" stroke="#333" stroke-width="0.15">50</text>
<line x1="73.50" y1="420.20" x2="73.50" y2="417.20" stroke="#444" stroke-width="0.7"/>
<line x1="73.50" y1="328.60" x2="73.50" y2="331.60" stroke="#555" stroke-width="0.7"/>
<text x="74.50" y="430.80" font-size="8.05" text-anchor="middle" fill="#333" stroke="#333" stroke-width="0.15">100</text>
<line x1="91.50" y1="420.20" x2="91.50" y2="417.20" stroke="#444" stroke-width="0.7"/>
<line x1="91.50" y1="328.60" x2="91.50" y2="331.60" stroke="#555" stroke-width="0.7"/>
<text x="92.50" y="430.80" font-size="8.05" text-anchor="middle" fill="#333" stroke="#333" stroke-width="0.15">150</text>
<line x1="109.50" y1="420.20" x2="109.50" y2="417.20" stroke="#444" stroke-width="0.7"/>
<line x1="109.50" y1="328.60" x2="109.50" y2="331.60" stroke="#555" stroke-width="0.7"/>
<text x="110.50" y="430.80" font-size="8.05" text-anchor="middle" fill="#333" stroke="#333" stroke-width="0.15">200</text>
<text x="76.15" y="443.40" font-size="8.9" text-anchor="middle" fill="#222" stroke="#222" stroke-width="0.15">Red Cluster Number</text>
<text x="13.90" y="374.10" font-size="8.700000000000001" text-anchor="middle" fill="#111" stroke="#111" stroke-width="0.15" transform="rotate(-90 13.90 374.10)">R-G IF</text>
<text x="137.00" y="375.20" font-size="8.700000000000001" text-anchor="middle" fill="#333" stroke="#333" stroke-width="0.15" transform="rotate(-90 137.00 375.20)">% Green Overlaps</text>
<text x="396.80" y="323.30" font-size="8.5" fill="#000" stroke="#000" stroke-width="0.15">iv</text>
<line x1="427.50" y1="374.42" x2="503.00" y2="374.42" stroke="#111" stroke-width="0.75" stroke-dasharray="2.7 1.7"/>
<line x1="445.50" y1="397.35" x2="445.50" y2="416.69" stroke="#969696" stroke-width="0.7"/>
<line x1="443.90" y1="397.35" x2="447.10" y2="397.35" stroke="#969696" stroke-width="0.6"/>
<line x1="443.90" y1="416.69" x2="447.10" y2="416.69" stroke="#969696" stroke-width="0.6"/>
<line x1="463.50" y1="365.25" x2="463.50" y2="388.18" stroke="#969696" stroke-width="0.7"/>
<line x1="461.90" y1="365.25" x2="465.10" y2="365.25" stroke="#969696" stroke-width="0.6"/>
<line x1="461.90" y1="388.18" x2="465.10" y2="388.18" stroke="#969696" stroke-width="0.6"/>
<line x1="481.50" y1="337.93" x2="481.50" y2="356.28" stroke="#969696" stroke-width="0.7"/>
<line x1="479.90" y1="337.93" x2="483.10" y2="337.93" stroke="#969696" stroke-width="0.6"/>
<line x1="479.90" y1="356.28" x2="483.10" y2="356.28" stroke="#969696" stroke-width="0.6"/>
<circle cx="445.50" cy="406.72" r="1.55" fill="#585858"/>
<circle cx="463.50" cy="376.02" r="1.55" fill="#585858"/>
<circle cx="481.50" cy="346.90" r="1.55" fill="#585858"/>
<line x1="445.50" y1="367.24" x2="445.50" y2="386.78" stroke="#e27886" stroke-width="0.7"/>
<line x1="443.90" y1="367.24" x2="447.10" y2="367.24" stroke="#e27886" stroke-width="0.6"/>
<line x1="443.90" y1="386.78" x2="447.10" y2="386.78" stroke="#e27886" stroke-width="0.6"/>
<line x1="463.50" y1="365.85" x2="463.50" y2="382.80" stroke="#e27886" stroke-width="0.7"/>
<line x1="461.90" y1="365.85" x2="465.10" y2="365.85" stroke="#e27886" stroke-width="0.6"/>
<line x1="461.90" y1="382.80" x2="465.10" y2="382.80" stroke="#e27886" stroke-width="0.6"/>
<line x1="481.50" y1="367.24" x2="481.50" y2="378.81" stroke="#e27886" stroke-width="0.7"/>
<line x1="479.90" y1="367.24" x2="483.10" y2="367.24" stroke="#e27886" stroke-width="0.6"/>
<line x1="479.90" y1="378.81" x2="483.10" y2="378.81" stroke="#e27886" stroke-width="0.6"/>
<circle cx="445.50" cy="377.21" r="1.55" fill="#d4213d"/>
<circle cx="463.50" cy="374.82" r="1.55" fill="#d4213d"/>
<circle cx="481.50" cy="373.23" r="1.55" fill="#d4213d"/>
<line x1="426.90" y1="328.60" x2="503.60" y2="328.60" stroke="#666" stroke-width="1.2"/>
<line x1="426.90" y1="420.20" x2="503.60" y2="420.20" stroke="#555" stroke-width="1.2"/>
<line x1="503.00" y1="328.60" x2="503.00" y2="420.20" stroke="#666" stroke-width="1.3"/>
<line x1="427.50" y1="328.00" x2="427.50" y2="420.80" stroke="#333" stroke-width="1.3"/>
<line x1="427.50" y1="328.52" x2="430.50" y2="328.52" stroke="#333" stroke-width="0.7"/>
<text x="424.30" y="330.52" font-size="8.05" text-anchor="end" fill="#d4374a" stroke="#d4374a" stroke-width="0.15">1.05</text>
<line x1="427.50" y1="343.82" x2="430.50" y2="343.82" stroke="#333" stroke-width="0.7"/>
<text x="424.30" y="345.82" font-size="8.05" text-anchor="end" fill="#d4374a" stroke="#d4374a" stroke-width="0.15">1.00</text>
<line x1="427.50" y1="359.12" x2="430.50" y2="359.12" stroke="#333" stroke-width="0.7"/>
<text x="424.30" y="361.12" font-size="8.05" text-anchor="end" fill="#d4374a" stroke="#d4374a" stroke-width="0.15">0.95</text>
<line x1="427.50" y1="374.42" x2="430.50" y2="374.42" stroke="#333" stroke-width="0.7"/>
<text x="424.30" y="376.42" font-size="8.05" text-anchor="end" fill="#d4374a" stroke="#d4374a" stroke-width="0.15">0.90</text>
<line x1="427.50" y1="389.72" x2="430.50" y2="389.72" stroke="#333" stroke-width="0.7"/>
<text x="424.30" y="391.72" font-size="8.05" text-anchor="end" fill="#d4374a" stroke="#d4374a" stroke-width="0.15">0.85</text>
<line x1="427.50" y1="405.02" x2="430.50" y2="405.02" stroke="#333" stroke-width="0.7"/>
<text x="424.30" y="407.02" font-size="8.05" text-anchor="end" fill="#d4374a" stroke="#d4374a" stroke-width="0.15">0.80</text>
<line x1="427.50" y1="420.32" x2="430.50" y2="420.32" stroke="#333" stroke-width="0.7"/>
<text x="424.30" y="422.32" font-size="8.05" text-anchor="end" fill="#d4374a" stroke="#d4374a" stroke-width="0.15">0.75</text>
<line x1="500.00" y1="328.56" x2="503.00" y2="328.56" stroke="#555" stroke-width="0.7"/>
<text x="508.30" y="330.56" font-size="8.05" fill="#666" stroke="#666" stroke-width="0.15">70</text>
<line x1="500.00" y1="348.96" x2="503.00" y2="348.96" stroke="#555" stroke-width="0.7"/>
<text x="508.30" y="350.96" font-size="8.05" fill="#666" stroke="#666" stroke-width="0.15">60</text>
<line x1="500.00" y1="369.36" x2="503.00" y2="369.36" stroke="#555" stroke-width="0.7"/>
<text x="508.30" y="371.36" font-size="8.05" fill="#666" stroke="#666" stroke-width="0.15">50</text>
<line x1="500.00" y1="389.76" x2="503.00" y2="389.76" stroke="#555" stroke-width="0.7"/>
<text x="508.30" y="391.76" font-size="8.05" fill="#666" stroke="#666" stroke-width="0.15">40</text>
<line x1="500.00" y1="410.16" x2="503.00" y2="410.16" stroke="#555" stroke-width="0.7"/>
<text x="508.30" y="412.16" font-size="8.05" fill="#666" stroke="#666" stroke-width="0.15">30</text>
<line x1="427.50" y1="420.20" x2="427.50" y2="417.20" stroke="#444" stroke-width="0.7"/>
<line x1="427.50" y1="328.60" x2="427.50" y2="331.60" stroke="#555" stroke-width="0.7"/>
<line x1="445.50" y1="420.20" x2="445.50" y2="417.20" stroke="#444" stroke-width="0.7"/>
<line x1="445.50" y1="328.60" x2="445.50" y2="331.60" stroke="#555" stroke-width="0.7"/>
<text x="446.50" y="430.80" font-size="8.05" text-anchor="middle" fill="#333" stroke="#333" stroke-width="0.15">50</text>
<line x1="463.50" y1="420.20" x2="463.50" y2="417.20" stroke="#444" stroke-width="0.7"/>
<line x1="463.50" y1="328.60" x2="463.50" y2="331.60" stroke="#555" stroke-width="0.7"/>
<text x="464.50" y="430.80" font-size="8.05" text-anchor="middle" fill="#333" stroke="#333" stroke-width="0.15">100</text>
<line x1="481.50" y1="420.20" x2="481.50" y2="417.20" stroke="#444" stroke-width="0.7"/>
<line x1="481.50" y1="328.60" x2="481.50" y2="331.60" stroke="#555" stroke-width="0.7"/>
<text x="482.50" y="430.80" font-size="8.05" text-anchor="middle" fill="#333" stroke="#333" stroke-width="0.15">150</text>
<line x1="499.50" y1="420.20" x2="499.50" y2="417.20" stroke="#444" stroke-width="0.7"/>
<line x1="499.50" y1="328.60" x2="499.50" y2="331.60" stroke="#555" stroke-width="0.7"/>
<text x="463.60" y="443.40" font-size="8.9" text-anchor="middle" fill="#222" stroke="#222" stroke-width="0.15">Red Cluster Size</text>
<text x="403.90" y="374.10" font-size="8.700000000000001" text-anchor="middle" fill="#111" stroke="#111" stroke-width="0.15" transform="rotate(-90 403.90 374.10)">R-G IF</text>
<text x="527.00" y="375.20" font-size="8.700000000000001" text-anchor="middle" fill="#333" stroke="#333" stroke-width="0.15" transform="rotate(-90 527.00 375.20)">% Green Overlaps</text>
<path d="M187.80,212.77 L187.77,214.38 L187.73,216.00 L187.68,217.62 L187.62,219.24 L187.56,220.85 L187.50,222.47 L187.43,224.09 L187.36,225.71 L187.28,227.32 L187.19,228.94 L187.09,230.56 L186.99,232.18 L186.87,233.79 L186.74,235.41 L186.58,237.03 L186.39,238.65 L186.18,240.26 L185.97,241.88 L185.78,243.50 L185.60,245.12 L185.41,246.74 L185.23,248.35 L185.05,249.97 L184.86,251.59 L184.66,253.21 L184.44,254.82 L184.23,256.44 L184.07,258.06 L183.95,259.68 L183.84,261.29 L183.78,262.91 L183.88,264.53 L184.32,266.15 L184.90,267.76 L185.46,269.38 L185.99,271.00 L186.56,272.62 L187.16,274.23 L187.80,275.85 L187.80,275.85 L188.44,274.23 L189.04,272.62 L189.61,271.00 L190.14,269.38 L190.70,267.76 L191.28,266.15 L191.72,264.53 L191.82,262.91 L191.76,261.29 L191.65,259.68 L191.53,258.06 L191.37,256.44 L191.16,254.82 L190.94,253.21 L190.74,251.59 L190.55,249.97 L190.37,248.35 L190.19,246.74 L190.00,245.12 L189.82,243.50 L189.63,241.88 L189.42,240.26 L189.21,238.65 L189.02,237.03 L188.86,235.41 L188.73,233.79 L188.61,232.18 L188.51,230.56 L188.41,228.94 L188.32,227.32 L188.24,225.71 L188.17,224.09 L188.10,222.47 L188.04,220.85 L187.98,219.24 L187.92,217.62 L187.87,216.00 L187.83,214.38 L187.80,212.77Z" fill="#e4e6e8" stroke="#3a3a3a" stroke-width="0.55" stroke-linejoin="round"/>
<circle cx="187.80" cy="225.25" r="1.35" fill="#555" fill-opacity="0.9"/>
<circle cx="187.80" cy="234.51" r="1.35" fill="#555" fill-opacity="0.9"/>
<circle cx="187.80" cy="239.61" r="1.35" fill="#555" fill-opacity="0.9"/>
<circle cx="187.80" cy="241.62" r="1.35" fill="#555" fill-opacity="0.9"/>
<circle cx="187.80" cy="244.98" r="1.35" fill="#555" fill-opacity="0.9"/>
<circle cx="187.80" cy="248.34" r="1.35" fill="#555" fill-opacity="0.9"/>
<circle cx="187.80" cy="250.35" r="1.35" fill="#555" fill-opacity="0.9"/>
<circle cx="187.80" cy="258.40" r="1.35" fill="#555" fill-opacity="0.9"/>
<line x1="179.21" y1="263.37" x2="196.39" y2="263.37" stroke="#4a4a4a" stroke-width="1.4"/>
<line x1="187.80" y1="251.02" x2="187.80" y2="257.73" stroke="#e0213a" stroke-width="0.9"/>
<line x1="185.79" y1="254.38" x2="189.81" y2="254.38" stroke="#e0213a" stroke-width="0.9"/>
<circle cx="187.80" cy="254.38" r="1.6" fill="#dc1f38"/>
<path d="M214.50,227.26 L214.39,228.45 L214.28,229.64 L214.17,230.82 L214.06,232.01 L213.94,233.20 L213.82,234.39 L213.70,235.57 L213.57,236.76 L213.45,237.95 L213.32,239.14 L213.19,240.32 L213.05,241.51 L212.91,242.70 L212.76,243.89 L212.61,245.07 L212.45,246.26 L212.28,247.45 L212.10,248.64 L211.91,249.82 L211.69,251.01 L211.43,252.20 L211.10,253.38 L210.71,254.57 L210.32,255.76 L209.97,256.95 L209.63,258.13 L209.26,259.32 L208.91,260.51 L208.63,261.70 L208.48,262.88 L208.59,264.07 L209.23,265.26 L210.16,266.45 L211.04,267.63 L211.75,268.82 L212.45,270.01 L213.14,271.20 L213.82,272.38 L214.50,273.57 L214.50,273.57 L215.18,272.38 L215.86,271.20 L216.55,270.01 L217.25,268.82 L217.96,267.63 L218.84,266.45 L219.77,265.26 L220.41,264.07 L220.52,262.88 L220.37,261.70 L220.09,260.51 L219.74,259.32 L219.37,258.13 L219.03,256.95 L218.68,255.76 L218.29,254.57 L217.90,253.38 L217.57,252.20 L217.31,251.01 L217.09,249.82 L216.90,248.64 L216.72,247.45 L216.55,246.26 L216.39,245.07 L216.24,243.89 L216.09,242.70 L215.95,241.51 L215.81,240.32 L215.68,239.14 L215.55,237.95 L215.43,236.76 L215.30,235.57 L215.18,234.39 L215.06,233.20 L214.94,232.01 L214.83,230.82 L214.72,229.64 L214.61,228.45 L214.50,227.26Z" fill="#e4e6e8" stroke="#3a3a3a" stroke-width="0.55" stroke-linejoin="round"/>
<circle cx="214.50" cy="237.60" r="1.35" fill="#555" fill-opacity="0.9"/>
<circle cx="214.50" cy="239.61" r="1.35" fill="#555" fill-opacity="0.9"/>
<circle cx="214.50" cy="242.30" r="1.35" fill="#555" fill-opacity="0.9"/>
<circle cx="214.50" cy="247.66" r="1.35" fill="#555" fill-opacity="0.9"/>
<circle cx="214.50" cy="248.34" r="1.35" fill="#555" fill-opacity="0.9"/>
<circle cx="214.50" cy="255.05" r="1.35" fill="#555" fill-opacity="0.9"/>
<line x1="205.24" y1="263.37" x2="223.76" y2="263.37" stroke="#4a4a4a" stroke-width="1.4"/>
<line x1="214.50" y1="253.30" x2="214.50" y2="260.82" stroke="#e0213a" stroke-width="0.9"/>
<line x1="212.49" y1="257.06" x2="216.51" y2="257.06" stroke="#e0213a" stroke-width="0.9"/>
<circle cx="214.50" cy="257.06" r="1.6" fill="#dc1f38"/>
<path d="M241.10,218.13 L241.08,219.57 L241.05,221.01 L241.02,222.45 L240.98,223.89 L240.93,225.33 L240.88,226.77 L240.83,228.20 L240.77,229.64 L240.72,231.08 L240.66,232.52 L240.59,233.96 L240.52,235.40 L240.44,236.84 L240.35,238.28 L240.24,239.71 L240.13,241.15 L240.00,242.59 L239.83,244.03 L239.63,245.47 L239.38,246.91 L239.10,248.35 L238.75,249.78 L238.26,251.22 L237.70,252.66 L237.16,254.10 L236.70,255.54 L236.25,256.98 L235.82,258.42 L235.43,259.86 L235.02,261.29 L234.70,262.73 L234.82,264.17 L235.69,265.61 L236.83,267.05 L237.75,268.49 L238.60,269.93 L239.44,271.36 L240.28,272.80 L241.10,274.24 L241.10,274.24 L241.92,272.80 L242.76,271.36 L243.60,269.93 L244.45,268.49 L245.37,267.05 L246.51,265.61 L247.38,264.17 L247.50,262.73 L247.18,261.29 L246.77,259.86 L246.38,258.42 L245.95,256.98 L245.50,255.54 L245.04,254.10 L244.50,252.66 L243.94,251.22 L243.45,249.78 L243.10,248.35 L242.82,246.91 L242.57,245.47 L242.37,244.03 L242.20,242.59 L242.07,241.15 L241.96,239.71 L241.85,238.28 L241.76,236.84 L241.68,235.40 L241.61,233.96 L241.54,232.52 L241.48,231.08 L241.43,229.64 L241.37,228.20 L241.32,226.77 L241.27,225.33 L241.22,223.89 L241.18,222.45 L241.15,221.01 L241.12,219.57 L241.10,218.13Z" fill="#e4e6e8" stroke="#3a3a3a" stroke-width="0.55" stroke-linejoin="round"/>
<circle cx="241.10" cy="228.60" r="1.35" fill="#555" fill-opacity="0.9"/>
<circle cx="241.10" cy="239.88" r="1.35" fill="#555" fill-opacity="0.9"/>
<circle cx="241.10" cy="245.65" r="1.35" fill="#555" fill-opacity="0.9"/>
<circle cx="241.10" cy="257.06" r="1.35" fill="#555" fill-opacity="0.9"/>
<line x1="231.17" y1="263.37" x2="251.03" y2="263.37" stroke="#4a4a4a" stroke-width="1.4"/>
<line x1="241.10" y1="254.38" x2="241.10" y2="261.09" stroke="#e0213a" stroke-width="0.9"/>
<line x1="238.15" y1="257.73" x2="244.05" y2="257.73" stroke="#e0213a" stroke-width="0.9"/>
<circle cx="241.10" cy="257.73" r="1.6" fill="#dc1f38"/>
<path d="M267.60,221.49 L267.57,222.85 L267.54,224.21 L267.50,225.57 L267.45,226.93 L267.40,228.29 L267.35,229.65 L267.29,231.01 L267.22,232.37 L267.16,233.73 L267.08,235.08 L267.00,236.44 L266.91,237.80 L266.81,239.16 L266.69,240.52 L266.57,241.88 L266.42,243.24 L266.25,244.60 L266.04,245.96 L265.80,247.32 L265.52,248.68 L265.17,250.04 L264.67,251.40 L264.14,252.76 L263.65,254.12 L263.26,255.48 L262.89,256.84 L262.55,258.20 L262.27,259.56 L262.00,260.92 L261.77,262.27 L261.71,263.63 L262.15,264.99 L262.97,266.35 L263.80,267.71 L264.51,269.07 L265.25,270.43 L266.01,271.79 L266.79,273.15 L267.60,274.51 L267.60,274.51 L268.41,273.15 L269.19,271.79 L269.95,270.43 L270.69,269.07 L271.40,267.71 L272.23,266.35 L273.05,264.99 L273.49,263.63 L273.43,262.27 L273.20,260.92 L272.93,259.56 L272.65,258.20 L272.31,256.84 L271.94,255.48 L271.55,254.12 L271.06,252.76 L270.53,251.40 L270.03,250.04 L269.68,248.68 L269.40,247.32 L269.16,245.96 L268.95,244.60 L268.78,243.24 L268.63,241.88 L268.51,240.52 L268.39,239.16 L268.29,237.80 L268.20,236.44 L268.12,235.08 L268.04,233.73 L267.98,232.37 L267.91,231.01 L267.85,229.65 L267.80,228.29 L267.75,226.93 L267.70,225.57 L267.66,224.21 L267.63,222.85 L267.60,221.49Z" fill="#e4e6e8" stroke="#3a3a3a" stroke-width="0.55" stroke-linejoin="round"/>
<circle cx="267.60" cy="231.83" r="1.35" fill="#555" fill-opacity="0.9"/>
<circle cx="267.60" cy="239.88" r="1.35" fill="#555" fill-opacity="0.9"/>
<circle cx="267.60" cy="246.32" r="1.35" fill="#555" fill-opacity="0.9"/>
<line x1="258.34" y1="263.37" x2="276.86" y2="263.37" stroke="#4a4a4a" stroke-width="1.4"/>
<line x1="267.60" y1="253.03" x2="267.60" y2="259.74" stroke="#e0213a" stroke-width="0.9"/>
<line x1="264.92" y1="256.39" x2="270.28" y2="256.39" stroke="#e0213a" stroke-width="0.9"/>
<circle cx="267.60" cy="256.39" r="1.6" fill="#dc1f38"/>
<path d="M294.40,218.13 L294.39,219.59 L294.36,221.04 L294.33,222.49 L294.29,223.94 L294.24,225.40 L294.19,226.85 L294.13,228.30 L294.07,229.75 L294.01,231.21 L293.95,232.66 L293.86,234.11 L293.77,235.56 L293.66,237.02 L293.54,238.47 L293.42,239.92 L293.29,241.37 L293.14,242.83 L292.98,244.28 L292.79,245.73 L292.59,247.18 L292.36,248.64 L292.10,250.09 L291.80,251.54 L291.49,252.99 L291.16,254.44 L290.81,255.90 L290.44,257.35 L290.07,258.80 L289.70,260.25 L289.29,261.71 L289.04,263.16 L289.28,264.61 L289.98,266.06 L290.78,267.52 L291.45,268.97 L292.15,270.42 L292.87,271.87 L293.62,273.33 L294.40,274.78 L294.40,274.78 L295.18,273.33 L295.93,271.87 L296.65,270.42 L297.35,268.97 L298.02,267.52 L298.82,266.06 L299.52,264.61 L299.76,263.16 L299.51,261.71 L299.10,260.25 L298.73,258.80 L298.36,257.35 L297.99,255.90 L297.64,254.44 L297.31,252.99 L297.00,251.54 L296.70,250.09 L296.44,248.64 L296.21,247.18 L296.01,245.73 L295.82,244.28 L295.66,242.83 L295.51,241.37 L295.38,239.92 L295.26,238.47 L295.14,237.02 L295.03,235.56 L294.94,234.11 L294.85,232.66 L294.79,231.21 L294.73,229.75 L294.67,228.30 L294.61,226.85 L294.56,225.40 L294.51,223.94 L294.47,222.49 L294.44,221.04 L294.41,219.59 L294.40,218.13Z" fill="#e4e6e8" stroke="#3a3a3a" stroke-width="0.55" stroke-linejoin="round"/>
<circle cx="294.40" cy="229.54" r="1.35" fill="#555" fill-opacity="0.9"/>
<circle cx="294.40" cy="240.95" r="1.35" fill="#555" fill-opacity="0.9"/>
<circle cx="294.40" cy="243.64" r="1.35" fill="#555" fill-opacity="0.9"/>
<circle cx="294.40" cy="247.66" r="1.35" fill="#555" fill-opacity="0.9"/>
<line x1="285.54" y1="263.37" x2="303.26" y2="263.37" stroke="#4a4a4a" stroke-width="1.4"/>
<line x1="294.40" y1="252.36" x2="294.40" y2="260.42" stroke="#e0213a" stroke-width="0.9"/>
<line x1="292.52" y1="256.39" x2="296.28" y2="256.39" stroke="#e0213a" stroke-width="0.9"/>
<circle cx="294.40" cy="256.39" r="1.6" fill="#dc1f38"/>
<path d="M321.10,235.99 L320.99,236.90 L320.88,237.81 L320.75,238.72 L320.62,239.63 L320.49,240.55 L320.35,241.46 L320.20,242.37 L320.04,243.28 L319.88,244.20 L319.71,245.11 L319.53,246.02 L319.36,246.93 L319.19,247.84 L319.02,248.76 L318.85,249.67 L318.68,250.58 L318.50,251.49 L318.30,252.40 L318.07,253.32 L317.81,254.23 L317.50,255.14 L317.17,256.05 L316.83,256.96 L316.47,257.88 L316.10,258.79 L315.63,259.70 L315.11,260.61 L314.62,261.52 L314.26,262.44 L314.12,263.35 L314.56,264.26 L315.58,265.17 L316.70,266.08 L317.54,267.00 L318.31,267.91 L319.06,268.82 L319.77,269.73 L320.45,270.64 L321.10,271.56 L321.10,271.56 L321.75,270.64 L322.43,269.73 L323.14,268.82 L323.89,267.91 L324.66,267.00 L325.50,266.08 L326.62,265.17 L327.64,264.26 L328.08,263.35 L327.94,262.44 L327.58,261.52 L327.09,260.61 L326.57,259.70 L326.10,258.79 L325.73,257.88 L325.37,256.96 L325.03,256.05 L324.70,255.14 L324.39,254.23 L324.13,253.32 L323.90,252.40 L323.70,251.49 L323.52,250.58 L323.35,249.67 L323.18,248.76 L323.01,247.84 L322.84,246.93 L322.67,246.02 L322.49,245.11 L322.32,244.20 L322.16,243.28 L322.00,242.37 L321.85,241.46 L321.71,240.55 L321.58,239.63 L321.45,238.72 L321.32,237.81 L321.21,236.90 L321.10,235.99Z" fill="#e4e6e8" stroke="#3a3a3a" stroke-width="0.55" stroke-linejoin="round"/>
<circle cx="321.10" cy="242.97" r="1.35" fill="#555" fill-opacity="0.9"/>
<circle cx="321.10" cy="251.02" r="1.35" fill="#555" fill-opacity="0.9"/>
<circle cx="321.10" cy="253.03" r="1.35" fill="#555" fill-opacity="0.9"/>
<circle cx="321.10" cy="254.38" r="1.35" fill="#555" fill-opacity="0.9"/>
<line x1="312.51" y1="263.37" x2="329.69" y2="263.37" stroke="#4a4a4a" stroke-width="1.4"/>
<line x1="321.10" y1="255.45" x2="321.10" y2="261.36" stroke="#e0213a" stroke-width="0.9"/>
<line x1="319.22" y1="258.40" x2="322.98" y2="258.40" stroke="#e0213a" stroke-width="0.9"/>
<circle cx="321.10" cy="258.40" r="1.6" fill="#dc1f38"/>
<path d="M347.50,233.17 L347.22,234.19 L346.95,235.22 L346.68,236.24 L346.42,237.27 L346.15,238.30 L345.86,239.32 L345.55,240.35 L345.25,241.37 L345.00,242.40 L344.84,243.42 L344.76,244.45 L344.70,245.48 L344.65,246.50 L344.61,247.53 L344.57,248.55 L344.52,249.58 L344.48,250.60 L344.43,251.63 L344.38,252.65 L344.33,253.68 L344.25,254.71 L344.14,255.73 L344.00,256.76 L343.83,257.78 L343.64,258.81 L343.46,259.83 L343.19,260.86 L342.90,261.89 L342.69,262.91 L342.71,263.94 L342.98,264.96 L343.41,265.99 L343.91,267.01 L344.39,268.04 L344.90,269.07 L345.47,270.09 L346.09,271.12 L346.77,272.14 L347.50,273.17 L347.50,273.17 L348.23,272.14 L348.91,271.12 L349.53,270.09 L350.10,269.07 L350.61,268.04 L351.09,267.01 L351.59,265.99 L352.02,264.96 L352.29,263.94 L352.31,262.91 L352.10,261.89 L351.81,260.86 L351.54,259.83 L351.36,258.81 L351.17,257.78 L351.00,256.76 L350.86,255.73 L350.75,254.71 L350.67,253.68 L350.62,252.65 L350.57,251.63 L350.52,250.60 L350.48,249.58 L350.43,248.55 L350.39,247.53 L350.35,246.50 L350.30,245.48 L350.24,244.45 L350.16,243.42 L350.00,242.40 L349.75,241.37 L349.45,240.35 L349.14,239.32 L348.85,238.30 L348.58,237.27 L348.32,236.24 L348.05,235.22 L347.78,234.19 L347.50,233.17Z" fill="#e4e6e8" stroke="#3a3a3a" stroke-width="0.55" stroke-linejoin="round"/>
<circle cx="347.50" cy="243.64" r="1.35" fill="#555" fill-opacity="0.9"/>
<circle cx="347.50" cy="245.25" r="1.35" fill="#555" fill-opacity="0.9"/>
<circle cx="347.50" cy="246.05" r="1.35" fill="#555" fill-opacity="0.9"/>
<line x1="338.24" y1="263.37" x2="356.76" y2="263.37" stroke="#4a4a4a" stroke-width="1.4"/>
<line x1="347.50" y1="252.36" x2="347.50" y2="259.07" stroke="#e0213a" stroke-width="0.9"/>
<line x1="345.08" y1="255.72" x2="349.92" y2="255.72" stroke="#e0213a" stroke-width="0.9"/>
<circle cx="347.50" cy="255.72" r="1.6" fill="#dc1f38"/>
<path d="M374.10,241.22 L373.84,241.95 L373.59,242.67 L373.36,243.40 L373.16,244.13 L372.99,244.85 L372.86,245.58 L372.76,246.30 L372.69,247.03 L372.62,247.76 L372.56,248.48 L372.52,249.21 L372.49,249.94 L372.49,250.66 L372.49,251.39 L372.49,252.11 L372.49,252.84 L372.49,253.57 L372.49,254.29 L372.41,255.02 L372.15,255.75 L371.77,256.47 L371.32,257.20 L370.45,257.92 L369.22,258.65 L367.95,259.38 L366.85,260.10 L365.64,260.83 L364.41,261.56 L363.39,262.28 L362.78,263.01 L362.83,263.73 L363.77,264.46 L365.27,265.19 L366.94,265.91 L368.40,266.64 L369.76,267.36 L371.17,268.09 L372.62,268.82 L374.10,269.54 L374.10,269.54 L375.58,268.82 L377.03,268.09 L378.44,267.36 L379.80,266.64 L381.26,265.91 L382.93,265.19 L384.43,264.46 L385.37,263.73 L385.42,263.01 L384.81,262.28 L383.79,261.56 L382.56,260.83 L381.35,260.10 L380.25,259.38 L378.98,258.65 L377.75,257.92 L376.88,257.20 L376.43,256.47 L376.05,255.75 L375.79,255.02 L375.71,254.29 L375.71,253.57 L375.71,252.84 L375.71,252.11 L375.71,251.39 L375.71,250.66 L375.71,249.94 L375.68,249.21 L375.64,248.48 L375.58,247.76 L375.51,247.03 L375.44,246.30 L375.34,245.58 L375.21,244.85 L375.04,244.13 L374.84,243.40 L374.61,242.67 L374.36,241.95 L374.10,241.22Z" fill="#e4e6e8" stroke="#3a3a3a" stroke-width="0.55" stroke-linejoin="round"/>
<circle cx="374.10" cy="248.34" r="1.35" fill="#555" fill-opacity="0.9"/>
<circle cx="374.10" cy="249.68" r="1.35" fill="#555" fill-opacity="0.9"/>
<line x1="364.84" y1="263.37" x2="383.36" y2="263.37" stroke="#4a4a4a" stroke-width="1.4"/>
<line x1="374.10" y1="258.00" x2="374.10" y2="262.83" stroke="#e0213a" stroke-width="0.9"/>
<line x1="372.22" y1="260.42" x2="375.98" y2="260.42" stroke="#e0213a" stroke-width="0.9"/>
<circle cx="374.10" cy="260.42" r="1.6" fill="#dc1f38"/>
<line x1="175.00" y1="263.40" x2="388.00" y2="263.40" stroke="#222" stroke-width="0.8" stroke-dasharray="2.8 1.7"/>
<line x1="179.21" y1="263.40" x2="196.39" y2="263.40" stroke="#2c2c2c" stroke-width="1.8"/>
<line x1="205.24" y1="263.40" x2="223.76" y2="263.40" stroke="#2c2c2c" stroke-width="1.8"/>
<line x1="231.17" y1="263.40" x2="251.03" y2="263.40" stroke="#2c2c2c" stroke-width="1.8"/>
<line x1="258.34" y1="263.40" x2="276.86" y2="263.40" stroke="#2c2c2c" stroke-width="1.8"/>
<line x1="285.54" y1="263.40" x2="303.26" y2="263.40" stroke="#2c2c2c" stroke-width="1.8"/>
<line x1="312.51" y1="263.40" x2="329.69" y2="263.40" stroke="#2c2c2c" stroke-width="1.8"/>
<line x1="338.24" y1="263.40" x2="356.76" y2="263.40" stroke="#2c2c2c" stroke-width="1.8"/>
<line x1="364.84" y1="263.40" x2="383.36" y2="263.40" stroke="#2c2c2c" stroke-width="1.8"/>
<line x1="174.40" y1="198.00" x2="388.60" y2="198.00" stroke="#666" stroke-width="1.2"/>
<line x1="174.40" y1="289.20" x2="388.60" y2="289.20" stroke="#333" stroke-width="1.2"/>
<line x1="388.00" y1="198.00" x2="388.00" y2="289.20" stroke="#444" stroke-width="1.0"/>
<line x1="175.00" y1="198.00" x2="175.00" y2="289.20" stroke="#333" stroke-width="1.15"/>
<line x1="175.00" y1="198.15" x2="178.60" y2="198.15" stroke="#333" stroke-width="0.8"/>
<text x="171.20" y="200.15" font-size="8.05" text-anchor="end" fill="#333" stroke="#333" stroke-width="0.15">1.0</text>
<line x1="175.00" y1="211.20" x2="178.60" y2="211.20" stroke="#333" stroke-width="0.8"/>
<text x="171.20" y="213.20" font-size="8.05" text-anchor="end" fill="#333" stroke="#333" stroke-width="0.15">0.8</text>
<line x1="175.00" y1="224.25" x2="178.60" y2="224.25" stroke="#333" stroke-width="0.8"/>
<text x="171.20" y="226.25" font-size="8.05" text-anchor="end" fill="#333" stroke="#333" stroke-width="0.15">0.6</text>
<line x1="175.00" y1="237.30" x2="178.60" y2="237.30" stroke="#333" stroke-width="0.8"/>
<text x="171.20" y="239.30" font-size="8.05" text-anchor="end" fill="#333" stroke="#333" stroke-width="0.15">0.4</text>
<line x1="175.00" y1="250.35" x2="178.60" y2="250.35" stroke="#333" stroke-width="0.8"/>
<text x="171.20" y="252.35" font-size="8.05" text-anchor="end" fill="#333" stroke="#333" stroke-width="0.15">0.2</text>
<line x1="175.00" y1="263.40" x2="178.60" y2="263.40" stroke="#333" stroke-width="0.8"/>
<text x="171.20" y="265.40" font-size="8.05" text-anchor="end" fill="#333" stroke="#333" stroke-width="0.15">0.0</text>
<line x1="175.00" y1="276.45" x2="178.60" y2="276.45" stroke="#333" stroke-width="0.8"/>
<text x="171.20" y="278.45" font-size="8.05" text-anchor="end" fill="#333" stroke="#333" stroke-width="0.15">−0.2</text>
<line x1="175.00" y1="289.50" x2="178.60" y2="289.50" stroke="#333" stroke-width="0.8"/>
<text x="171.20" y="291.50" font-size="8.05" text-anchor="end" fill="#333" stroke="#333" stroke-width="0.15">−0.4</text>
<line x1="187.80" y1="289.20" x2="187.80" y2="285.60" stroke="#333" stroke-width="0.8"/>
<text x="188.70" y="300.80" font-size="8.05" text-anchor="middle" fill="#333" stroke="#333" stroke-width="0.15">25</text>
<line x1="214.50" y1="289.20" x2="214.50" y2="285.60" stroke="#333" stroke-width="0.8"/>
<text x="215.40" y="300.80" font-size="8.05" text-anchor="middle" fill="#333" stroke="#333" stroke-width="0.15">50</text>
<line x1="241.10" y1="289.20" x2="241.10" y2="285.60" stroke="#333" stroke-width="0.8"/>
<text x="242.00" y="300.80" font-size="8.05" text-anchor="middle" fill="#333" stroke="#333" stroke-width="0.15">75</text>
<line x1="267.60" y1="289.20" x2="267.60" y2="285.60" stroke="#333" stroke-width="0.8"/>
<text x="268.50" y="300.80" font-size="8.05" text-anchor="middle" fill="#333" stroke="#333" stroke-width="0.15">100</text>
<line x1="294.40" y1="289.20" x2="294.40" y2="285.60" stroke="#333" stroke-width="0.8"/>
<text x="295.30" y="300.80" font-size="8.05" text-anchor="middle" fill="#333" stroke="#333" stroke-width="0.15">125</text>
<line x1="321.10" y1="289.20" x2="321.10" y2="285.60" stroke="#333" stroke-width="0.8"/>
<text x="322.00" y="300.80" font-size="8.05" text-anchor="middle" fill="#333" stroke="#333" stroke-width="0.15">150</text>
<line x1="347.50" y1="289.20" x2="347.50" y2="285.60" stroke="#333" stroke-width="0.8"/>
<text x="348.40" y="300.80" font-size="8.05" text-anchor="middle" fill="#333" stroke="#333" stroke-width="0.15">175</text>
<line x1="374.10" y1="289.20" x2="374.10" y2="285.60" stroke="#333" stroke-width="0.8"/>
<text x="375.00" y="300.80" font-size="8.05" text-anchor="middle" fill="#333" stroke="#333" stroke-width="0.15">200</text>
<text x="283.40" y="313.00" font-size="8.9" text-anchor="middle" fill="#222" stroke="#222" stroke-width="0.15">Red Cluster Number</text>
<text x="151.00" y="243.30" font-size="8.700000000000001" text-anchor="middle" fill="#111" stroke="#111" stroke-width="0.15" transform="rotate(-90 151.00 243.30)">R-G IF</text>
<path d="M581.60,219.48 L581.43,220.92 L581.27,222.37 L581.10,223.81 L580.94,225.26 L580.77,226.70 L580.61,228.15 L580.44,229.60 L580.25,231.04 L580.05,232.49 L579.86,233.93 L579.69,235.38 L579.55,236.82 L579.45,238.27 L579.40,239.71 L579.36,241.16 L579.34,242.61 L579.31,244.05 L579.27,245.50 L579.22,246.94 L579.12,248.39 L578.87,249.83 L578.50,251.28 L577.98,252.72 L577.18,254.17 L576.29,255.61 L575.34,257.06 L574.31,258.51 L573.43,259.95 L572.59,261.40 L571.99,262.84 L572.11,264.29 L572.88,265.73 L573.92,267.18 L574.93,268.62 L576.09,270.07 L577.38,271.52 L578.86,272.96 L580.10,274.41 L581.60,275.85 L581.60,275.85 L583.10,274.41 L584.34,272.96 L585.82,271.52 L587.11,270.07 L588.27,268.62 L589.28,267.18 L590.32,265.73 L591.09,264.29 L591.21,262.84 L590.61,261.40 L589.77,259.95 L588.89,258.51 L587.86,257.06 L586.91,255.61 L586.02,254.17 L585.22,252.72 L584.70,251.28 L584.33,249.83 L584.08,248.39 L583.98,246.94 L583.93,245.50 L583.89,244.05 L583.86,242.61 L583.84,241.16 L583.80,239.71 L583.75,238.27 L583.65,236.82 L583.51,235.38 L583.34,233.93 L583.15,232.49 L582.95,231.04 L582.76,229.60 L582.59,228.15 L582.43,226.70 L582.26,225.26 L582.10,223.81 L581.93,222.37 L581.77,220.92 L581.60,219.48Z" fill="#e4e6e8" stroke="#3a3a3a" stroke-width="0.55" stroke-linejoin="round"/>
<circle cx="581.60" cy="233.17" r="1.35" fill="#555" fill-opacity="0.9"/>
<circle cx="581.60" cy="236.93" r="1.35" fill="#555" fill-opacity="0.9"/>
<circle cx="581.60" cy="239.61" r="1.35" fill="#555" fill-opacity="0.9"/>
<circle cx="581.60" cy="249.01" r="1.35" fill="#555" fill-opacity="0.9"/>
<line x1="572.74" y1="263.37" x2="590.46" y2="263.37" stroke="#4a4a4a" stroke-width="1.4"/>
<line x1="581.60" y1="251.02" x2="581.60" y2="261.76" stroke="#e0213a" stroke-width="0.9"/>
<line x1="579.99" y1="256.39" x2="583.21" y2="256.39" stroke="#e0213a" stroke-width="0.9"/>
<circle cx="581.60" cy="256.39" r="1.6" fill="#dc1f38"/>
<path d="M606.50,221.09 L606.33,222.47 L606.16,223.85 L605.99,225.24 L605.83,226.62 L605.67,228.01 L605.52,229.39 L605.37,230.77 L605.22,232.16 L605.07,233.54 L604.93,234.92 L604.79,236.31 L604.67,237.69 L604.56,239.07 L604.48,240.46 L604.42,241.84 L604.35,243.22 L604.26,244.61 L604.12,245.99 L603.84,247.38 L603.26,248.76 L602.57,250.14 L601.82,251.53 L600.93,252.91 L600.10,254.29 L599.40,255.68 L598.76,257.06 L598.16,258.44 L597.61,259.83 L597.01,261.21 L596.53,262.59 L596.54,263.98 L597.36,265.36 L598.60,266.75 L599.78,268.13 L600.95,269.51 L602.22,270.90 L603.68,272.28 L605.06,273.66 L606.50,275.05 L606.50,275.05 L607.94,273.66 L609.32,272.28 L610.78,270.90 L612.05,269.51 L613.22,268.13 L614.40,266.75 L615.64,265.36 L616.46,263.98 L616.47,262.59 L615.99,261.21 L615.39,259.83 L614.84,258.44 L614.24,257.06 L613.60,255.68 L612.90,254.29 L612.07,252.91 L611.18,251.53 L610.43,250.14 L609.74,248.76 L609.16,247.38 L608.88,245.99 L608.74,244.61 L608.65,243.22 L608.58,241.84 L608.52,240.46 L608.44,239.07 L608.33,237.69 L608.21,236.31 L608.07,234.92 L607.93,233.54 L607.78,232.16 L607.63,230.77 L607.48,229.39 L607.33,228.01 L607.17,226.62 L607.01,225.24 L606.84,223.85 L606.67,222.47 L606.50,221.09Z" fill="#e4e6e8" stroke="#3a3a3a" stroke-width="0.55" stroke-linejoin="round"/>
<circle cx="606.50" cy="230.21" r="1.35" fill="#555" fill-opacity="0.9"/>
<circle cx="606.50" cy="239.61" r="1.35" fill="#555" fill-opacity="0.9"/>
<circle cx="606.50" cy="240.95" r="1.35" fill="#555" fill-opacity="0.9"/>
<circle cx="606.50" cy="253.03" r="1.35" fill="#555" fill-opacity="0.9"/>
<line x1="597.64" y1="263.37" x2="615.36" y2="263.37" stroke="#4a4a4a" stroke-width="1.4"/>
<line x1="606.50" y1="252.36" x2="606.50" y2="260.42" stroke="#e0213a" stroke-width="0.9"/>
<line x1="604.08" y1="256.39" x2="608.92" y2="256.39" stroke="#e0213a" stroke-width="0.9"/>
<circle cx="606.50" cy="256.39" r="1.6" fill="#dc1f38"/>
<path d="M631.50,228.60 L631.30,229.74 L631.10,230.87 L630.89,232.00 L630.66,233.13 L630.43,234.27 L630.20,235.40 L629.95,236.53 L629.68,237.66 L629.41,238.80 L629.13,239.93 L628.85,241.06 L628.57,242.19 L628.30,243.32 L628.03,244.46 L627.76,245.59 L627.49,246.72 L627.22,247.85 L626.94,248.99 L626.68,250.12 L626.43,251.25 L626.17,252.38 L625.87,253.52 L625.49,254.65 L624.95,255.78 L624.29,256.91 L623.64,258.04 L623.01,259.18 L622.28,260.31 L621.61,261.44 L621.14,262.57 L621.07,263.71 L621.70,264.84 L622.73,265.97 L623.83,267.10 L625.22,268.24 L626.69,269.37 L628.17,270.50 L629.83,271.63 L631.50,272.77 L631.50,272.77 L633.17,271.63 L634.83,270.50 L636.31,269.37 L637.78,268.24 L639.17,267.10 L640.27,265.97 L641.30,264.84 L641.93,263.71 L641.86,262.57 L641.39,261.44 L640.72,260.31 L639.99,259.18 L639.36,258.04 L638.71,256.91 L638.05,255.78 L637.51,254.65 L637.13,253.52 L636.83,252.38 L636.57,251.25 L636.32,250.12 L636.06,248.99 L635.78,247.85 L635.51,246.72 L635.24,245.59 L634.97,244.46 L634.70,243.32 L634.43,242.19 L634.15,241.06 L633.87,239.93 L633.59,238.80 L633.32,237.66 L633.05,236.53 L632.80,235.40 L632.57,234.27 L632.34,233.13 L632.11,232.00 L631.90,230.87 L631.70,229.74 L631.50,228.60Z" fill="#e4e6e8" stroke="#3a3a3a" stroke-width="0.55" stroke-linejoin="round"/>
<circle cx="631.50" cy="237.60" r="1.35" fill="#555" fill-opacity="0.9"/>
<circle cx="631.50" cy="239.61" r="1.35" fill="#555" fill-opacity="0.9"/>
<circle cx="631.50" cy="248.34" r="1.35" fill="#555" fill-opacity="0.9"/>
<circle cx="631.50" cy="251.02" r="1.35" fill="#555" fill-opacity="0.9"/>
<circle cx="631.50" cy="252.36" r="1.35" fill="#555" fill-opacity="0.9"/>
<circle cx="631.50" cy="253.70" r="1.35" fill="#555" fill-opacity="0.9"/>
<line x1="623.45" y1="263.37" x2="639.55" y2="263.37" stroke="#4a4a4a" stroke-width="1.4"/>
<line x1="631.50" y1="251.15" x2="631.50" y2="262.43" stroke="#e0213a" stroke-width="0.9"/>
<line x1="629.89" y1="256.79" x2="633.11" y2="256.79" stroke="#e0213a" stroke-width="0.9"/>
<circle cx="631.50" cy="256.79" r="1.6" fill="#dc1f38"/>
<line x1="568.40" y1="263.40" x2="644.20" y2="263.40" stroke="#222" stroke-width="0.8" stroke-dasharray="2.8 1.7"/>
<line x1="572.74" y1="263.40" x2="590.46" y2="263.40" stroke="#2c2c2c" stroke-width="1.8"/>
<line x1="597.64" y1="263.40" x2="615.36" y2="263.40" stroke="#2c2c2c" stroke-width="1.8"/>
<line x1="623.45" y1="263.40" x2="639.55" y2="263.40" stroke="#2c2c2c" stroke-width="1.8"/>
<line x1="567.80" y1="198.00" x2="644.80" y2="198.00" stroke="#666" stroke-width="1.2"/>
<line x1="567.80" y1="289.20" x2="644.80" y2="289.20" stroke="#333" stroke-width="1.2"/>
<line x1="644.20" y1="198.00" x2="644.20" y2="289.20" stroke="#444" stroke-width="1.0"/>
<line x1="568.40" y1="198.00" x2="568.40" y2="289.20" stroke="#333" stroke-width="1.15"/>
<line x1="568.40" y1="198.15" x2="572.00" y2="198.15" stroke="#333" stroke-width="0.8"/>
<text x="564.60" y="200.15" font-size="8.05" text-anchor="end" fill="#333" stroke="#333" stroke-width="0.15">1.0</text>
<line x1="568.40" y1="211.20" x2="572.00" y2="211.20" stroke="#333" stroke-width="0.8"/>
<text x="564.60" y="213.20" font-size="8.05" text-anchor="end" fill="#333" stroke="#333" stroke-width="0.15">0.8</text>
<line x1="568.40" y1="224.25" x2="572.00" y2="224.25" stroke="#333" stroke-width="0.8"/>
<text x="564.60" y="226.25" font-size="8.05" text-anchor="end" fill="#333" stroke="#333" stroke-width="0.15">0.6</text>
<line x1="568.40" y1="237.30" x2="572.00" y2="237.30" stroke="#333" stroke-width="0.8"/>
<text x="564.60" y="239.30" font-size="8.05" text-anchor="end" fill="#333" stroke="#333" stroke-width="0.15">0.4</text>
<line x1="568.40" y1="250.35" x2="572.00" y2="250.35" stroke="#333" stroke-width="0.8"/>
<text x="564.60" y="252.35" font-size="8.05" text-anchor="end" fill="#333" stroke="#333" stroke-width="0.15">0.2</text>
<line x1="568.40" y1="263.40" x2="572.00" y2="263.40" stroke="#333" stroke-width="0.8"/>
<text x="564.60" y="265.40" font-size="8.05" text-anchor="end" fill="#333" stroke="#333" stroke-width="0.15">0.0</text>
<line x1="568.40" y1="276.45" x2="572.00" y2="276.45" stroke="#333" stroke-width="0.8"/>
<text x="564.60" y="278.45" font-size="8.05" text-anchor="end" fill="#333" stroke="#333" stroke-width="0.15">−0.2</text>
<line x1="568.40" y1="289.50" x2="572.00" y2="289.50" stroke="#333" stroke-width="0.8"/>
<text x="564.60" y="291.50" font-size="8.05" text-anchor="end" fill="#333" stroke="#333" stroke-width="0.15">−0.4</text>
<line x1="581.60" y1="289.20" x2="581.60" y2="285.60" stroke="#333" stroke-width="0.8"/>
<text x="579.90" y="300.80" font-size="8.05" text-anchor="middle" fill="#333" stroke="#333" stroke-width="0.15">50</text>
<line x1="606.50" y1="289.20" x2="606.50" y2="285.60" stroke="#333" stroke-width="0.8"/>
<text x="604.80" y="300.80" font-size="8.05" text-anchor="middle" fill="#333" stroke="#333" stroke-width="0.15">100</text>
<line x1="631.50" y1="289.20" x2="631.50" y2="285.60" stroke="#333" stroke-width="0.8"/>
<text x="629.80" y="300.80" font-size="8.05" text-anchor="middle" fill="#333" stroke="#333" stroke-width="0.15">150</text>
<text x="605.50" y="313.00" font-size="8.9" text-anchor="middle" fill="#222" stroke="#222" stroke-width="0.15">Red Cluster Size</text>
<text x="544.40" y="243.30" font-size="8.700000000000001" text-anchor="middle" fill="#111" stroke="#111" stroke-width="0.15" transform="rotate(-90 544.40 243.30)">R-G IF</text>
<path d="M187.80,354.17 L187.53,355.29 L187.17,356.41 L186.75,357.53 L186.29,358.65 L185.72,359.77 L185.00,360.89 L184.27,362.00 L183.66,363.12 L183.12,364.24 L182.62,365.36 L182.25,366.48 L182.06,367.60 L181.94,368.72 L181.85,369.83 L181.76,370.95 L181.65,372.07 L181.49,373.19 L181.28,374.31 L181.06,375.43 L180.89,376.55 L180.82,377.66 L180.88,378.78 L181.02,379.90 L181.22,381.02 L181.47,382.14 L181.91,383.26 L182.50,384.38 L183.16,385.49 L183.81,386.61 L184.39,387.73 L185.02,388.85 L185.65,389.97 L186.22,391.09 L186.66,392.21 L186.98,393.32 L187.27,394.44 L187.51,395.56 L187.70,396.68 L187.80,397.80 L187.80,397.80 L187.90,396.68 L188.09,395.56 L188.33,394.44 L188.62,393.32 L188.94,392.21 L189.38,391.09 L189.95,389.97 L190.58,388.85 L191.21,387.73 L191.79,386.61 L192.44,385.49 L193.10,384.38 L193.69,383.26 L194.13,382.14 L194.38,381.02 L194.58,379.90 L194.72,378.78 L194.78,377.66 L194.71,376.55 L194.54,375.43 L194.32,374.31 L194.11,373.19 L193.95,372.07 L193.84,370.95 L193.75,369.83 L193.66,368.72 L193.54,367.60 L193.35,366.48 L192.98,365.36 L192.48,364.24 L191.94,363.12 L191.33,362.00 L190.60,360.89 L189.88,359.77 L189.31,358.65 L188.85,357.53 L188.43,356.41 L188.07,355.29 L187.80,354.17Z" fill="#e4e6e8" stroke="#3a3a3a" stroke-width="0.55" stroke-linejoin="round"/>
<line x1="186.99" y1="361.56" x2="188.61" y2="361.56" stroke="#6a6a6a" stroke-width="1.25" stroke-linecap="round"/>
<line x1="186.99" y1="364.24" x2="188.61" y2="364.24" stroke="#6a6a6a" stroke-width="1.25" stroke-linecap="round"/>
<line x1="182.43" y1="368.27" x2="193.17" y2="368.27" stroke="#6a6a6a" stroke-width="1.25" stroke-linecap="round"/>
<line x1="186.73" y1="372.30" x2="188.87" y2="372.30" stroke="#6a6a6a" stroke-width="1.25" stroke-linecap="round"/>
<line x1="185.12" y1="374.58" x2="190.48" y2="374.58" stroke="#6a6a6a" stroke-width="1.25" stroke-linecap="round"/>
<line x1="184.44" y1="376.99" x2="191.16" y2="376.99" stroke="#6a6a6a" stroke-width="1.25" stroke-linecap="round"/>
<line x1="184.04" y1="378.74" x2="191.56" y2="378.74" stroke="#6a6a6a" stroke-width="1.25" stroke-linecap="round"/>
<line x1="184.04" y1="381.02" x2="191.56" y2="381.02" stroke="#6a6a6a" stroke-width="1.25" stroke-linecap="round"/>
<line x1="185.79" y1="383.30" x2="189.81" y2="383.30" stroke="#6a6a6a" stroke-width="1.25" stroke-linecap="round"/>
<line x1="186.19" y1="389.74" x2="189.41" y2="389.74" stroke="#6a6a6a" stroke-width="1.25" stroke-linecap="round"/>
<line x1="187.80" y1="372.30" x2="187.80" y2="377.66" stroke="#e0213a" stroke-width="0.9"/>
<line x1="185.38" y1="374.98" x2="190.22" y2="374.98" stroke="#e0213a" stroke-width="0.9"/>
<circle cx="187.80" cy="374.98" r="1.6" fill="#dc1f38"/>
<path d="M214.50,354.58 L214.00,356.06 L213.45,357.55 L212.85,359.04 L212.21,360.52 L211.46,362.01 L210.65,363.50 L209.91,364.99 L209.33,366.47 L208.79,367.96 L208.34,369.45 L208.06,370.93 L207.91,372.42 L207.81,373.91 L207.81,375.39 L208.23,376.88 L208.88,378.37 L209.46,379.85 L210.09,381.34 L210.72,382.83 L211.26,384.31 L211.70,385.80 L212.11,387.29 L212.46,388.77 L212.76,390.26 L212.98,391.75 L213.16,393.23 L213.32,394.72 L213.46,396.21 L213.58,397.70 L213.70,399.18 L213.81,400.67 L213.92,402.16 L214.02,403.64 L214.12,405.13 L214.21,406.62 L214.30,408.10 L214.38,409.59 L214.44,411.08 L214.50,412.56 L214.50,412.56 L214.56,411.08 L214.62,409.59 L214.70,408.10 L214.79,406.62 L214.88,405.13 L214.98,403.64 L215.08,402.16 L215.19,400.67 L215.30,399.18 L215.42,397.70 L215.54,396.21 L215.68,394.72 L215.84,393.23 L216.02,391.75 L216.24,390.26 L216.54,388.77 L216.89,387.29 L217.30,385.80 L217.74,384.31 L218.28,382.83 L218.91,381.34 L219.54,379.85 L220.12,378.37 L220.77,376.88 L221.19,375.39 L221.19,373.91 L221.09,372.42 L220.94,370.93 L220.66,369.45 L220.21,367.96 L219.67,366.47 L219.09,364.99 L218.35,363.50 L217.54,362.01 L216.79,360.52 L216.15,359.04 L215.55,357.55 L215.00,356.06 L214.50,354.58Z" fill="#e4e6e8" stroke="#3a3a3a" stroke-width="0.55" stroke-linejoin="round"/>
<line x1="213.69" y1="364.91" x2="215.31" y2="364.91" stroke="#6a6a6a" stroke-width="1.25" stroke-linecap="round"/>
<line x1="211.82" y1="368.00" x2="217.18" y2="368.00" stroke="#6a6a6a" stroke-width="1.25" stroke-linecap="round"/>
<line x1="209.80" y1="371.22" x2="219.20" y2="371.22" stroke="#6a6a6a" stroke-width="1.25" stroke-linecap="round"/>
<line x1="209.13" y1="374.58" x2="219.87" y2="374.58" stroke="#6a6a6a" stroke-width="1.25" stroke-linecap="round"/>
<line x1="210.74" y1="377.93" x2="218.26" y2="377.93" stroke="#6a6a6a" stroke-width="1.25" stroke-linecap="round"/>
<line x1="212.08" y1="383.30" x2="216.92" y2="383.30" stroke="#6a6a6a" stroke-width="1.25" stroke-linecap="round"/>
<line x1="213.43" y1="386.79" x2="215.57" y2="386.79" stroke="#6a6a6a" stroke-width="1.25" stroke-linecap="round"/>
<line x1="212.49" y1="392.83" x2="216.51" y2="392.83" stroke="#6a6a6a" stroke-width="1.25" stroke-linecap="round"/>
<line x1="213.69" y1="401.83" x2="215.31" y2="401.83" stroke="#6a6a6a" stroke-width="1.25" stroke-linecap="round"/>
<line x1="214.50" y1="373.23" x2="214.50" y2="382.63" stroke="#e0213a" stroke-width="0.9"/>
<line x1="212.08" y1="377.93" x2="216.92" y2="377.93" stroke="#e0213a" stroke-width="0.9"/>
<circle cx="214.50" cy="377.93" r="1.6" fill="#dc1f38"/>
<path d="M241.10,354.58 L240.53,355.69 L239.95,356.81 L239.37,357.92 L238.78,359.04 L238.18,360.15 L237.57,361.27 L236.94,362.38 L236.30,363.50 L235.69,364.61 L235.12,365.73 L234.54,366.84 L233.95,367.96 L233.42,369.07 L232.99,370.19 L232.70,371.30 L232.47,372.42 L232.30,373.53 L232.24,374.65 L232.61,375.76 L233.43,376.88 L234.41,377.99 L235.26,379.11 L236.05,380.23 L236.88,381.34 L237.67,382.46 L238.33,383.57 L238.79,384.69 L239.15,385.80 L239.45,386.92 L239.70,388.03 L239.92,389.15 L240.12,390.26 L240.30,391.38 L240.48,392.49 L240.65,393.61 L240.79,394.72 L240.92,395.84 L241.02,396.95 L241.10,398.07 L241.10,398.07 L241.18,396.95 L241.28,395.84 L241.41,394.72 L241.55,393.61 L241.72,392.49 L241.90,391.38 L242.08,390.26 L242.28,389.15 L242.50,388.03 L242.75,386.92 L243.05,385.80 L243.41,384.69 L243.87,383.57 L244.53,382.46 L245.32,381.34 L246.15,380.23 L246.94,379.11 L247.79,377.99 L248.77,376.88 L249.59,375.76 L249.96,374.65 L249.90,373.53 L249.73,372.42 L249.50,371.30 L249.21,370.19 L248.78,369.07 L248.25,367.96 L247.66,366.84 L247.08,365.73 L246.51,364.61 L245.90,363.50 L245.26,362.38 L244.63,361.27 L244.02,360.15 L243.42,359.04 L242.83,357.92 L242.25,356.81 L241.67,355.69 L241.10,354.58Z" fill="#e4e6e8" stroke="#3a3a3a" stroke-width="0.55" stroke-linejoin="round"/>
<line x1="240.03" y1="362.23" x2="242.17" y2="362.23" stroke="#6a6a6a" stroke-width="1.25" stroke-linecap="round"/>
<line x1="238.95" y1="364.91" x2="243.25" y2="364.91" stroke="#6a6a6a" stroke-width="1.25" stroke-linecap="round"/>
<line x1="238.15" y1="368.00" x2="244.05" y2="368.00" stroke="#6a6a6a" stroke-width="1.25" stroke-linecap="round"/>
<line x1="236.40" y1="371.22" x2="245.80" y2="371.22" stroke="#6a6a6a" stroke-width="1.25" stroke-linecap="round"/>
<line x1="233.72" y1="374.58" x2="248.48" y2="374.58" stroke="#6a6a6a" stroke-width="1.25" stroke-linecap="round"/>
<line x1="238.15" y1="377.93" x2="244.05" y2="377.93" stroke="#6a6a6a" stroke-width="1.25" stroke-linecap="round"/>
<line x1="240.29" y1="381.02" x2="241.91" y2="381.02" stroke="#6a6a6a" stroke-width="1.25" stroke-linecap="round"/>
<line x1="239.22" y1="389.74" x2="242.98" y2="389.74" stroke="#6a6a6a" stroke-width="1.25" stroke-linecap="round"/>
<line x1="241.10" y1="371.36" x2="241.10" y2="376.72" stroke="#e0213a" stroke-width="0.9"/>
<line x1="238.68" y1="374.04" x2="243.52" y2="374.04" stroke="#e0213a" stroke-width="0.9"/>
<circle cx="241.10" cy="374.04" r="1.6" fill="#dc1f38"/>
<path d="M267.60,356.46 L266.87,357.62 L266.14,358.78 L265.41,359.95 L264.66,361.11 L263.90,362.27 L263.05,363.44 L262.20,364.60 L261.45,365.76 L260.89,366.93 L260.45,368.09 L260.07,369.25 L259.84,370.42 L259.85,371.58 L260.08,372.74 L260.41,373.91 L260.79,375.07 L261.33,376.23 L261.97,377.40 L262.57,378.56 L263.06,379.72 L263.51,380.89 L263.94,382.05 L264.32,383.21 L264.65,384.38 L264.93,385.54 L265.18,386.70 L265.41,387.87 L265.63,389.03 L265.83,390.19 L266.04,391.36 L266.23,392.52 L266.43,393.68 L266.62,394.85 L266.80,396.01 L266.97,397.17 L267.14,398.34 L267.30,399.50 L267.46,400.66 L267.60,401.83 L267.60,401.83 L267.74,400.66 L267.90,399.50 L268.06,398.34 L268.23,397.17 L268.40,396.01 L268.58,394.85 L268.77,393.68 L268.97,392.52 L269.16,391.36 L269.37,390.19 L269.57,389.03 L269.79,387.87 L270.02,386.70 L270.27,385.54 L270.55,384.38 L270.88,383.21 L271.26,382.05 L271.69,380.89 L272.14,379.72 L272.63,378.56 L273.23,377.40 L273.87,376.23 L274.41,375.07 L274.79,373.91 L275.12,372.74 L275.35,371.58 L275.36,370.42 L275.13,369.25 L274.75,368.09 L274.31,366.93 L273.75,365.76 L273.00,364.60 L272.15,363.44 L271.30,362.27 L270.54,361.11 L269.79,359.95 L269.06,358.78 L268.33,357.62 L267.60,356.46Z" fill="#e4e6e8" stroke="#3a3a3a" stroke-width="0.55" stroke-linejoin="round"/>
<line x1="264.92" y1="364.91" x2="270.28" y2="364.91" stroke="#6a6a6a" stroke-width="1.25" stroke-linecap="round"/>
<line x1="264.65" y1="368.00" x2="270.55" y2="368.00" stroke="#6a6a6a" stroke-width="1.25" stroke-linecap="round"/>
<line x1="262.90" y1="371.22" x2="272.30" y2="371.22" stroke="#6a6a6a" stroke-width="1.25" stroke-linecap="round"/>
<line x1="264.92" y1="374.58" x2="270.28" y2="374.58" stroke="#6a6a6a" stroke-width="1.25" stroke-linecap="round"/>
<line x1="265.72" y1="377.93" x2="269.48" y2="377.93" stroke="#6a6a6a" stroke-width="1.25" stroke-linecap="round"/>
<line x1="266.79" y1="381.02" x2="268.41" y2="381.02" stroke="#6a6a6a" stroke-width="1.25" stroke-linecap="round"/>
<line x1="265.72" y1="383.70" x2="269.48" y2="383.70" stroke="#6a6a6a" stroke-width="1.25" stroke-linecap="round"/>
<line x1="266.53" y1="390.01" x2="268.67" y2="390.01" stroke="#6a6a6a" stroke-width="1.25" stroke-linecap="round"/>
<line x1="266.53" y1="393.10" x2="268.67" y2="393.10" stroke="#6a6a6a" stroke-width="1.25" stroke-linecap="round"/>
<line x1="267.60" y1="372.30" x2="267.60" y2="377.66" stroke="#e0213a" stroke-width="0.9"/>
<line x1="265.18" y1="374.98" x2="270.02" y2="374.98" stroke="#e0213a" stroke-width="0.9"/>
<circle cx="267.60" cy="374.98" r="1.6" fill="#dc1f38"/>
<path d="M294.40,354.17 L294.35,355.31 L294.22,356.45 L294.01,357.58 L293.74,358.72 L293.43,359.85 L292.99,360.99 L292.20,362.12 L291.22,363.26 L290.24,364.40 L289.17,365.53 L288.01,366.67 L286.97,367.80 L286.12,368.94 L285.30,370.08 L284.78,371.21 L284.80,372.35 L285.12,373.48 L285.56,374.62 L286.27,375.75 L287.28,376.89 L288.32,378.03 L289.12,379.16 L289.75,380.30 L290.32,381.43 L290.82,382.57 L291.24,383.70 L291.57,384.84 L291.84,385.98 L292.07,387.11 L292.27,388.25 L292.47,389.38 L292.68,390.52 L292.91,391.66 L293.15,392.79 L293.39,393.93 L293.64,395.06 L293.89,396.20 L294.14,397.33 L294.40,398.47 L294.40,398.47 L294.66,397.33 L294.91,396.20 L295.16,395.06 L295.41,393.93 L295.65,392.79 L295.89,391.66 L296.12,390.52 L296.33,389.38 L296.53,388.25 L296.73,387.11 L296.96,385.98 L297.23,384.84 L297.56,383.70 L297.98,382.57 L298.48,381.43 L299.05,380.30 L299.68,379.16 L300.48,378.03 L301.52,376.89 L302.53,375.75 L303.24,374.62 L303.68,373.48 L304.00,372.35 L304.02,371.21 L303.50,370.08 L302.68,368.94 L301.83,367.80 L300.79,366.67 L299.63,365.53 L298.56,364.40 L297.58,363.26 L296.60,362.12 L295.81,360.99 L295.37,359.85 L295.06,358.72 L294.79,357.58 L294.58,356.45 L294.45,355.31 L294.40,354.17Z" fill="#e4e6e8" stroke="#3a3a3a" stroke-width="0.55" stroke-linejoin="round"/>
<line x1="291.04" y1="368.00" x2="297.76" y2="368.00" stroke="#6a6a6a" stroke-width="1.25" stroke-linecap="round"/>
<line x1="285.68" y1="371.22" x2="303.12" y2="371.22" stroke="#6a6a6a" stroke-width="1.25" stroke-linecap="round"/>
<line x1="291.45" y1="374.58" x2="297.35" y2="374.58" stroke="#6a6a6a" stroke-width="1.25" stroke-linecap="round"/>
<line x1="292.79" y1="377.93" x2="296.01" y2="377.93" stroke="#6a6a6a" stroke-width="1.25" stroke-linecap="round"/>
<line x1="292.79" y1="381.02" x2="296.01" y2="381.02" stroke="#6a6a6a" stroke-width="1.25" stroke-linecap="round"/>
<line x1="293.59" y1="386.79" x2="295.21" y2="386.79" stroke="#6a6a6a" stroke-width="1.25" stroke-linecap="round"/>
<line x1="292.52" y1="390.01" x2="296.28" y2="390.01" stroke="#6a6a6a" stroke-width="1.25" stroke-linecap="round"/>
<line x1="294.40" y1="372.30" x2="294.40" y2="377.66" stroke="#e0213a" stroke-width="0.9"/>
<line x1="291.98" y1="374.98" x2="296.82" y2="374.98" stroke="#e0213a" stroke-width="0.9"/>
<circle cx="294.40" cy="374.98" r="1.6" fill="#dc1f38"/>
<path d="M321.10,352.43 L321.06,353.49 L320.96,354.55 L320.80,355.61 L320.59,356.67 L320.34,357.73 L320.05,358.79 L319.59,359.85 L318.83,360.91 L317.91,361.97 L316.95,363.03 L315.78,364.09 L314.43,365.15 L313.18,366.21 L312.23,367.27 L311.37,368.33 L310.61,369.39 L310.15,370.45 L310.18,371.51 L310.71,372.57 L311.51,373.63 L312.32,374.69 L313.24,375.75 L314.31,376.81 L315.35,377.87 L316.22,378.93 L316.89,379.99 L317.49,381.05 L318.04,382.11 L318.51,383.17 L318.90,384.23 L319.25,385.29 L319.58,386.35 L319.89,387.41 L320.19,388.47 L320.45,389.53 L320.68,390.59 L320.87,391.65 L321.01,392.71 L321.10,393.77 L321.10,393.77 L321.19,392.71 L321.33,391.65 L321.52,390.59 L321.75,389.53 L322.01,388.47 L322.31,387.41 L322.62,386.35 L322.95,385.29 L323.30,384.23 L323.69,383.17 L324.16,382.11 L324.71,381.05 L325.31,379.99 L325.98,378.93 L326.85,377.87 L327.89,376.81 L328.96,375.75 L329.88,374.69 L330.69,373.63 L331.49,372.57 L332.02,371.51 L332.05,370.45 L331.59,369.39 L330.83,368.33 L329.97,367.27 L329.02,366.21 L327.77,365.15 L326.42,364.09 L325.25,363.03 L324.29,361.97 L323.37,360.91 L322.61,359.85 L322.15,358.79 L321.86,357.73 L321.61,356.67 L321.40,355.61 L321.24,354.55 L321.14,353.49 L321.10,352.43Z" fill="#e4e6e8" stroke="#3a3a3a" stroke-width="0.55" stroke-linejoin="round"/>
<line x1="320.03" y1="359.14" x2="322.17" y2="359.14" stroke="#6a6a6a" stroke-width="1.25" stroke-linecap="round"/>
<line x1="319.22" y1="364.91" x2="322.98" y2="364.91" stroke="#6a6a6a" stroke-width="1.25" stroke-linecap="round"/>
<line x1="317.07" y1="368.00" x2="325.13" y2="368.00" stroke="#6a6a6a" stroke-width="1.25" stroke-linecap="round"/>
<line x1="314.12" y1="371.22" x2="328.08" y2="371.22" stroke="#6a6a6a" stroke-width="1.25" stroke-linecap="round"/>
<line x1="318.15" y1="374.58" x2="324.05" y2="374.58" stroke="#6a6a6a" stroke-width="1.25" stroke-linecap="round"/>
<line x1="319.22" y1="377.93" x2="322.98" y2="377.93" stroke="#6a6a6a" stroke-width="1.25" stroke-linecap="round"/>
<line x1="320.29" y1="383.70" x2="321.91" y2="383.70" stroke="#6a6a6a" stroke-width="1.25" stroke-linecap="round"/>
<line x1="320.03" y1="386.79" x2="322.17" y2="386.79" stroke="#6a6a6a" stroke-width="1.25" stroke-linecap="round"/>
<line x1="321.10" y1="368.94" x2="321.10" y2="374.31" stroke="#e0213a" stroke-width="0.9"/>
<line x1="318.68" y1="371.62" x2="323.52" y2="371.62" stroke="#e0213a" stroke-width="0.9"/>
<circle cx="321.10" cy="371.62" r="1.6" fill="#dc1f38"/>
<path d="M347.50,356.46 L346.79,357.62 L346.07,358.78 L345.33,359.95 L344.57,361.11 L343.77,362.27 L342.85,363.44 L341.93,364.60 L341.11,365.76 L340.52,366.93 L340.08,368.09 L339.70,369.25 L339.48,370.42 L339.50,371.58 L339.81,372.74 L340.26,373.91 L340.72,375.07 L341.27,376.23 L341.89,377.40 L342.47,378.56 L342.96,379.72 L343.41,380.89 L343.84,382.05 L344.22,383.21 L344.55,384.38 L344.83,385.54 L345.08,386.70 L345.31,387.87 L345.53,389.03 L345.73,390.19 L345.94,391.36 L346.13,392.52 L346.33,393.68 L346.52,394.85 L346.70,396.01 L346.87,397.17 L347.04,398.34 L347.20,399.50 L347.36,400.66 L347.50,401.83 L347.50,401.83 L347.64,400.66 L347.80,399.50 L347.96,398.34 L348.13,397.17 L348.30,396.01 L348.48,394.85 L348.67,393.68 L348.87,392.52 L349.06,391.36 L349.27,390.19 L349.47,389.03 L349.69,387.87 L349.92,386.70 L350.17,385.54 L350.45,384.38 L350.78,383.21 L351.16,382.05 L351.59,380.89 L352.04,379.72 L352.53,378.56 L353.11,377.40 L353.73,376.23 L354.28,375.07 L354.74,373.91 L355.19,372.74 L355.50,371.58 L355.52,370.42 L355.30,369.25 L354.92,368.09 L354.48,366.93 L353.89,365.76 L353.07,364.60 L352.15,363.44 L351.23,362.27 L350.43,361.11 L349.67,359.95 L348.93,358.78 L348.21,357.62 L347.50,356.46Z" fill="#e4e6e8" stroke="#3a3a3a" stroke-width="0.55" stroke-linejoin="round"/>
<line x1="344.82" y1="364.91" x2="350.18" y2="364.91" stroke="#6a6a6a" stroke-width="1.25" stroke-linecap="round"/>
<line x1="344.55" y1="368.00" x2="350.45" y2="368.00" stroke="#6a6a6a" stroke-width="1.25" stroke-linecap="round"/>
<line x1="342.80" y1="371.22" x2="352.20" y2="371.22" stroke="#6a6a6a" stroke-width="1.25" stroke-linecap="round"/>
<line x1="344.82" y1="374.58" x2="350.18" y2="374.58" stroke="#6a6a6a" stroke-width="1.25" stroke-linecap="round"/>
<line x1="345.62" y1="377.93" x2="349.38" y2="377.93" stroke="#6a6a6a" stroke-width="1.25" stroke-linecap="round"/>
<line x1="346.43" y1="381.02" x2="348.57" y2="381.02" stroke="#6a6a6a" stroke-width="1.25" stroke-linecap="round"/>
<line x1="346.43" y1="383.70" x2="348.57" y2="383.70" stroke="#6a6a6a" stroke-width="1.25" stroke-linecap="round"/>
<line x1="345.62" y1="386.79" x2="349.38" y2="386.79" stroke="#6a6a6a" stroke-width="1.25" stroke-linecap="round"/>
<line x1="346.43" y1="393.10" x2="348.57" y2="393.10" stroke="#6a6a6a" stroke-width="1.25" stroke-linecap="round"/>
<line x1="347.50" y1="372.30" x2="347.50" y2="377.66" stroke="#e0213a" stroke-width="0.9"/>
<line x1="345.08" y1="374.98" x2="349.92" y2="374.98" stroke="#e0213a" stroke-width="0.9"/>
<circle cx="347.50" cy="374.98" r="1.6" fill="#dc1f38"/>
<path d="M374.10,352.43 L373.84,353.41 L373.56,354.40 L373.25,355.38 L372.91,356.37 L372.55,357.35 L372.17,358.34 L371.77,359.32 L371.33,360.30 L370.86,361.29 L370.36,362.27 L369.82,363.26 L369.27,364.24 L368.66,365.23 L368.00,366.21 L367.31,367.19 L366.64,368.18 L365.89,369.16 L365.08,370.15 L364.52,371.13 L364.50,372.12 L364.92,373.10 L365.50,374.09 L366.04,375.07 L366.62,376.05 L367.24,377.04 L367.87,378.02 L368.46,379.01 L369.03,379.99 L369.60,380.98 L370.16,381.96 L370.69,382.94 L371.20,383.93 L371.67,384.91 L372.12,385.90 L372.56,386.88 L372.98,387.87 L373.37,388.85 L373.75,389.83 L374.10,390.82 L374.10,390.82 L374.45,389.83 L374.83,388.85 L375.22,387.87 L375.64,386.88 L376.08,385.90 L376.53,384.91 L377.00,383.93 L377.51,382.94 L378.04,381.96 L378.60,380.98 L379.17,379.99 L379.74,379.01 L380.33,378.02 L380.96,377.04 L381.58,376.05 L382.16,375.07 L382.70,374.09 L383.28,373.10 L383.70,372.12 L383.68,371.13 L383.12,370.15 L382.31,369.16 L381.56,368.18 L380.89,367.19 L380.20,366.21 L379.54,365.23 L378.93,364.24 L378.38,363.26 L377.84,362.27 L377.34,361.29 L376.87,360.30 L376.43,359.32 L376.03,358.34 L375.65,357.35 L375.29,356.37 L374.95,355.38 L374.64,354.40 L374.36,353.41 L374.10,352.43Z" fill="#e4e6e8" stroke="#3a3a3a" stroke-width="0.55" stroke-linejoin="round"/>
<line x1="373.29" y1="359.14" x2="374.91" y2="359.14" stroke="#6a6a6a" stroke-width="1.25" stroke-linecap="round"/>
<line x1="373.03" y1="362.23" x2="375.17" y2="362.23" stroke="#6a6a6a" stroke-width="1.25" stroke-linecap="round"/>
<line x1="372.22" y1="364.91" x2="375.98" y2="364.91" stroke="#6a6a6a" stroke-width="1.25" stroke-linecap="round"/>
<line x1="371.95" y1="368.00" x2="376.25" y2="368.00" stroke="#6a6a6a" stroke-width="1.25" stroke-linecap="round"/>
<line x1="367.39" y1="371.22" x2="380.81" y2="371.22" stroke="#6a6a6a" stroke-width="1.25" stroke-linecap="round"/>
<line x1="371.15" y1="374.58" x2="377.05" y2="374.58" stroke="#6a6a6a" stroke-width="1.25" stroke-linecap="round"/>
<line x1="371.95" y1="377.93" x2="376.25" y2="377.93" stroke="#6a6a6a" stroke-width="1.25" stroke-linecap="round"/>
<line x1="371.95" y1="381.02" x2="376.25" y2="381.02" stroke="#6a6a6a" stroke-width="1.25" stroke-linecap="round"/>
<line x1="373.03" y1="383.70" x2="375.17" y2="383.70" stroke="#6a6a6a" stroke-width="1.25" stroke-linecap="round"/>
<line x1="374.10" y1="368.94" x2="374.10" y2="374.31" stroke="#e0213a" stroke-width="0.9"/>
<line x1="371.68" y1="371.62" x2="376.52" y2="371.62" stroke="#e0213a" stroke-width="0.9"/>
<circle cx="374.10" cy="371.62" r="1.6" fill="#dc1f38"/>
<line x1="175.00" y1="374.50" x2="388.00" y2="374.50" stroke="#222" stroke-width="0.8" stroke-dasharray="2.8 1.7"/>
<line x1="187.80" y1="372.30" x2="187.80" y2="377.66" stroke="#e0213a" stroke-width="0.9"/>
<line x1="185.38" y1="374.98" x2="190.22" y2="374.98" stroke="#e0213a" stroke-width="0.9"/>
<circle cx="187.80" cy="374.98" r="1.6" fill="#dc1f38"/>
<line x1="214.50" y1="373.23" x2="214.50" y2="382.63" stroke="#e0213a" stroke-width="0.9"/>
<line x1="212.08" y1="377.93" x2="216.92" y2="377.93" stroke="#e0213a" stroke-width="0.9"/>
<circle cx="214.50" cy="377.93" r="1.6" fill="#dc1f38"/>
<line x1="241.10" y1="371.36" x2="241.10" y2="376.72" stroke="#e0213a" stroke-width="0.9"/>
<line x1="238.68" y1="374.04" x2="243.52" y2="374.04" stroke="#e0213a" stroke-width="0.9"/>
<circle cx="241.10" cy="374.04" r="1.6" fill="#dc1f38"/>
<line x1="267.60" y1="372.30" x2="267.60" y2="377.66" stroke="#e0213a" stroke-width="0.9"/>
<line x1="265.18" y1="374.98" x2="270.02" y2="374.98" stroke="#e0213a" stroke-width="0.9"/>
<circle cx="267.60" cy="374.98" r="1.6" fill="#dc1f38"/>
<line x1="294.40" y1="372.30" x2="294.40" y2="377.66" stroke="#e0213a" stroke-width="0.9"/>
<line x1="291.98" y1="374.98" x2="296.82" y2="374.98" stroke="#e0213a" stroke-width="0.9"/>
<circle cx="294.40" cy="374.98" r="1.6" fill="#dc1f38"/>
<line x1="321.10" y1="368.94" x2="321.10" y2="374.31" stroke="#e0213a" stroke-width="0.9"/>
<line x1="318.68" y1="371.62" x2="323.52" y2="371.62" stroke="#e0213a" stroke-width="0.9"/>
<circle cx="321.10" cy="371.62" r="1.6" fill="#dc1f38"/>
<line x1="347.50" y1="372.30" x2="347.50" y2="377.66" stroke="#e0213a" stroke-width="0.9"/>
<line x1="345.08" y1="374.98" x2="349.92" y2="374.98" stroke="#e0213a" stroke-width="0.9"/>
<circle cx="347.50" cy="374.98" r="1.6" fill="#dc1f38"/>
<line x1="374.10" y1="368.94" x2="374.10" y2="374.31" stroke="#e0213a" stroke-width="0.9"/>
<line x1="371.68" y1="371.62" x2="376.52" y2="371.62" stroke="#e0213a" stroke-width="0.9"/>
<circle cx="374.10" cy="371.62" r="1.6" fill="#dc1f38"/>
<line x1="174.40" y1="328.60" x2="388.60" y2="328.60" stroke="#666" stroke-width="1.2"/>
<line x1="174.40" y1="420.20" x2="388.60" y2="420.20" stroke="#333" stroke-width="1.2"/>
<line x1="388.00" y1="328.60" x2="388.00" y2="420.20" stroke="#444" stroke-width="1.0"/>
<line x1="175.00" y1="328.60" x2="175.00" y2="420.20" stroke="#333" stroke-width="1.15"/>
<line x1="175.00" y1="328.60" x2="178.60" y2="328.60" stroke="#333" stroke-width="0.8"/>
<text x="171.20" y="330.60" font-size="8.05" text-anchor="end" fill="#333" stroke="#333" stroke-width="0.15">1.05</text>
<line x1="175.00" y1="343.90" x2="178.60" y2="343.90" stroke="#333" stroke-width="0.8"/>
<text x="171.20" y="345.90" font-size="8.05" text-anchor="end" fill="#333" stroke="#333" stroke-width="0.15">1.00</text>
<line x1="175.00" y1="359.20" x2="178.60" y2="359.20" stroke="#333" stroke-width="0.8"/>
<text x="171.20" y="361.20" font-size="8.05" text-anchor="end" fill="#333" stroke="#333" stroke-width="0.15">0.95</text>
<line x1="175.00" y1="374.50" x2="178.60" y2="374.50" stroke="#333" stroke-width="0.8"/>
<text x="171.20" y="376.50" font-size="8.05" text-anchor="end" fill="#333" stroke="#333" stroke-width="0.15">0.90</text>
<line x1="175.00" y1="389.80" x2="178.60" y2="389.80" stroke="#333" stroke-width="0.8"/>
<text x="171.20" y="391.80" font-size="8.05" text-anchor="end" fill="#333" stroke="#333" stroke-width="0.15">0.85</text>
<line x1="175.00" y1="405.10" x2="178.60" y2="405.10" stroke="#333" stroke-width="0.8"/>
<text x="171.20" y="407.10" font-size="8.05" text-anchor="end" fill="#333" stroke="#333" stroke-width="0.15">0.80</text>
<line x1="175.00" y1="420.40" x2="178.60" y2="420.40" stroke="#333" stroke-width="0.8"/>
<text x="171.20" y="422.40" font-size="8.05" text-anchor="end" fill="#333" stroke="#333" stroke-width="0.15">0.75</text>
<line x1="187.80" y1="420.20" x2="187.80" y2="416.60" stroke="#333" stroke-width="0.8"/>
<text x="188.70" y="430.80" font-size="8.05" text-anchor="middle" fill="#333" stroke="#333" stroke-width="0.15">25</text>
<line x1="214.50" y1="420.20" x2="214.50" y2="416.60" stroke="#333" stroke-width="0.8"/>
<text x="215.40" y="430.80" font-size="8.05" text-anchor="middle" fill="#333" stroke="#333" stroke-width="0.15">50</text>
<line x1="241.10" y1="420.20" x2="241.10" y2="416.60" stroke="#333" stroke-width="0.8"/>
<text x="242.00" y="430.80" font-size="8.05" text-anchor="middle" fill="#333" stroke="#333" stroke-width="0.15">75</text>
<line x1="267.60" y1="420.20" x2="267.60" y2="416.60" stroke="#333" stroke-width="0.8"/>
<text x="268.50" y="430.80" font-size="8.05" text-anchor="middle" fill="#333" stroke="#333" stroke-width="0.15">100</text>
<line x1="294.40" y1="420.20" x2="294.40" y2="416.60" stroke="#333" stroke-width="0.8"/>
<text x="295.30" y="430.80" font-size="8.05" text-anchor="middle" fill="#333" stroke="#333" stroke-width="0.15">125</text>
<line x1="321.10" y1="420.20" x2="321.10" y2="416.60" stroke="#333" stroke-width="0.8"/>
<text x="322.00" y="430.80" font-size="8.05" text-anchor="middle" fill="#333" stroke="#333" stroke-width="0.15">150</text>
<line x1="347.50" y1="420.20" x2="347.50" y2="416.60" stroke="#333" stroke-width="0.8"/>
<text x="348.40" y="430.80" font-size="8.05" text-anchor="middle" fill="#333" stroke="#333" stroke-width="0.15">175</text>
<line x1="374.10" y1="420.20" x2="374.10" y2="416.60" stroke="#333" stroke-width="0.8"/>
<text x="375.00" y="430.80" font-size="8.05" text-anchor="middle" fill="#333" stroke="#333" stroke-width="0.15">200</text>
<text x="283.40" y="443.40" font-size="8.9" text-anchor="middle" fill="#222" stroke="#222" stroke-width="0.15">Red Cluster Number</text>
<text x="151.00" y="374.10" font-size="8.700000000000001" text-anchor="middle" fill="#111" stroke="#111" stroke-width="0.15" transform="rotate(-90 151.00 374.10)">R-G IF</text>
<path d="M581.60,344.78 L581.58,346.45 L581.51,348.13 L581.40,349.81 L581.27,351.48 L581.11,353.16 L580.93,354.84 L580.68,356.51 L580.31,358.19 L579.83,359.86 L579.14,361.54 L578.11,363.22 L577.10,364.89 L576.35,366.57 L575.69,368.24 L575.14,369.92 L574.76,371.60 L574.45,373.27 L574.37,374.95 L574.76,376.63 L575.42,378.30 L576.13,379.98 L577.07,381.65 L577.98,383.33 L578.56,385.01 L579.00,386.68 L579.36,388.36 L579.62,390.03 L579.76,391.71 L579.83,393.39 L579.87,395.06 L579.93,396.74 L580.04,398.41 L580.28,400.09 L580.58,401.77 L580.83,403.44 L581.04,405.12 L581.24,406.80 L581.43,408.47 L581.60,410.15 L581.60,410.15 L581.77,408.47 L581.96,406.80 L582.16,405.12 L582.37,403.44 L582.62,401.77 L582.92,400.09 L583.16,398.41 L583.27,396.74 L583.33,395.06 L583.37,393.39 L583.44,391.71 L583.58,390.03 L583.84,388.36 L584.20,386.68 L584.64,385.01 L585.22,383.33 L586.13,381.65 L587.07,379.98 L587.78,378.30 L588.44,376.63 L588.83,374.95 L588.75,373.27 L588.44,371.60 L588.06,369.92 L587.51,368.24 L586.85,366.57 L586.10,364.89 L585.09,363.22 L584.06,361.54 L583.37,359.86 L582.89,358.19 L582.52,356.51 L582.27,354.84 L582.09,353.16 L581.93,351.48 L581.80,349.81 L581.69,348.13 L581.62,346.45 L581.60,344.78Z" fill="#e4e6e8" stroke="#3a3a3a" stroke-width="0.55" stroke-linejoin="round"/>
<line x1="580.79" y1="356.19" x2="582.41" y2="356.19" stroke="#6a6a6a" stroke-width="1.25" stroke-linecap="round"/>
<line x1="580.79" y1="364.91" x2="582.41" y2="364.91" stroke="#6a6a6a" stroke-width="1.25" stroke-linecap="round"/>
<line x1="580.79" y1="368.00" x2="582.41" y2="368.00" stroke="#6a6a6a" stroke-width="1.25" stroke-linecap="round"/>
<line x1="579.72" y1="371.22" x2="583.48" y2="371.22" stroke="#6a6a6a" stroke-width="1.25" stroke-linecap="round"/>
<line x1="577.57" y1="374.58" x2="585.63" y2="374.58" stroke="#6a6a6a" stroke-width="1.25" stroke-linecap="round"/>
<line x1="578.11" y1="377.93" x2="585.09" y2="377.93" stroke="#6a6a6a" stroke-width="1.25" stroke-linecap="round"/>
<line x1="579.72" y1="381.02" x2="583.48" y2="381.02" stroke="#6a6a6a" stroke-width="1.25" stroke-linecap="round"/>
<line x1="579.99" y1="393.10" x2="583.21" y2="393.10" stroke="#6a6a6a" stroke-width="1.25" stroke-linecap="round"/>
<line x1="579.99" y1="395.79" x2="583.21" y2="395.79" stroke="#6a6a6a" stroke-width="1.25" stroke-linecap="round"/>
<line x1="580.26" y1="397.80" x2="582.94" y2="397.80" stroke="#6a6a6a" stroke-width="1.25" stroke-linecap="round"/>
<line x1="581.60" y1="373.23" x2="581.60" y2="379.95" stroke="#e0213a" stroke-width="0.9"/>
<line x1="579.18" y1="376.59" x2="584.02" y2="376.59" stroke="#e0213a" stroke-width="0.9"/>
<circle cx="581.60" cy="376.59" r="1.6" fill="#dc1f38"/>
<path d="M606.50,356.19 L605.75,357.36 L604.97,358.53 L604.17,359.70 L603.33,360.87 L602.40,362.04 L601.50,363.21 L600.79,364.38 L600.19,365.55 L599.66,366.72 L599.31,367.89 L599.17,369.06 L599.06,370.23 L599.00,371.40 L598.99,372.57 L599.13,373.74 L599.40,374.91 L599.72,376.08 L600.08,377.25 L600.53,378.42 L601.05,379.59 L601.56,380.76 L602.03,381.93 L602.47,383.10 L602.92,384.27 L603.33,385.44 L603.69,386.61 L603.99,387.78 L604.26,388.95 L604.49,390.12 L604.71,391.29 L604.92,392.46 L605.13,393.63 L605.34,394.80 L605.55,395.97 L605.75,397.14 L605.95,398.31 L606.14,399.49 L606.32,400.66 L606.50,401.83 L606.50,401.83 L606.68,400.66 L606.86,399.49 L607.05,398.31 L607.25,397.14 L607.45,395.97 L607.66,394.80 L607.87,393.63 L608.08,392.46 L608.29,391.29 L608.51,390.12 L608.74,388.95 L609.01,387.78 L609.31,386.61 L609.67,385.44 L610.08,384.27 L610.53,383.10 L610.97,381.93 L611.44,380.76 L611.95,379.59 L612.47,378.42 L612.92,377.25 L613.28,376.08 L613.60,374.91 L613.87,373.74 L614.01,372.57 L614.00,371.40 L613.94,370.23 L613.83,369.06 L613.69,367.89 L613.34,366.72 L612.81,365.55 L612.21,364.38 L611.50,363.21 L610.60,362.04 L609.67,360.87 L608.83,359.70 L608.03,358.53 L607.25,357.36 L606.50,356.19Z" fill="#e4e6e8" stroke="#3a3a3a" stroke-width="0.55" stroke-linejoin="round"/>
<line x1="604.62" y1="364.91" x2="608.38" y2="364.91" stroke="#6a6a6a" stroke-width="1.25" stroke-linecap="round"/>
<line x1="604.62" y1="366.26" x2="608.38" y2="366.26" stroke="#6a6a6a" stroke-width="1.25" stroke-linecap="round"/>
<line x1="604.62" y1="368.00" x2="608.38" y2="368.00" stroke="#6a6a6a" stroke-width="1.25" stroke-linecap="round"/>
<line x1="603.55" y1="371.22" x2="609.45" y2="371.22" stroke="#6a6a6a" stroke-width="1.25" stroke-linecap="round"/>
<line x1="604.62" y1="374.58" x2="608.38" y2="374.58" stroke="#6a6a6a" stroke-width="1.25" stroke-linecap="round"/>
<line x1="604.62" y1="377.93" x2="608.38" y2="377.93" stroke="#6a6a6a" stroke-width="1.25" stroke-linecap="round"/>
<line x1="605.69" y1="381.02" x2="607.31" y2="381.02" stroke="#6a6a6a" stroke-width="1.25" stroke-linecap="round"/>
<line x1="604.35" y1="383.70" x2="608.65" y2="383.70" stroke="#6a6a6a" stroke-width="1.25" stroke-linecap="round"/>
<line x1="605.16" y1="390.01" x2="607.84" y2="390.01" stroke="#6a6a6a" stroke-width="1.25" stroke-linecap="round"/>
<line x1="605.43" y1="393.10" x2="607.57" y2="393.10" stroke="#6a6a6a" stroke-width="1.25" stroke-linecap="round"/>
<line x1="606.50" y1="371.62" x2="606.50" y2="377.53" stroke="#e0213a" stroke-width="0.9"/>
<line x1="604.08" y1="374.58" x2="608.92" y2="374.58" stroke="#e0213a" stroke-width="0.9"/>
<circle cx="606.50" cy="374.58" r="1.6" fill="#dc1f38"/>
<path d="M631.50,359.14 L631.00,359.93 L630.36,360.71 L629.60,361.50 L628.76,362.28 L627.68,363.06 L626.39,363.85 L625.17,364.63 L624.12,365.42 L623.06,366.20 L622.21,366.99 L621.78,367.77 L621.54,368.56 L621.38,369.34 L621.30,370.13 L621.38,370.91 L621.64,371.70 L622.03,372.48 L622.45,373.27 L622.86,374.05 L623.35,374.84 L623.91,375.62 L624.48,376.40 L625.02,377.19 L625.51,377.97 L625.97,378.76 L626.42,379.54 L626.85,380.33 L627.28,381.11 L627.69,381.90 L628.10,382.68 L628.50,383.47 L628.90,384.25 L629.29,385.04 L629.68,385.82 L630.05,386.61 L630.43,387.39 L630.79,388.18 L631.15,388.96 L631.50,389.74 L631.50,389.74 L631.85,388.96 L632.21,388.18 L632.57,387.39 L632.95,386.61 L633.32,385.82 L633.71,385.04 L634.10,384.25 L634.50,383.47 L634.90,382.68 L635.31,381.90 L635.72,381.11 L636.15,380.33 L636.58,379.54 L637.03,378.76 L637.49,377.97 L637.98,377.19 L638.52,376.40 L639.09,375.62 L639.65,374.84 L640.14,374.05 L640.55,373.27 L640.97,372.48 L641.36,371.70 L641.62,370.91 L641.70,370.13 L641.62,369.34 L641.46,368.56 L641.22,367.77 L640.79,366.99 L639.94,366.20 L638.88,365.42 L637.83,364.63 L636.61,363.85 L635.32,363.06 L634.24,362.28 L633.40,361.50 L632.64,360.71 L632.00,359.93 L631.50,359.14Z" fill="#e4e6e8" stroke="#3a3a3a" stroke-width="0.55" stroke-linejoin="round"/>
<line x1="630.69" y1="364.91" x2="632.31" y2="364.91" stroke="#6a6a6a" stroke-width="1.25" stroke-linecap="round"/>
<line x1="626.40" y1="368.00" x2="636.60" y2="368.00" stroke="#6a6a6a" stroke-width="1.25" stroke-linecap="round"/>
<line x1="628.55" y1="371.22" x2="634.45" y2="371.22" stroke="#6a6a6a" stroke-width="1.25" stroke-linecap="round"/>
<line x1="629.35" y1="374.58" x2="633.65" y2="374.58" stroke="#6a6a6a" stroke-width="1.25" stroke-linecap="round"/>
<line x1="629.35" y1="377.93" x2="633.65" y2="377.93" stroke="#6a6a6a" stroke-width="1.25" stroke-linecap="round"/>
<line x1="630.69" y1="381.02" x2="632.31" y2="381.02" stroke="#6a6a6a" stroke-width="1.25" stroke-linecap="round"/>
<line x1="630.43" y1="383.70" x2="632.57" y2="383.70" stroke="#6a6a6a" stroke-width="1.25" stroke-linecap="round"/>
<line x1="631.50" y1="370.28" x2="631.50" y2="375.65" stroke="#e0213a" stroke-width="0.9"/>
<line x1="629.08" y1="372.97" x2="633.92" y2="372.97" stroke="#e0213a" stroke-width="0.9"/>
<circle cx="631.50" cy="372.97" r="1.6" fill="#dc1f38"/>
<line x1="568.40" y1="374.50" x2="644.20" y2="374.50" stroke="#222" stroke-width="0.8" stroke-dasharray="2.8 1.7"/>
<line x1="581.60" y1="373.23" x2="581.60" y2="379.95" stroke="#e0213a" stroke-width="0.9"/>
<line x1="579.18" y1="376.59" x2="584.02" y2="376.59" stroke="#e0213a" stroke-width="0.9"/>
<circle cx="581.60" cy="376.59" r="1.6" fill="#dc1f38"/>
<line x1="606.50" y1="371.62" x2="606.50" y2="377.53" stroke="#e0213a" stroke-width="0.9"/>
<line x1="604.08" y1="374.58" x2="608.92" y2="374.58" stroke="#e0213a" stroke-width="0.9"/>
<circle cx="606.50" cy="374.58" r="1.6" fill="#dc1f38"/>
<line x1="631.50" y1="370.28" x2="631.50" y2="375.65" stroke="#e0213a" stroke-width="0.9"/>
<line x1="629.08" y1="372.97" x2="633.92" y2="372.97" stroke="#e0213a" stroke-width="0.9"/>
<circle cx="631.50" cy="372.97" r="1.6" fill="#dc1f38"/>
<line x1="567.80" y1="328.60" x2="644.80" y2="328.60" stroke="#666" stroke-width="1.2"/>
<line x1="567.80" y1="420.20" x2="644.80" y2="420.20" stroke="#333" stroke-width="1.2"/>
<line x1="644.20" y1="328.60" x2="644.20" y2="420.20" stroke="#444" stroke-width="1.0"/>
<line x1="568.40" y1="328.60" x2="568.40" y2="420.20" stroke="#333" stroke-width="1.15"/>
<line x1="568.40" y1="328.60" x2="572.00" y2="328.60" stroke="#333" stroke-width="0.8"/>
<text x="564.60" y="330.60" font-size="8.05" text-anchor="end" fill="#333" stroke="#333" stroke-width="0.15">1.05</text>
<line x1="568.40" y1="343.90" x2="572.00" y2="343.90" stroke="#333" stroke-width="0.8"/>
<text x="564.60" y="345.90" font-size="8.05" text-anchor="end" fill="#333" stroke="#333" stroke-width="0.15">1.00</text>
<line x1="568.40" y1="359.20" x2="572.00" y2="359.20" stroke="#333" stroke-width="0.8"/>
<text x="564.60" y="361.20" font-size="8.05" text-anchor="end" fill="#333" stroke="#333" stroke-width="0.15">0.95</text>
<line x1="568.40" y1="374.50" x2="572.00" y2="374.50" stroke="#333" stroke-width="0.8"/>
<text x="564.60" y="376.50" font-size="8.05" text-anchor="end" fill="#333" stroke="#333" stroke-width="0.15">0.90</text>
<line x1="568.40" y1="389.80" x2="572.00" y2="389.80" stroke="#333" stroke-width="0.8"/>
<text x="564.60" y="391.80" font-size="8.05" text-anchor="end" fill="#333" stroke="#333" stroke-width="0.15">0.85</text>
<line x1="568.40" y1="405.10" x2="572.00" y2="405.10" stroke="#333" stroke-width="0.8"/>
<text x="564.60" y="407.10" font-size="8.05" text-anchor="end" fill="#333" stroke="#333" stroke-width="0.15">0.80</text>
<line x1="568.40" y1="420.40" x2="572.00" y2="420.40" stroke="#333" stroke-width="0.8"/>
<text x="564.60" y="422.40" font-size="8.05" text-anchor="end" fill="#333" stroke="#333" stroke-width="0.15">0.75</text>
<line x1="581.60" y1="420.20" x2="581.60" y2="416.60" stroke="#333" stroke-width="0.8"/>
<text x="579.90" y="430.90" font-size="8.05" text-anchor="middle" fill="#333" stroke="#333" stroke-width="0.15">50</text>
<line x1="606.50" y1="420.20" x2="606.50" y2="416.60" stroke="#333" stroke-width="0.8"/>
<text x="604.80" y="430.90" font-size="8.05" text-anchor="middle" fill="#333" stroke="#333" stroke-width="0.15">100</text>
<line x1="631.50" y1="420.20" x2="631.50" y2="416.60" stroke="#333" stroke-width="0.8"/>
<text x="629.80" y="430.90" font-size="8.05" text-anchor="middle" fill="#333" stroke="#333" stroke-width="0.15">150</text>
<text x="609.40" y="443.50" font-size="8.9" text-anchor="middle" fill="#222" stroke="#222" stroke-width="0.15">Red Cluster Size</text>
<text x="544.40" y="374.10" font-size="8.700000000000001" text-anchor="middle" fill="#111" stroke="#111" stroke-width="0.15" transform="rotate(-90 544.40 374.10)">R-G IF</text>
<text x="2.10" y="456.90" font-size="11.2" font-weight="bold" fill="#000" stroke="#000" stroke-width="0.15">c</text>
<text x="62.50" y="463.80" font-size="9.0" text-anchor="middle" fill="#222" stroke="#222" stroke-width="0.15" xml:space="preserve">n clusters = 25</text>
<circle cx="44.64" cy="500.14" r="1.6" fill="none" stroke="#6e6e6e" stroke-width="0.85"/>
<circle cx="44.64" cy="504.11" r="1.6" fill="none" stroke="#6e6e6e" stroke-width="0.85"/>
<circle cx="44.64" cy="506.80" r="1.6" fill="none" stroke="#6e6e6e" stroke-width="0.85"/>
<circle cx="44.64" cy="508.94" r="1.6" fill="none" stroke="#6e6e6e" stroke-width="0.85"/>
<circle cx="44.64" cy="510.56" r="1.6" fill="none" stroke="#6e6e6e" stroke-width="0.85"/>
<circle cx="44.64" cy="512.17" r="1.6" fill="none" stroke="#6e6e6e" stroke-width="0.85"/>
<circle cx="44.64" cy="513.78" r="1.6" fill="none" stroke="#6e6e6e" stroke-width="0.85"/>
<circle cx="44.64" cy="514.85" r="1.6" fill="none" stroke="#6e6e6e" stroke-width="0.85"/>
<circle cx="44.64" cy="515.92" r="1.6" fill="none" stroke="#6e6e6e" stroke-width="0.85"/>
<circle cx="44.64" cy="518.82" r="1.6" fill="none" stroke="#6e6e6e" stroke-width="0.85"/>
<circle cx="52.48" cy="496.06" r="1.6" fill="none" stroke="#6e6e6e" stroke-width="0.85"/>
<circle cx="52.48" cy="501.43" r="1.6" fill="none" stroke="#6e6e6e" stroke-width="0.85"/>
<circle cx="52.48" cy="503.58" r="1.6" fill="none" stroke="#6e6e6e" stroke-width="0.85"/>
<circle cx="52.48" cy="506.80" r="1.6" fill="none" stroke="#6e6e6e" stroke-width="0.85"/>
<circle cx="52.48" cy="508.41" r="1.6" fill="none" stroke="#6e6e6e" stroke-width="0.85"/>
<circle cx="52.48" cy="511.09" r="1.6" fill="none" stroke="#6e6e6e" stroke-width="0.85"/>
<circle cx="52.48" cy="515.92" r="1.6" fill="none" stroke="#6e6e6e" stroke-width="0.85"/>
<circle cx="52.48" cy="518.61" r="1.6" fill="none" stroke="#6e6e6e" stroke-width="0.85"/>
<circle cx="59.89" cy="492.09" r="1.6" fill="none" stroke="#6e6e6e" stroke-width="0.85"/>
<circle cx="59.89" cy="494.45" r="1.6" fill="none" stroke="#6e6e6e" stroke-width="0.85"/>
<circle cx="59.89" cy="496.06" r="1.6" fill="none" stroke="#6e6e6e" stroke-width="0.85"/>
<circle cx="59.89" cy="497.67" r="1.6" fill="none" stroke="#6e6e6e" stroke-width="0.85"/>
<circle cx="59.89" cy="499.28" r="1.6" fill="none" stroke="#6e6e6e" stroke-width="0.85"/>
<circle cx="59.89" cy="500.89" r="1.6" fill="none" stroke="#6e6e6e" stroke-width="0.85"/>
<circle cx="59.89" cy="502.50" r="1.6" fill="none" stroke="#6e6e6e" stroke-width="0.85"/>
<circle cx="59.89" cy="504.44" r="1.6" fill="none" stroke="#6e6e6e" stroke-width="0.85"/>
<circle cx="59.89" cy="506.80" r="1.6" fill="none" stroke="#6e6e6e" stroke-width="0.85"/>
<circle cx="59.89" cy="512.92" r="1.6" fill="none" stroke="#6e6e6e" stroke-width="0.85"/>
<circle cx="67.51" cy="491.23" r="1.6" fill="none" stroke="#6e6e6e" stroke-width="0.85"/>
<circle cx="67.51" cy="492.84" r="1.6" fill="none" stroke="#6e6e6e" stroke-width="0.85"/>
<circle cx="67.51" cy="494.13" r="1.6" fill="none" stroke="#6e6e6e" stroke-width="0.85"/>
<circle cx="67.51" cy="495.52" r="1.6" fill="none" stroke="#6e6e6e" stroke-width="0.85"/>
<circle cx="67.51" cy="496.92" r="1.6" fill="none" stroke="#6e6e6e" stroke-width="0.85"/>
<circle cx="67.51" cy="498.21" r="1.6" fill="none" stroke="#6e6e6e" stroke-width="0.85"/>
<circle cx="67.51" cy="499.28" r="1.6" fill="none" stroke="#6e6e6e" stroke-width="0.85"/>
<circle cx="71.48" cy="491.02" r="1.5" fill="none" stroke="#666" stroke-width="0.85"/>
<circle cx="72.25" cy="490.10" r="1.5" fill="none" stroke="#666" stroke-width="0.85"/>
<circle cx="71.74" cy="489.93" r="1.5" fill="none" stroke="#666" stroke-width="0.85"/>
<circle cx="72.51" cy="490.52" r="1.5" fill="none" stroke="#666" stroke-width="0.85"/>
<circle cx="72.00" cy="489.61" r="1.5" fill="none" stroke="#666" stroke-width="0.85"/>
<circle cx="72.77" cy="489.44" r="1.5" fill="none" stroke="#666" stroke-width="0.85"/>
<circle cx="72.25" cy="490.03" r="1.5" fill="none" stroke="#666" stroke-width="0.85"/>
<circle cx="73.03" cy="489.11" r="1.5" fill="none" stroke="#666" stroke-width="0.85"/>
<circle cx="72.51" cy="488.95" r="1.5" fill="none" stroke="#666" stroke-width="0.85"/>
<circle cx="73.29" cy="489.53" r="1.5" fill="none" stroke="#666" stroke-width="0.85"/>
<circle cx="72.77" cy="488.62" r="1.5" fill="none" stroke="#666" stroke-width="0.85"/>
<circle cx="73.54" cy="488.45" r="1.5" fill="none" stroke="#666" stroke-width="0.85"/>
<circle cx="73.03" cy="489.04" r="1.5" fill="none" stroke="#666" stroke-width="0.85"/>
<circle cx="73.80" cy="488.12" r="1.5" fill="none" stroke="#666" stroke-width="0.85"/>
<circle cx="73.29" cy="487.96" r="1.5" fill="none" stroke="#666" stroke-width="0.85"/>
<circle cx="74.06" cy="488.55" r="1.5" fill="none" stroke="#666" stroke-width="0.85"/>
<line x1="38.41" y1="521.83" x2="81.36" y2="481.03" stroke="#555" stroke-width="1.25"/>
<line x1="29.60" y1="469.30" x2="29.60" y2="535.30" stroke="#333" stroke-width="1.1"/>
<line x1="29.10" y1="534.80" x2="90.59" y2="534.80" stroke="#333" stroke-width="1.1"/>
<line x1="29.60" y1="469.90" x2="32.60" y2="469.90" stroke="#333" stroke-width="0.9"/>
<text x="25.70" y="471.40" font-size="8.350000000000001" text-anchor="end" fill="#222" stroke="#222" stroke-width="0.15">1.5</text>
<line x1="29.60" y1="486.40" x2="32.60" y2="486.40" stroke="#333" stroke-width="0.9"/>
<text x="25.70" y="487.90" font-size="8.350000000000001" text-anchor="end" fill="#222" stroke="#222" stroke-width="0.15">1.0</text>
<line x1="29.60" y1="502.50" x2="32.60" y2="502.50" stroke="#333" stroke-width="0.9"/>
<text x="25.70" y="504.00" font-size="8.350000000000001" text-anchor="end" fill="#222" stroke="#222" stroke-width="0.15">0.5</text>
<line x1="29.60" y1="518.60" x2="32.60" y2="518.60" stroke="#333" stroke-width="0.9"/>
<text x="25.70" y="520.10" font-size="8.350000000000001" text-anchor="end" fill="#222" stroke="#222" stroke-width="0.15">0.0</text>
<text x="25.70" y="536.30" font-size="8.350000000000001" text-anchor="end" fill="#222" stroke="#222" stroke-width="0.15">−0.5</text>
<text x="31.30" y="545.80" font-size="8.05" text-anchor="middle" fill="#222" stroke="#222" stroke-width="0.15" transform="rotate(45 31.30 543.20)">−0.5</text>
<line x1="44.64" y1="534.80" x2="44.64" y2="531.80" stroke="#333" stroke-width="0.9"/>
<text x="46.34" y="545.80" font-size="8.05" text-anchor="middle" fill="#222" stroke="#222" stroke-width="0.15" transform="rotate(45 46.34 543.20)">0.0</text>
<line x1="59.79" y1="534.80" x2="59.79" y2="531.80" stroke="#333" stroke-width="0.9"/>
<text x="61.49" y="545.80" font-size="8.05" text-anchor="middle" fill="#222" stroke="#222" stroke-width="0.15" transform="rotate(45 61.49 543.20)">0.5</text>
<line x1="74.94" y1="534.80" x2="74.94" y2="531.80" stroke="#333" stroke-width="0.9"/>
<text x="76.64" y="545.80" font-size="8.05" text-anchor="middle" fill="#222" stroke="#222" stroke-width="0.15" transform="rotate(45 76.64 543.20)">1.0</text>
<line x1="90.09" y1="534.80" x2="90.09" y2="531.80" stroke="#333" stroke-width="0.9"/>
<text x="91.79" y="545.80" font-size="8.05" text-anchor="middle" fill="#222" stroke="#222" stroke-width="0.15" transform="rotate(45 91.79 543.20)">1.5</text>
<text x="40.90" y="477.8" font-size="8.6" fill="#222">R<tspan font-size="5.2" dy="-2.9">2</tspan><tspan dy="2.9">=0.8</tspan></text>
<text x="63.40" y="560.80" font-size="8.9" text-anchor="middle" fill="#222" stroke="#222" stroke-width="0.15">Simulated R-G IF</text>
<text x="140.50" y="463.80" font-size="9.0" text-anchor="middle" fill="#222" stroke="#222" stroke-width="0.15" xml:space="preserve">n clusters = 50</text>
<circle cx="123.64" cy="505.72" r="1.6" fill="none" stroke="#6e6e6e" stroke-width="0.85"/>
<circle cx="123.64" cy="507.33" r="1.6" fill="none" stroke="#6e6e6e" stroke-width="0.85"/>
<circle cx="123.64" cy="510.02" r="1.6" fill="none" stroke="#6e6e6e" stroke-width="0.85"/>
<circle cx="123.64" cy="511.63" r="1.6" fill="none" stroke="#6e6e6e" stroke-width="0.85"/>
<circle cx="123.64" cy="514.31" r="1.6" fill="none" stroke="#6e6e6e" stroke-width="0.85"/>
<circle cx="123.64" cy="515.39" r="1.6" fill="none" stroke="#6e6e6e" stroke-width="0.85"/>
<circle cx="123.64" cy="516.46" r="1.6" fill="none" stroke="#6e6e6e" stroke-width="0.85"/>
<circle cx="123.64" cy="517.53" r="1.6" fill="none" stroke="#6e6e6e" stroke-width="0.85"/>
<circle cx="123.64" cy="518.61" r="1.6" fill="none" stroke="#6e6e6e" stroke-width="0.85"/>
<circle cx="123.64" cy="519.14" r="1.6" fill="none" stroke="#6e6e6e" stroke-width="0.85"/>
<circle cx="131.16" cy="499.50" r="1.6" fill="none" stroke="#6e6e6e" stroke-width="0.85"/>
<circle cx="131.16" cy="503.04" r="1.6" fill="none" stroke="#6e6e6e" stroke-width="0.85"/>
<circle cx="131.16" cy="504.65" r="1.6" fill="none" stroke="#6e6e6e" stroke-width="0.85"/>
<circle cx="131.16" cy="506.26" r="1.6" fill="none" stroke="#6e6e6e" stroke-width="0.85"/>
<circle cx="131.16" cy="507.87" r="1.6" fill="none" stroke="#6e6e6e" stroke-width="0.85"/>
<circle cx="131.16" cy="509.48" r="1.6" fill="none" stroke="#6e6e6e" stroke-width="0.85"/>
<circle cx="131.16" cy="511.09" r="1.6" fill="none" stroke="#6e6e6e" stroke-width="0.85"/>
<circle cx="131.16" cy="512.70" r="1.6" fill="none" stroke="#6e6e6e" stroke-width="0.85"/>
<circle cx="131.16" cy="514.85" r="1.6" fill="none" stroke="#6e6e6e" stroke-width="0.85"/>
<circle cx="131.16" cy="518.61" r="1.6" fill="none" stroke="#6e6e6e" stroke-width="0.85"/>
<circle cx="138.67" cy="494.13" r="1.6" fill="none" stroke="#6e6e6e" stroke-width="0.85"/>
<circle cx="138.67" cy="496.06" r="1.6" fill="none" stroke="#6e6e6e" stroke-width="0.85"/>
<circle cx="138.67" cy="497.35" r="1.6" fill="none" stroke="#6e6e6e" stroke-width="0.85"/>
<circle cx="138.67" cy="498.75" r="1.6" fill="none" stroke="#6e6e6e" stroke-width="0.85"/>
<circle cx="138.67" cy="500.14" r="1.6" fill="none" stroke="#6e6e6e" stroke-width="0.85"/>
<circle cx="138.67" cy="501.43" r="1.6" fill="none" stroke="#6e6e6e" stroke-width="0.85"/>
<circle cx="138.67" cy="504.11" r="1.6" fill="none" stroke="#6e6e6e" stroke-width="0.85"/>
<circle cx="138.67" cy="506.26" r="1.6" fill="none" stroke="#6e6e6e" stroke-width="0.85"/>
<circle cx="138.67" cy="507.87" r="1.6" fill="none" stroke="#6e6e6e" stroke-width="0.85"/>
<circle cx="138.67" cy="509.48" r="1.6" fill="none" stroke="#6e6e6e" stroke-width="0.85"/>
<circle cx="138.67" cy="512.92" r="1.6" fill="none" stroke="#6e6e6e" stroke-width="0.85"/>
<circle cx="138.67" cy="518.61" r="1.6" fill="none" stroke="#6e6e6e" stroke-width="0.85"/>
<circle cx="146.40" cy="490.69" r="1.6" fill="none" stroke="#6e6e6e" stroke-width="0.85"/>
<circle cx="146.40" cy="492.30" r="1.6" fill="none" stroke="#6e6e6e" stroke-width="0.85"/>
<circle cx="146.40" cy="493.70" r="1.6" fill="none" stroke="#6e6e6e" stroke-width="0.85"/>
<circle cx="146.40" cy="494.99" r="1.6" fill="none" stroke="#6e6e6e" stroke-width="0.85"/>
<circle cx="146.40" cy="496.28" r="1.6" fill="none" stroke="#6e6e6e" stroke-width="0.85"/>
<circle cx="146.40" cy="497.67" r="1.6" fill="none" stroke="#6e6e6e" stroke-width="0.85"/>
<circle cx="146.40" cy="500.14" r="1.6" fill="none" stroke="#6e6e6e" stroke-width="0.85"/>
<circle cx="150.37" cy="492.09" r="1.5" fill="none" stroke="#666" stroke-width="0.85"/>
<circle cx="151.15" cy="491.07" r="1.5" fill="none" stroke="#666" stroke-width="0.85"/>
<circle cx="150.63" cy="490.79" r="1.5" fill="none" stroke="#666" stroke-width="0.85"/>
<circle cx="151.40" cy="491.27" r="1.5" fill="none" stroke="#666" stroke-width="0.85"/>
<circle cx="150.89" cy="490.25" r="1.5" fill="none" stroke="#666" stroke-width="0.85"/>
<circle cx="151.66" cy="489.98" r="1.5" fill="none" stroke="#666" stroke-width="0.85"/>
<circle cx="151.15" cy="490.46" r="1.5" fill="none" stroke="#666" stroke-width="0.85"/>
<circle cx="151.92" cy="489.43" r="1.5" fill="none" stroke="#666" stroke-width="0.85"/>
<circle cx="151.40" cy="489.16" r="1.5" fill="none" stroke="#666" stroke-width="0.85"/>
<circle cx="152.18" cy="489.64" r="1.5" fill="none" stroke="#666" stroke-width="0.85"/>
<circle cx="151.66" cy="488.62" r="1.5" fill="none" stroke="#666" stroke-width="0.85"/>
<circle cx="152.44" cy="488.35" r="1.5" fill="none" stroke="#666" stroke-width="0.85"/>
<circle cx="151.92" cy="488.83" r="1.5" fill="none" stroke="#666" stroke-width="0.85"/>
<circle cx="152.69" cy="487.80" r="1.5" fill="none" stroke="#666" stroke-width="0.85"/>
<circle cx="152.18" cy="487.53" r="1.5" fill="none" stroke="#666" stroke-width="0.85"/>
<circle cx="152.95" cy="488.01" r="1.5" fill="none" stroke="#666" stroke-width="0.85"/>
<line x1="117.20" y1="522.37" x2="160.14" y2="481.25" stroke="#555" stroke-width="1.25"/>
<line x1="108.60" y1="469.30" x2="108.60" y2="535.30" stroke="#333" stroke-width="1.1"/>
<line x1="108.10" y1="534.80" x2="169.59" y2="534.80" stroke="#333" stroke-width="1.1"/>
<line x1="108.60" y1="469.90" x2="111.60" y2="469.90" stroke="#333" stroke-width="0.9"/>
<line x1="108.60" y1="486.40" x2="111.60" y2="486.40" stroke="#333" stroke-width="0.9"/>
<line x1="108.60" y1="502.50" x2="111.60" y2="502.50" stroke="#333" stroke-width="0.9"/>
<line x1="108.60" y1="518.60" x2="111.60" y2="518.60" stroke="#333" stroke-width="0.9"/>
<text x="110.30" y="545.80" font-size="8.05" text-anchor="middle" fill="#222" stroke="#222" stroke-width="0.15" transform="rotate(45 110.30 543.20)">−0.5</text>
<line x1="123.64" y1="534.80" x2="123.64" y2="531.80" stroke="#333" stroke-width="0.9"/>
<text x="125.34" y="545.80" font-size="8.05" text-anchor="middle" fill="#222" stroke="#222" stroke-width="0.15" transform="rotate(45 125.34 543.20)">0.0</text>
<line x1="138.79" y1="534.80" x2="138.79" y2="531.80" stroke="#333" stroke-width="0.9"/>
<text x="140.49" y="545.80" font-size="8.05" text-anchor="middle" fill="#222" stroke="#222" stroke-width="0.15" transform="rotate(45 140.49 543.20)">0.5</text>
<line x1="153.94" y1="534.80" x2="153.94" y2="531.80" stroke="#333" stroke-width="0.9"/>
<text x="155.64" y="545.80" font-size="8.05" text-anchor="middle" fill="#222" stroke="#222" stroke-width="0.15" transform="rotate(45 155.64 543.20)">1.0</text>
<line x1="169.09" y1="534.80" x2="169.09" y2="531.80" stroke="#333" stroke-width="0.9"/>
<text x="170.79" y="545.80" font-size="8.05" text-anchor="middle" fill="#222" stroke="#222" stroke-width="0.15" transform="rotate(45 170.79 543.20)">1.5</text>
<text x="113.40" y="477.8" font-size="8.6" fill="#222">R<tspan font-size="5.2" dy="-2.9">2</tspan><tspan dy="2.9">=0.84</tspan></text>
<text x="142.40" y="560.80" font-size="8.9" text-anchor="middle" fill="#222" stroke="#222" stroke-width="0.15">Simulated R-G IF</text>
<text x="219.00" y="463.80" font-size="9.0" text-anchor="middle" fill="#222" stroke="#222" stroke-width="0.15" xml:space="preserve">n clusters = 75</text>
<circle cx="202.64" cy="501.21" r="1.6" fill="none" stroke="#6e6e6e" stroke-width="0.85"/>
<circle cx="202.64" cy="506.80" r="1.6" fill="none" stroke="#6e6e6e" stroke-width="0.85"/>
<circle cx="202.64" cy="509.80" r="1.6" fill="none" stroke="#6e6e6e" stroke-width="0.85"/>
<circle cx="202.64" cy="514.31" r="1.6" fill="none" stroke="#6e6e6e" stroke-width="0.85"/>
<circle cx="202.64" cy="515.39" r="1.6" fill="none" stroke="#6e6e6e" stroke-width="0.85"/>
<circle cx="202.64" cy="516.46" r="1.6" fill="none" stroke="#6e6e6e" stroke-width="0.85"/>
<circle cx="202.64" cy="517.53" r="1.6" fill="none" stroke="#6e6e6e" stroke-width="0.85"/>
<circle cx="202.64" cy="518.61" r="1.6" fill="none" stroke="#6e6e6e" stroke-width="0.85"/>
<circle cx="202.64" cy="519.14" r="1.6" fill="none" stroke="#6e6e6e" stroke-width="0.85"/>
<circle cx="210.16" cy="500.36" r="1.6" fill="none" stroke="#6e6e6e" stroke-width="0.85"/>
<circle cx="210.16" cy="503.04" r="1.6" fill="none" stroke="#6e6e6e" stroke-width="0.85"/>
<circle cx="210.16" cy="504.44" r="1.6" fill="none" stroke="#6e6e6e" stroke-width="0.85"/>
<circle cx="210.16" cy="505.72" r="1.6" fill="none" stroke="#6e6e6e" stroke-width="0.85"/>
<circle cx="210.16" cy="507.33" r="1.6" fill="none" stroke="#6e6e6e" stroke-width="0.85"/>
<circle cx="210.16" cy="508.94" r="1.6" fill="none" stroke="#6e6e6e" stroke-width="0.85"/>
<circle cx="210.16" cy="512.17" r="1.6" fill="none" stroke="#6e6e6e" stroke-width="0.85"/>
<circle cx="210.16" cy="513.78" r="1.6" fill="none" stroke="#6e6e6e" stroke-width="0.85"/>
<circle cx="210.16" cy="515.92" r="1.6" fill="none" stroke="#6e6e6e" stroke-width="0.85"/>
<circle cx="210.16" cy="517.53" r="1.6" fill="none" stroke="#6e6e6e" stroke-width="0.85"/>
<circle cx="210.16" cy="519.14" r="1.6" fill="none" stroke="#6e6e6e" stroke-width="0.85"/>
<circle cx="217.67" cy="496.60" r="1.6" fill="none" stroke="#6e6e6e" stroke-width="0.85"/>
<circle cx="217.67" cy="498.21" r="1.6" fill="none" stroke="#6e6e6e" stroke-width="0.85"/>
<circle cx="217.67" cy="499.82" r="1.6" fill="none" stroke="#6e6e6e" stroke-width="0.85"/>
<circle cx="217.67" cy="501.43" r="1.6" fill="none" stroke="#6e6e6e" stroke-width="0.85"/>
<circle cx="217.67" cy="503.04" r="1.6" fill="none" stroke="#6e6e6e" stroke-width="0.85"/>
<circle cx="217.67" cy="504.65" r="1.6" fill="none" stroke="#6e6e6e" stroke-width="0.85"/>
<circle cx="217.67" cy="506.26" r="1.6" fill="none" stroke="#6e6e6e" stroke-width="0.85"/>
<circle cx="217.67" cy="508.41" r="1.6" fill="none" stroke="#6e6e6e" stroke-width="0.85"/>
<circle cx="217.67" cy="513.02" r="1.6" fill="none" stroke="#6e6e6e" stroke-width="0.85"/>
<circle cx="225.19" cy="491.77" r="1.6" fill="none" stroke="#6e6e6e" stroke-width="0.85"/>
<circle cx="225.19" cy="493.06" r="1.6" fill="none" stroke="#6e6e6e" stroke-width="0.85"/>
<circle cx="225.19" cy="494.45" r="1.6" fill="none" stroke="#6e6e6e" stroke-width="0.85"/>
<circle cx="225.19" cy="495.85" r="1.6" fill="none" stroke="#6e6e6e" stroke-width="0.85"/>
<circle cx="225.19" cy="497.13" r="1.6" fill="none" stroke="#6e6e6e" stroke-width="0.85"/>
<circle cx="225.19" cy="499.28" r="1.6" fill="none" stroke="#6e6e6e" stroke-width="0.85"/>
<circle cx="229.16" cy="491.55" r="1.5" fill="none" stroke="#666" stroke-width="0.85"/>
<circle cx="229.93" cy="490.53" r="1.5" fill="none" stroke="#666" stroke-width="0.85"/>
<circle cx="229.42" cy="490.26" r="1.5" fill="none" stroke="#666" stroke-width="0.85"/>
<circle cx="230.19" cy="490.74" r="1.5" fill="none" stroke="#666" stroke-width="0.85"/>
<circle cx="229.67" cy="489.71" r="1.5" fill="none" stroke="#666" stroke-width="0.85"/>
<circle cx="230.45" cy="489.44" r="1.5" fill="none" stroke="#666" stroke-width="0.85"/>
<circle cx="229.93" cy="489.92" r="1.5" fill="none" stroke="#666" stroke-width="0.85"/>
<circle cx="230.71" cy="488.90" r="1.5" fill="none" stroke="#666" stroke-width="0.85"/>
<circle cx="230.19" cy="488.62" r="1.5" fill="none" stroke="#666" stroke-width="0.85"/>
<circle cx="230.96" cy="489.10" r="1.5" fill="none" stroke="#666" stroke-width="0.85"/>
<circle cx="230.45" cy="488.08" r="1.5" fill="none" stroke="#666" stroke-width="0.85"/>
<circle cx="231.22" cy="487.81" r="1.5" fill="none" stroke="#666" stroke-width="0.85"/>
<circle cx="230.71" cy="488.29" r="1.5" fill="none" stroke="#666" stroke-width="0.85"/>
<circle cx="231.48" cy="487.26" r="1.5" fill="none" stroke="#666" stroke-width="0.85"/>
<circle cx="230.96" cy="486.99" r="1.5" fill="none" stroke="#666" stroke-width="0.85"/>
<circle cx="231.74" cy="487.47" r="1.5" fill="none" stroke="#666" stroke-width="0.85"/>
<line x1="196.20" y1="523.12" x2="238.82" y2="480.49" stroke="#555" stroke-width="1.25"/>
<line x1="187.60" y1="469.30" x2="187.60" y2="535.30" stroke="#333" stroke-width="1.1"/>
<line x1="187.10" y1="534.80" x2="248.59" y2="534.80" stroke="#333" stroke-width="1.1"/>
<line x1="187.60" y1="469.90" x2="190.60" y2="469.90" stroke="#333" stroke-width="0.9"/>
<line x1="187.60" y1="486.40" x2="190.60" y2="486.40" stroke="#333" stroke-width="0.9"/>
<line x1="187.60" y1="502.50" x2="190.60" y2="502.50" stroke="#333" stroke-width="0.9"/>
<line x1="187.60" y1="518.60" x2="190.60" y2="518.60" stroke="#333" stroke-width="0.9"/>
<text x="189.30" y="545.80" font-size="8.05" text-anchor="middle" fill="#222" stroke="#222" stroke-width="0.15" transform="rotate(45 189.30 543.20)">−0.5</text>
<line x1="202.64" y1="534.80" x2="202.64" y2="531.80" stroke="#333" stroke-width="0.9"/>
<text x="204.34" y="545.80" font-size="8.05" text-anchor="middle" fill="#222" stroke="#222" stroke-width="0.15" transform="rotate(45 204.34 543.20)">0.0</text>
<line x1="217.79" y1="534.80" x2="217.79" y2="531.80" stroke="#333" stroke-width="0.9"/>
<text x="219.49" y="545.80" font-size="8.05" text-anchor="middle" fill="#222" stroke="#222" stroke-width="0.15" transform="rotate(45 219.49 543.20)">0.5</text>
<line x1="232.94" y1="534.80" x2="232.94" y2="531.80" stroke="#333" stroke-width="0.9"/>
<text x="234.64" y="545.80" font-size="8.05" text-anchor="middle" fill="#222" stroke="#222" stroke-width="0.15" transform="rotate(45 234.64 543.20)">1.0</text>
<line x1="248.09" y1="534.80" x2="248.09" y2="531.80" stroke="#333" stroke-width="0.9"/>
<text x="249.79" y="545.80" font-size="8.05" text-anchor="middle" fill="#222" stroke="#222" stroke-width="0.15" transform="rotate(45 249.79 543.20)">1.5</text>
<text x="194.60" y="477.8" font-size="8.6" fill="#222">R<tspan font-size="5.2" dy="-2.9">2</tspan><tspan dy="2.9">=0.87</tspan></text>
<text x="221.40" y="560.80" font-size="8.9" text-anchor="middle" fill="#222" stroke="#222" stroke-width="0.15">Simulated R-G IF</text>
<text x="299.10" y="463.80" font-size="9.0" text-anchor="middle" fill="#222" stroke="#222" stroke-width="0.15" xml:space="preserve">n clusters = 100</text>
<circle cx="281.39" cy="503.04" r="1.6" fill="none" stroke="#6e6e6e" stroke-width="0.85"/>
<circle cx="281.39" cy="506.80" r="1.6" fill="none" stroke="#6e6e6e" stroke-width="0.85"/>
<circle cx="281.39" cy="509.80" r="1.6" fill="none" stroke="#6e6e6e" stroke-width="0.85"/>
<circle cx="281.39" cy="513.24" r="1.6" fill="none" stroke="#6e6e6e" stroke-width="0.85"/>
<circle cx="281.39" cy="514.53" r="1.6" fill="none" stroke="#6e6e6e" stroke-width="0.85"/>
<circle cx="281.39" cy="515.60" r="1.6" fill="none" stroke="#6e6e6e" stroke-width="0.85"/>
<circle cx="281.39" cy="517.00" r="1.6" fill="none" stroke="#6e6e6e" stroke-width="0.85"/>
<circle cx="281.39" cy="518.82" r="1.6" fill="none" stroke="#6e6e6e" stroke-width="0.85"/>
<circle cx="288.91" cy="503.58" r="1.6" fill="none" stroke="#6e6e6e" stroke-width="0.85"/>
<circle cx="288.91" cy="504.87" r="1.6" fill="none" stroke="#6e6e6e" stroke-width="0.85"/>
<circle cx="288.91" cy="506.26" r="1.6" fill="none" stroke="#6e6e6e" stroke-width="0.85"/>
<circle cx="288.91" cy="507.66" r="1.6" fill="none" stroke="#6e6e6e" stroke-width="0.85"/>
<circle cx="288.91" cy="508.94" r="1.6" fill="none" stroke="#6e6e6e" stroke-width="0.85"/>
<circle cx="288.91" cy="510.56" r="1.6" fill="none" stroke="#6e6e6e" stroke-width="0.85"/>
<circle cx="288.91" cy="512.17" r="1.6" fill="none" stroke="#6e6e6e" stroke-width="0.85"/>
<circle cx="288.91" cy="513.78" r="1.6" fill="none" stroke="#6e6e6e" stroke-width="0.85"/>
<circle cx="288.91" cy="515.39" r="1.6" fill="none" stroke="#6e6e6e" stroke-width="0.85"/>
<circle cx="288.91" cy="517.00" r="1.6" fill="none" stroke="#6e6e6e" stroke-width="0.85"/>
<circle cx="288.91" cy="518.82" r="1.6" fill="none" stroke="#6e6e6e" stroke-width="0.85"/>
<circle cx="296.53" cy="492.84" r="1.6" fill="none" stroke="#6e6e6e" stroke-width="0.85"/>
<circle cx="296.53" cy="496.60" r="1.6" fill="none" stroke="#6e6e6e" stroke-width="0.85"/>
<circle cx="296.53" cy="498.21" r="1.6" fill="none" stroke="#6e6e6e" stroke-width="0.85"/>
<circle cx="296.53" cy="500.14" r="1.6" fill="none" stroke="#6e6e6e" stroke-width="0.85"/>
<circle cx="296.53" cy="501.97" r="1.6" fill="none" stroke="#6e6e6e" stroke-width="0.85"/>
<circle cx="296.53" cy="503.58" r="1.6" fill="none" stroke="#6e6e6e" stroke-width="0.85"/>
<circle cx="296.53" cy="505.72" r="1.6" fill="none" stroke="#6e6e6e" stroke-width="0.85"/>
<circle cx="296.53" cy="507.33" r="1.6" fill="none" stroke="#6e6e6e" stroke-width="0.85"/>
<circle cx="296.53" cy="508.94" r="1.6" fill="none" stroke="#6e6e6e" stroke-width="0.85"/>
<circle cx="296.53" cy="511.95" r="1.6" fill="none" stroke="#6e6e6e" stroke-width="0.85"/>
<circle cx="296.53" cy="518.82" r="1.6" fill="none" stroke="#6e6e6e" stroke-width="0.85"/>
<circle cx="304.05" cy="491.77" r="1.6" fill="none" stroke="#6e6e6e" stroke-width="0.85"/>
<circle cx="304.05" cy="493.06" r="1.6" fill="none" stroke="#6e6e6e" stroke-width="0.85"/>
<circle cx="304.05" cy="494.45" r="1.6" fill="none" stroke="#6e6e6e" stroke-width="0.85"/>
<circle cx="304.05" cy="495.85" r="1.6" fill="none" stroke="#6e6e6e" stroke-width="0.85"/>
<circle cx="304.05" cy="497.13" r="1.6" fill="none" stroke="#6e6e6e" stroke-width="0.85"/>
<circle cx="304.05" cy="499.82" r="1.6" fill="none" stroke="#6e6e6e" stroke-width="0.85"/>
<circle cx="308.02" cy="491.55" r="1.5" fill="none" stroke="#666" stroke-width="0.85"/>
<circle cx="308.79" cy="490.53" r="1.5" fill="none" stroke="#666" stroke-width="0.85"/>
<circle cx="308.28" cy="490.26" r="1.5" fill="none" stroke="#666" stroke-width="0.85"/>
<circle cx="309.05" cy="490.74" r="1.5" fill="none" stroke="#666" stroke-width="0.85"/>
<circle cx="308.53" cy="489.71" r="1.5" fill="none" stroke="#666" stroke-width="0.85"/>
<circle cx="309.31" cy="489.44" r="1.5" fill="none" stroke="#666" stroke-width="0.85"/>
<circle cx="308.79" cy="489.92" r="1.5" fill="none" stroke="#666" stroke-width="0.85"/>
<circle cx="309.56" cy="488.90" r="1.5" fill="none" stroke="#666" stroke-width="0.85"/>
<circle cx="309.05" cy="488.62" r="1.5" fill="none" stroke="#666" stroke-width="0.85"/>
<circle cx="309.82" cy="489.10" r="1.5" fill="none" stroke="#666" stroke-width="0.85"/>
<circle cx="309.31" cy="488.08" r="1.5" fill="none" stroke="#666" stroke-width="0.85"/>
<circle cx="310.08" cy="487.81" r="1.5" fill="none" stroke="#666" stroke-width="0.85"/>
<circle cx="309.56" cy="488.29" r="1.5" fill="none" stroke="#666" stroke-width="0.85"/>
<circle cx="310.34" cy="487.26" r="1.5" fill="none" stroke="#666" stroke-width="0.85"/>
<circle cx="309.82" cy="486.99" r="1.5" fill="none" stroke="#666" stroke-width="0.85"/>
<circle cx="310.60" cy="487.47" r="1.5" fill="none" stroke="#666" stroke-width="0.85"/>
<line x1="275.27" y1="523.98" x2="317.68" y2="481.25" stroke="#555" stroke-width="1.25"/>
<line x1="266.10" y1="469.30" x2="266.10" y2="535.30" stroke="#333" stroke-width="1.1"/>
<line x1="265.60" y1="534.80" x2="327.34" y2="534.80" stroke="#333" stroke-width="1.1"/>
<line x1="266.10" y1="469.90" x2="269.10" y2="469.90" stroke="#333" stroke-width="0.9"/>
<line x1="266.10" y1="486.40" x2="269.10" y2="486.40" stroke="#333" stroke-width="0.9"/>
<line x1="266.10" y1="502.50" x2="269.10" y2="502.50" stroke="#333" stroke-width="0.9"/>
<line x1="266.10" y1="518.60" x2="269.10" y2="518.60" stroke="#333" stroke-width="0.9"/>
<text x="267.80" y="545.80" font-size="8.05" text-anchor="middle" fill="#222" stroke="#222" stroke-width="0.15" transform="rotate(45 267.80 543.20)">−0.5</text>
<line x1="281.39" y1="534.80" x2="281.39" y2="531.80" stroke="#333" stroke-width="0.9"/>
<text x="283.09" y="545.80" font-size="8.05" text-anchor="middle" fill="#222" stroke="#222" stroke-width="0.15" transform="rotate(45 283.09 543.20)">0.0</text>
<line x1="296.54" y1="534.80" x2="296.54" y2="531.80" stroke="#333" stroke-width="0.9"/>
<text x="298.24" y="545.80" font-size="8.05" text-anchor="middle" fill="#222" stroke="#222" stroke-width="0.15" transform="rotate(45 298.24 543.20)">0.5</text>
<line x1="311.69" y1="534.80" x2="311.69" y2="531.80" stroke="#333" stroke-width="0.9"/>
<text x="313.39" y="545.80" font-size="8.05" text-anchor="middle" fill="#222" stroke="#222" stroke-width="0.15" transform="rotate(45 313.39 543.20)">1.0</text>
<line x1="326.84" y1="534.80" x2="326.84" y2="531.80" stroke="#333" stroke-width="0.9"/>
<text x="328.54" y="545.80" font-size="8.05" text-anchor="middle" fill="#222" stroke="#222" stroke-width="0.15" transform="rotate(45 328.54 543.20)">1.5</text>
<text x="271.50" y="477.8" font-size="8.6" fill="#222">R<tspan font-size="5.2" dy="-2.9">2</tspan><tspan dy="2.9">=0.82</tspan></text>
<text x="299.90" y="560.80" font-size="8.9" text-anchor="middle" fill="#222" stroke="#222" stroke-width="0.15">Simulated R-G IF</text>
<text x="380.30" y="463.80" font-size="9.0" text-anchor="middle" fill="#222" stroke="#222" stroke-width="0.15" xml:space="preserve">n clusters  = 125</text>
<circle cx="360.18" cy="501.75" r="1.6" fill="none" stroke="#6e6e6e" stroke-width="0.85"/>
<circle cx="360.18" cy="507.33" r="1.6" fill="none" stroke="#6e6e6e" stroke-width="0.85"/>
<circle cx="360.18" cy="508.94" r="1.6" fill="none" stroke="#6e6e6e" stroke-width="0.85"/>
<circle cx="360.18" cy="510.56" r="1.6" fill="none" stroke="#6e6e6e" stroke-width="0.85"/>
<circle cx="360.18" cy="512.17" r="1.6" fill="none" stroke="#6e6e6e" stroke-width="0.85"/>
<circle cx="360.18" cy="513.78" r="1.6" fill="none" stroke="#6e6e6e" stroke-width="0.85"/>
<circle cx="360.18" cy="515.39" r="1.6" fill="none" stroke="#6e6e6e" stroke-width="0.85"/>
<circle cx="360.18" cy="517.00" r="1.6" fill="none" stroke="#6e6e6e" stroke-width="0.85"/>
<circle cx="360.18" cy="518.82" r="1.6" fill="none" stroke="#6e6e6e" stroke-width="0.85"/>
<circle cx="367.69" cy="500.36" r="1.6" fill="none" stroke="#6e6e6e" stroke-width="0.85"/>
<circle cx="367.69" cy="504.65" r="1.6" fill="none" stroke="#6e6e6e" stroke-width="0.85"/>
<circle cx="367.69" cy="506.26" r="1.6" fill="none" stroke="#6e6e6e" stroke-width="0.85"/>
<circle cx="367.69" cy="507.87" r="1.6" fill="none" stroke="#6e6e6e" stroke-width="0.85"/>
<circle cx="367.69" cy="509.48" r="1.6" fill="none" stroke="#6e6e6e" stroke-width="0.85"/>
<circle cx="367.69" cy="511.09" r="1.6" fill="none" stroke="#6e6e6e" stroke-width="0.85"/>
<circle cx="367.69" cy="512.70" r="1.6" fill="none" stroke="#6e6e6e" stroke-width="0.85"/>
<circle cx="367.69" cy="516.46" r="1.6" fill="none" stroke="#6e6e6e" stroke-width="0.85"/>
<circle cx="367.69" cy="518.07" r="1.6" fill="none" stroke="#6e6e6e" stroke-width="0.85"/>
<circle cx="367.69" cy="519.14" r="1.6" fill="none" stroke="#6e6e6e" stroke-width="0.85"/>
<circle cx="375.21" cy="494.45" r="1.6" fill="none" stroke="#6e6e6e" stroke-width="0.85"/>
<circle cx="375.21" cy="497.13" r="1.6" fill="none" stroke="#6e6e6e" stroke-width="0.85"/>
<circle cx="375.21" cy="498.75" r="1.6" fill="none" stroke="#6e6e6e" stroke-width="0.85"/>
<circle cx="375.21" cy="500.36" r="1.6" fill="none" stroke="#6e6e6e" stroke-width="0.85"/>
<circle cx="375.21" cy="501.97" r="1.6" fill="none" stroke="#6e6e6e" stroke-width="0.85"/>
<circle cx="375.21" cy="503.58" r="1.6" fill="none" stroke="#6e6e6e" stroke-width="0.85"/>
<circle cx="375.21" cy="505.72" r="1.6" fill="none" stroke="#6e6e6e" stroke-width="0.85"/>
<circle cx="375.21" cy="507.87" r="1.6" fill="none" stroke="#6e6e6e" stroke-width="0.85"/>
<circle cx="375.21" cy="509.48" r="1.6" fill="none" stroke="#6e6e6e" stroke-width="0.85"/>
<circle cx="382.72" cy="491.77" r="1.6" fill="none" stroke="#6e6e6e" stroke-width="0.85"/>
<circle cx="382.72" cy="493.38" r="1.6" fill="none" stroke="#6e6e6e" stroke-width="0.85"/>
<circle cx="382.72" cy="494.77" r="1.6" fill="none" stroke="#6e6e6e" stroke-width="0.85"/>
<circle cx="382.72" cy="496.06" r="1.6" fill="none" stroke="#6e6e6e" stroke-width="0.85"/>
<circle cx="382.72" cy="497.67" r="1.6" fill="none" stroke="#6e6e6e" stroke-width="0.85"/>
<circle cx="382.72" cy="499.50" r="1.6" fill="none" stroke="#6e6e6e" stroke-width="0.85"/>
<circle cx="386.70" cy="491.55" r="1.5" fill="none" stroke="#666" stroke-width="0.85"/>
<circle cx="387.47" cy="490.49" r="1.5" fill="none" stroke="#666" stroke-width="0.85"/>
<circle cx="386.95" cy="490.19" r="1.5" fill="none" stroke="#666" stroke-width="0.85"/>
<circle cx="387.73" cy="490.63" r="1.5" fill="none" stroke="#666" stroke-width="0.85"/>
<circle cx="387.21" cy="489.57" r="1.5" fill="none" stroke="#666" stroke-width="0.85"/>
<circle cx="387.98" cy="489.26" r="1.5" fill="none" stroke="#666" stroke-width="0.85"/>
<circle cx="387.47" cy="489.71" r="1.5" fill="none" stroke="#666" stroke-width="0.85"/>
<circle cx="388.24" cy="488.65" r="1.5" fill="none" stroke="#666" stroke-width="0.85"/>
<circle cx="387.73" cy="488.34" r="1.5" fill="none" stroke="#666" stroke-width="0.85"/>
<circle cx="388.50" cy="488.78" r="1.5" fill="none" stroke="#666" stroke-width="0.85"/>
<circle cx="387.98" cy="487.72" r="1.5" fill="none" stroke="#666" stroke-width="0.85"/>
<circle cx="388.76" cy="487.42" r="1.5" fill="none" stroke="#666" stroke-width="0.85"/>
<circle cx="388.24" cy="487.86" r="1.5" fill="none" stroke="#666" stroke-width="0.85"/>
<circle cx="389.02" cy="486.80" r="1.5" fill="none" stroke="#666" stroke-width="0.85"/>
<circle cx="388.50" cy="486.49" r="1.5" fill="none" stroke="#666" stroke-width="0.85"/>
<circle cx="389.27" cy="486.94" r="1.5" fill="none" stroke="#666" stroke-width="0.85"/>
<line x1="354.06" y1="522.37" x2="396.36" y2="480.49" stroke="#555" stroke-width="1.25"/>
<line x1="344.80" y1="469.30" x2="344.80" y2="535.30" stroke="#333" stroke-width="1.1"/>
<line x1="344.30" y1="534.80" x2="406.13" y2="534.80" stroke="#333" stroke-width="1.1"/>
<line x1="344.80" y1="469.90" x2="347.80" y2="469.90" stroke="#333" stroke-width="0.9"/>
<line x1="344.80" y1="486.40" x2="347.80" y2="486.40" stroke="#333" stroke-width="0.9"/>
<line x1="344.80" y1="502.50" x2="347.80" y2="502.50" stroke="#333" stroke-width="0.9"/>
<line x1="344.80" y1="518.60" x2="347.80" y2="518.60" stroke="#333" stroke-width="0.9"/>
<text x="346.50" y="545.80" font-size="8.05" text-anchor="middle" fill="#222" stroke="#222" stroke-width="0.15" transform="rotate(45 346.50 543.20)">−0.5</text>
<line x1="360.18" y1="534.80" x2="360.18" y2="531.80" stroke="#333" stroke-width="0.9"/>
<text x="361.88" y="545.80" font-size="8.05" text-anchor="middle" fill="#222" stroke="#222" stroke-width="0.15" transform="rotate(45 361.88 543.20)">0.0</text>
<line x1="375.33" y1="534.80" x2="375.33" y2="531.80" stroke="#333" stroke-width="0.9"/>
<text x="377.03" y="545.80" font-size="8.05" text-anchor="middle" fill="#222" stroke="#222" stroke-width="0.15" transform="rotate(45 377.03 543.20)">0.5</text>
<line x1="390.48" y1="534.80" x2="390.48" y2="531.80" stroke="#333" stroke-width="0.9"/>
<text x="392.18" y="545.80" font-size="8.05" text-anchor="middle" fill="#222" stroke="#222" stroke-width="0.15" transform="rotate(45 392.18 543.20)">1.0</text>
<line x1="405.63" y1="534.80" x2="405.63" y2="531.80" stroke="#333" stroke-width="0.9"/>
<text x="407.33" y="545.80" font-size="8.05" text-anchor="middle" fill="#222" stroke="#222" stroke-width="0.15" transform="rotate(45 407.33 543.20)">1.5</text>
<text x="348.90" y="477.8" font-size="8.6" fill="#222">R<tspan font-size="5.2" dy="-2.9">2</tspan><tspan dy="2.9">=0.88</tspan></text>
<text x="378.60" y="560.80" font-size="8.9" text-anchor="middle" fill="#222" stroke="#222" stroke-width="0.15">Simulated R-G IF</text>
<text x="457.80" y="463.80" font-size="9.0" text-anchor="middle" fill="#222" stroke="#222" stroke-width="0.15" xml:space="preserve">n clusters = 150</text>
<circle cx="438.86" cy="508.94" r="1.6" fill="none" stroke="#6e6e6e" stroke-width="0.85"/>
<circle cx="438.86" cy="511.63" r="1.6" fill="none" stroke="#6e6e6e" stroke-width="0.85"/>
<circle cx="438.86" cy="512.92" r="1.6" fill="none" stroke="#6e6e6e" stroke-width="0.85"/>
<circle cx="438.86" cy="514.31" r="1.6" fill="none" stroke="#6e6e6e" stroke-width="0.85"/>
<circle cx="438.86" cy="515.60" r="1.6" fill="none" stroke="#6e6e6e" stroke-width="0.85"/>
<circle cx="438.86" cy="517.00" r="1.6" fill="none" stroke="#6e6e6e" stroke-width="0.85"/>
<circle cx="438.86" cy="518.29" r="1.6" fill="none" stroke="#6e6e6e" stroke-width="0.85"/>
<circle cx="438.86" cy="519.14" r="1.6" fill="none" stroke="#6e6e6e" stroke-width="0.85"/>
<circle cx="446.69" cy="505.19" r="1.6" fill="none" stroke="#6e6e6e" stroke-width="0.85"/>
<circle cx="446.69" cy="507.33" r="1.6" fill="none" stroke="#6e6e6e" stroke-width="0.85"/>
<circle cx="446.69" cy="508.94" r="1.6" fill="none" stroke="#6e6e6e" stroke-width="0.85"/>
<circle cx="446.69" cy="510.56" r="1.6" fill="none" stroke="#6e6e6e" stroke-width="0.85"/>
<circle cx="446.69" cy="512.17" r="1.6" fill="none" stroke="#6e6e6e" stroke-width="0.85"/>
<circle cx="446.69" cy="513.78" r="1.6" fill="none" stroke="#6e6e6e" stroke-width="0.85"/>
<circle cx="446.69" cy="515.39" r="1.6" fill="none" stroke="#6e6e6e" stroke-width="0.85"/>
<circle cx="446.69" cy="517.00" r="1.6" fill="none" stroke="#6e6e6e" stroke-width="0.85"/>
<circle cx="446.69" cy="519.14" r="1.6" fill="none" stroke="#6e6e6e" stroke-width="0.85"/>
<circle cx="454.21" cy="496.60" r="1.6" fill="none" stroke="#6e6e6e" stroke-width="0.85"/>
<circle cx="454.21" cy="499.28" r="1.6" fill="none" stroke="#6e6e6e" stroke-width="0.85"/>
<circle cx="454.21" cy="500.89" r="1.6" fill="none" stroke="#6e6e6e" stroke-width="0.85"/>
<circle cx="454.21" cy="502.50" r="1.6" fill="none" stroke="#6e6e6e" stroke-width="0.85"/>
<circle cx="454.21" cy="504.11" r="1.6" fill="none" stroke="#6e6e6e" stroke-width="0.85"/>
<circle cx="454.21" cy="505.72" r="1.6" fill="none" stroke="#6e6e6e" stroke-width="0.85"/>
<circle cx="454.21" cy="507.33" r="1.6" fill="none" stroke="#6e6e6e" stroke-width="0.85"/>
<circle cx="461.72" cy="491.77" r="1.6" fill="none" stroke="#6e6e6e" stroke-width="0.85"/>
<circle cx="461.72" cy="493.38" r="1.6" fill="none" stroke="#6e6e6e" stroke-width="0.85"/>
<circle cx="461.72" cy="494.77" r="1.6" fill="none" stroke="#6e6e6e" stroke-width="0.85"/>
<circle cx="461.72" cy="496.06" r="1.6" fill="none" stroke="#6e6e6e" stroke-width="0.85"/>
<circle cx="461.72" cy="497.67" r="1.6" fill="none" stroke="#6e6e6e" stroke-width="0.85"/>
<circle cx="465.70" cy="491.02" r="1.5" fill="none" stroke="#666" stroke-width="0.85"/>
<circle cx="466.47" cy="489.99" r="1.5" fill="none" stroke="#666" stroke-width="0.85"/>
<circle cx="465.95" cy="489.72" r="1.5" fill="none" stroke="#666" stroke-width="0.85"/>
<circle cx="466.73" cy="490.20" r="1.5" fill="none" stroke="#666" stroke-width="0.85"/>
<circle cx="466.21" cy="489.18" r="1.5" fill="none" stroke="#666" stroke-width="0.85"/>
<circle cx="466.98" cy="488.90" r="1.5" fill="none" stroke="#666" stroke-width="0.85"/>
<circle cx="466.47" cy="489.38" r="1.5" fill="none" stroke="#666" stroke-width="0.85"/>
<circle cx="467.24" cy="488.36" r="1.5" fill="none" stroke="#666" stroke-width="0.85"/>
<circle cx="466.73" cy="488.09" r="1.5" fill="none" stroke="#666" stroke-width="0.85"/>
<circle cx="467.50" cy="488.57" r="1.5" fill="none" stroke="#666" stroke-width="0.85"/>
<circle cx="466.98" cy="487.54" r="1.5" fill="none" stroke="#666" stroke-width="0.85"/>
<circle cx="467.76" cy="487.27" r="1.5" fill="none" stroke="#666" stroke-width="0.85"/>
<circle cx="467.24" cy="487.75" r="1.5" fill="none" stroke="#666" stroke-width="0.85"/>
<circle cx="468.02" cy="486.73" r="1.5" fill="none" stroke="#666" stroke-width="0.85"/>
<circle cx="467.50" cy="486.46" r="1.5" fill="none" stroke="#666" stroke-width="0.85"/>
<circle cx="468.27" cy="486.94" r="1.5" fill="none" stroke="#666" stroke-width="0.85"/>
<line x1="432.74" y1="524.83" x2="475.36" y2="479.96" stroke="#555" stroke-width="1.25"/>
<line x1="423.80" y1="469.30" x2="423.80" y2="535.30" stroke="#333" stroke-width="1.1"/>
<line x1="423.30" y1="534.80" x2="484.81" y2="534.80" stroke="#333" stroke-width="1.1"/>
<line x1="423.80" y1="469.90" x2="426.80" y2="469.90" stroke="#333" stroke-width="0.9"/>
<line x1="423.80" y1="486.40" x2="426.80" y2="486.40" stroke="#333" stroke-width="0.9"/>
<line x1="423.80" y1="502.50" x2="426.80" y2="502.50" stroke="#333" stroke-width="0.9"/>
<line x1="423.80" y1="518.60" x2="426.80" y2="518.60" stroke="#333" stroke-width="0.9"/>
<text x="425.50" y="545.80" font-size="8.05" text-anchor="middle" fill="#222" stroke="#222" stroke-width="0.15" transform="rotate(45 425.50 543.20)">−0.5</text>
<line x1="438.86" y1="534.80" x2="438.86" y2="531.80" stroke="#333" stroke-width="0.9"/>
<text x="440.56" y="545.80" font-size="8.05" text-anchor="middle" fill="#222" stroke="#222" stroke-width="0.15" transform="rotate(45 440.56 543.20)">0.0</text>
<line x1="454.01" y1="534.80" x2="454.01" y2="531.80" stroke="#333" stroke-width="0.9"/>
<text x="455.71" y="545.80" font-size="8.05" text-anchor="middle" fill="#222" stroke="#222" stroke-width="0.15" transform="rotate(45 455.71 543.20)">0.5</text>
<line x1="469.16" y1="534.80" x2="469.16" y2="531.80" stroke="#333" stroke-width="0.9"/>
<text x="470.86" y="545.80" font-size="8.05" text-anchor="middle" fill="#222" stroke="#222" stroke-width="0.15" transform="rotate(45 470.86 543.20)">1.0</text>
<line x1="484.31" y1="534.80" x2="484.31" y2="531.80" stroke="#333" stroke-width="0.9"/>
<text x="486.01" y="545.80" font-size="8.05" text-anchor="middle" fill="#222" stroke="#222" stroke-width="0.15" transform="rotate(45 486.01 543.20)">1.5</text>
<text x="429.50" y="477.8" font-size="8.6" fill="#222">R<tspan font-size="5.2" dy="-2.9">2</tspan><tspan dy="2.9">=0.92</tspan></text>
<text x="457.60" y="560.80" font-size="8.9" text-anchor="middle" fill="#222" stroke="#222" stroke-width="0.15">Simulated R-G IF</text>
<text x="533.80" y="463.80" font-size="9.0" text-anchor="middle" fill="#222" stroke="#222" stroke-width="0.15" xml:space="preserve">n clusters= 175</text>
<circle cx="517.93" cy="508.19" r="1.6" fill="none" stroke="#6e6e6e" stroke-width="0.85"/>
<circle cx="517.93" cy="509.48" r="1.6" fill="none" stroke="#6e6e6e" stroke-width="0.85"/>
<circle cx="517.93" cy="510.56" r="1.6" fill="none" stroke="#6e6e6e" stroke-width="0.85"/>
<circle cx="517.93" cy="511.63" r="1.6" fill="none" stroke="#6e6e6e" stroke-width="0.85"/>
<circle cx="517.93" cy="512.92" r="1.6" fill="none" stroke="#6e6e6e" stroke-width="0.85"/>
<circle cx="517.93" cy="514.85" r="1.6" fill="none" stroke="#6e6e6e" stroke-width="0.85"/>
<circle cx="517.93" cy="518.82" r="1.6" fill="none" stroke="#6e6e6e" stroke-width="0.85"/>
<circle cx="525.44" cy="501.97" r="1.6" fill="none" stroke="#6e6e6e" stroke-width="0.85"/>
<circle cx="525.44" cy="505.19" r="1.6" fill="none" stroke="#6e6e6e" stroke-width="0.85"/>
<circle cx="525.44" cy="506.80" r="1.6" fill="none" stroke="#6e6e6e" stroke-width="0.85"/>
<circle cx="525.44" cy="508.41" r="1.6" fill="none" stroke="#6e6e6e" stroke-width="0.85"/>
<circle cx="525.44" cy="510.02" r="1.6" fill="none" stroke="#6e6e6e" stroke-width="0.85"/>
<circle cx="525.44" cy="511.63" r="1.6" fill="none" stroke="#6e6e6e" stroke-width="0.85"/>
<circle cx="525.44" cy="513.24" r="1.6" fill="none" stroke="#6e6e6e" stroke-width="0.85"/>
<circle cx="525.44" cy="514.85" r="1.6" fill="none" stroke="#6e6e6e" stroke-width="0.85"/>
<circle cx="525.44" cy="516.46" r="1.6" fill="none" stroke="#6e6e6e" stroke-width="0.85"/>
<circle cx="525.44" cy="518.82" r="1.6" fill="none" stroke="#6e6e6e" stroke-width="0.85"/>
<circle cx="532.96" cy="496.06" r="1.6" fill="none" stroke="#6e6e6e" stroke-width="0.85"/>
<circle cx="532.96" cy="499.28" r="1.6" fill="none" stroke="#6e6e6e" stroke-width="0.85"/>
<circle cx="532.96" cy="500.89" r="1.6" fill="none" stroke="#6e6e6e" stroke-width="0.85"/>
<circle cx="532.96" cy="502.50" r="1.6" fill="none" stroke="#6e6e6e" stroke-width="0.85"/>
<circle cx="532.96" cy="504.11" r="1.6" fill="none" stroke="#6e6e6e" stroke-width="0.85"/>
<circle cx="532.96" cy="505.72" r="1.6" fill="none" stroke="#6e6e6e" stroke-width="0.85"/>
<circle cx="532.96" cy="507.33" r="1.6" fill="none" stroke="#6e6e6e" stroke-width="0.85"/>
<circle cx="540.48" cy="492.30" r="1.6" fill="none" stroke="#6e6e6e" stroke-width="0.85"/>
<circle cx="540.48" cy="493.70" r="1.6" fill="none" stroke="#6e6e6e" stroke-width="0.85"/>
<circle cx="540.48" cy="494.99" r="1.6" fill="none" stroke="#6e6e6e" stroke-width="0.85"/>
<circle cx="540.48" cy="496.28" r="1.6" fill="none" stroke="#6e6e6e" stroke-width="0.85"/>
<circle cx="540.48" cy="497.67" r="1.6" fill="none" stroke="#6e6e6e" stroke-width="0.85"/>
<circle cx="540.48" cy="499.28" r="1.6" fill="none" stroke="#6e6e6e" stroke-width="0.85"/>
<circle cx="544.45" cy="491.55" r="1.5" fill="none" stroke="#666" stroke-width="0.85"/>
<circle cx="545.22" cy="490.53" r="1.5" fill="none" stroke="#666" stroke-width="0.85"/>
<circle cx="544.71" cy="490.26" r="1.5" fill="none" stroke="#666" stroke-width="0.85"/>
<circle cx="545.48" cy="490.74" r="1.5" fill="none" stroke="#666" stroke-width="0.85"/>
<circle cx="544.96" cy="489.71" r="1.5" fill="none" stroke="#666" stroke-width="0.85"/>
<circle cx="545.74" cy="489.44" r="1.5" fill="none" stroke="#666" stroke-width="0.85"/>
<circle cx="545.22" cy="489.92" r="1.5" fill="none" stroke="#666" stroke-width="0.85"/>
<circle cx="545.99" cy="488.90" r="1.5" fill="none" stroke="#666" stroke-width="0.85"/>
<circle cx="545.48" cy="488.62" r="1.5" fill="none" stroke="#666" stroke-width="0.85"/>
<circle cx="546.25" cy="489.10" r="1.5" fill="none" stroke="#666" stroke-width="0.85"/>
<circle cx="545.74" cy="488.08" r="1.5" fill="none" stroke="#666" stroke-width="0.85"/>
<circle cx="546.51" cy="487.81" r="1.5" fill="none" stroke="#666" stroke-width="0.85"/>
<circle cx="545.99" cy="488.29" r="1.5" fill="none" stroke="#666" stroke-width="0.85"/>
<circle cx="546.77" cy="487.26" r="1.5" fill="none" stroke="#666" stroke-width="0.85"/>
<circle cx="546.25" cy="486.99" r="1.5" fill="none" stroke="#666" stroke-width="0.85"/>
<circle cx="547.02" cy="487.47" r="1.5" fill="none" stroke="#666" stroke-width="0.85"/>
<line x1="511.49" y1="522.37" x2="554.75" y2="481.03" stroke="#555" stroke-width="1.25"/>
<line x1="502.40" y1="469.30" x2="502.40" y2="535.30" stroke="#333" stroke-width="1.1"/>
<line x1="501.90" y1="534.80" x2="563.88" y2="534.80" stroke="#333" stroke-width="1.1"/>
<line x1="502.40" y1="469.90" x2="505.40" y2="469.90" stroke="#333" stroke-width="0.9"/>
<line x1="502.40" y1="486.40" x2="505.40" y2="486.40" stroke="#333" stroke-width="0.9"/>
<line x1="502.40" y1="502.50" x2="505.40" y2="502.50" stroke="#333" stroke-width="0.9"/>
<line x1="502.40" y1="518.60" x2="505.40" y2="518.60" stroke="#333" stroke-width="0.9"/>
<text x="504.10" y="545.80" font-size="8.05" text-anchor="middle" fill="#222" stroke="#222" stroke-width="0.15" transform="rotate(45 504.10 543.20)">−0.5</text>
<line x1="517.93" y1="534.80" x2="517.93" y2="531.80" stroke="#333" stroke-width="0.9"/>
<text x="519.63" y="545.80" font-size="8.05" text-anchor="middle" fill="#222" stroke="#222" stroke-width="0.15" transform="rotate(45 519.63 543.20)">0.0</text>
<line x1="533.08" y1="534.80" x2="533.08" y2="531.80" stroke="#333" stroke-width="0.9"/>
<text x="534.78" y="545.80" font-size="8.05" text-anchor="middle" fill="#222" stroke="#222" stroke-width="0.15" transform="rotate(45 534.78 543.20)">0.5</text>
<line x1="548.23" y1="534.80" x2="548.23" y2="531.80" stroke="#333" stroke-width="0.9"/>
<text x="549.93" y="545.80" font-size="8.05" text-anchor="middle" fill="#222" stroke="#222" stroke-width="0.15" transform="rotate(45 549.93 543.20)">1.0</text>
<line x1="563.38" y1="534.80" x2="563.38" y2="531.80" stroke="#333" stroke-width="0.9"/>
<text x="565.08" y="545.80" font-size="8.05" text-anchor="middle" fill="#222" stroke="#222" stroke-width="0.15" transform="rotate(45 565.08 543.20)">1.5</text>
<text x="508.80" y="477.8" font-size="8.6" fill="#222">R<tspan font-size="5.2" dy="-2.9">2</tspan><tspan dy="2.9">=0.9</tspan></text>
<text x="536.20" y="560.80" font-size="8.9" text-anchor="middle" fill="#222" stroke="#222" stroke-width="0.15">Simulated R-G IF</text>
<text x="612.10" y="463.80" font-size="9.0" text-anchor="middle" fill="#222" stroke="#222" stroke-width="0.15" xml:space="preserve">n clusters = 200</text>
<circle cx="596.71" cy="510.34" r="1.6" fill="none" stroke="#6e6e6e" stroke-width="0.85"/>
<circle cx="596.71" cy="512.17" r="1.6" fill="none" stroke="#6e6e6e" stroke-width="0.85"/>
<circle cx="596.71" cy="515.39" r="1.6" fill="none" stroke="#6e6e6e" stroke-width="0.85"/>
<circle cx="596.71" cy="516.46" r="1.6" fill="none" stroke="#6e6e6e" stroke-width="0.85"/>
<circle cx="596.71" cy="517.53" r="1.6" fill="none" stroke="#6e6e6e" stroke-width="0.85"/>
<circle cx="596.71" cy="518.61" r="1.6" fill="none" stroke="#6e6e6e" stroke-width="0.85"/>
<circle cx="596.71" cy="519.14" r="1.6" fill="none" stroke="#6e6e6e" stroke-width="0.85"/>
<circle cx="604.44" cy="507.33" r="1.6" fill="none" stroke="#6e6e6e" stroke-width="0.85"/>
<circle cx="604.44" cy="508.94" r="1.6" fill="none" stroke="#6e6e6e" stroke-width="0.85"/>
<circle cx="604.44" cy="510.56" r="1.6" fill="none" stroke="#6e6e6e" stroke-width="0.85"/>
<circle cx="604.44" cy="512.17" r="1.6" fill="none" stroke="#6e6e6e" stroke-width="0.85"/>
<circle cx="604.44" cy="513.78" r="1.6" fill="none" stroke="#6e6e6e" stroke-width="0.85"/>
<circle cx="604.44" cy="515.39" r="1.6" fill="none" stroke="#6e6e6e" stroke-width="0.85"/>
<circle cx="604.44" cy="517.00" r="1.6" fill="none" stroke="#6e6e6e" stroke-width="0.85"/>
<circle cx="604.44" cy="518.61" r="1.6" fill="none" stroke="#6e6e6e" stroke-width="0.85"/>
<circle cx="604.44" cy="519.14" r="1.6" fill="none" stroke="#6e6e6e" stroke-width="0.85"/>
<circle cx="611.96" cy="497.99" r="1.6" fill="none" stroke="#6e6e6e" stroke-width="0.85"/>
<circle cx="611.96" cy="499.50" r="1.6" fill="none" stroke="#6e6e6e" stroke-width="0.85"/>
<circle cx="611.96" cy="501.00" r="1.6" fill="none" stroke="#6e6e6e" stroke-width="0.85"/>
<circle cx="611.96" cy="502.50" r="1.6" fill="none" stroke="#6e6e6e" stroke-width="0.85"/>
<circle cx="611.96" cy="504.11" r="1.6" fill="none" stroke="#6e6e6e" stroke-width="0.85"/>
<circle cx="611.96" cy="505.72" r="1.6" fill="none" stroke="#6e6e6e" stroke-width="0.85"/>
<circle cx="611.96" cy="507.33" r="1.6" fill="none" stroke="#6e6e6e" stroke-width="0.85"/>
<circle cx="619.48" cy="491.77" r="1.6" fill="none" stroke="#6e6e6e" stroke-width="0.85"/>
<circle cx="619.48" cy="493.38" r="1.6" fill="none" stroke="#6e6e6e" stroke-width="0.85"/>
<circle cx="619.48" cy="494.77" r="1.6" fill="none" stroke="#6e6e6e" stroke-width="0.85"/>
<circle cx="619.48" cy="496.06" r="1.6" fill="none" stroke="#6e6e6e" stroke-width="0.85"/>
<circle cx="619.48" cy="497.67" r="1.6" fill="none" stroke="#6e6e6e" stroke-width="0.85"/>
<circle cx="623.45" cy="491.02" r="1.5" fill="none" stroke="#666" stroke-width="0.85"/>
<circle cx="624.22" cy="489.99" r="1.5" fill="none" stroke="#666" stroke-width="0.85"/>
<circle cx="623.71" cy="489.72" r="1.5" fill="none" stroke="#666" stroke-width="0.85"/>
<circle cx="624.48" cy="490.20" r="1.5" fill="none" stroke="#666" stroke-width="0.85"/>
<circle cx="623.96" cy="489.18" r="1.5" fill="none" stroke="#666" stroke-width="0.85"/>
<circle cx="624.74" cy="488.90" r="1.5" fill="none" stroke="#666" stroke-width="0.85"/>
<circle cx="624.22" cy="489.38" r="1.5" fill="none" stroke="#666" stroke-width="0.85"/>
<circle cx="624.99" cy="488.36" r="1.5" fill="none" stroke="#666" stroke-width="0.85"/>
<circle cx="624.48" cy="488.09" r="1.5" fill="none" stroke="#666" stroke-width="0.85"/>
<circle cx="625.25" cy="488.57" r="1.5" fill="none" stroke="#666" stroke-width="0.85"/>
<circle cx="624.74" cy="487.54" r="1.5" fill="none" stroke="#666" stroke-width="0.85"/>
<circle cx="625.51" cy="487.27" r="1.5" fill="none" stroke="#666" stroke-width="0.85"/>
<circle cx="624.99" cy="487.75" r="1.5" fill="none" stroke="#666" stroke-width="0.85"/>
<circle cx="625.77" cy="486.73" r="1.5" fill="none" stroke="#666" stroke-width="0.85"/>
<circle cx="625.25" cy="486.46" r="1.5" fill="none" stroke="#666" stroke-width="0.85"/>
<circle cx="626.02" cy="486.94" r="1.5" fill="none" stroke="#666" stroke-width="0.85"/>
<line x1="590.27" y1="525.59" x2="633.75" y2="479.42" stroke="#555" stroke-width="1.25"/>
<line x1="581.40" y1="469.30" x2="581.40" y2="535.30" stroke="#333" stroke-width="1.1"/>
<line x1="580.90" y1="534.80" x2="642.66" y2="534.80" stroke="#333" stroke-width="1.1"/>
<line x1="581.40" y1="469.90" x2="584.40" y2="469.90" stroke="#333" stroke-width="0.9"/>
<line x1="581.40" y1="486.40" x2="584.40" y2="486.40" stroke="#333" stroke-width="0.9"/>
<line x1="581.40" y1="502.50" x2="584.40" y2="502.50" stroke="#333" stroke-width="0.9"/>
<line x1="581.40" y1="518.60" x2="584.40" y2="518.60" stroke="#333" stroke-width="0.9"/>
<text x="583.10" y="545.80" font-size="8.05" text-anchor="middle" fill="#222" stroke="#222" stroke-width="0.15" transform="rotate(45 583.10 543.20)">−0.5</text>
<line x1="596.71" y1="534.80" x2="596.71" y2="531.80" stroke="#333" stroke-width="0.9"/>
<text x="598.41" y="545.80" font-size="8.05" text-anchor="middle" fill="#222" stroke="#222" stroke-width="0.15" transform="rotate(45 598.41 543.20)">0.0</text>
<line x1="611.86" y1="534.80" x2="611.86" y2="531.80" stroke="#333" stroke-width="0.9"/>
<text x="613.56" y="545.80" font-size="8.05" text-anchor="middle" fill="#222" stroke="#222" stroke-width="0.15" transform="rotate(45 613.56 543.20)">0.5</text>
<line x1="627.01" y1="534.80" x2="627.01" y2="531.80" stroke="#333" stroke-width="0.9"/>
<text x="628.71" y="545.80" font-size="8.05" text-anchor="middle" fill="#222" stroke="#222" stroke-width="0.15" transform="rotate(45 628.71 543.20)">1.0</text>
<line x1="642.16" y1="534.80" x2="642.16" y2="531.80" stroke="#333" stroke-width="0.9"/>
<text x="643.86" y="545.80" font-size="8.05" text-anchor="middle" fill="#222" stroke="#222" stroke-width="0.15" transform="rotate(45 643.86 543.20)">1.5</text>
<text x="590.60" y="477.8" font-size="8.6" fill="#222">R<tspan font-size="5.2" dy="-2.9">2</tspan><tspan dy="2.9">=0.95</tspan></text>
<text x="615.20" y="560.80" font-size="8.9" text-anchor="middle" fill="#222" stroke="#222" stroke-width="0.15">Simulated R-G IF</text>
<text x="8.10" y="498.40" font-size="8.9" text-anchor="middle" fill="#111" stroke="#111" stroke-width="0.15" transform="rotate(-90 8.10 498.40)">R-G IF</text>
<text x="2.20" y="579.10" font-size="11.2" font-weight="bold" fill="#000" stroke="#000" stroke-width="0.15">d</text>
<rect x="61.80" y="587.00" width="23.17" height="23.15" fill="#f9f1ec"/>
<rect x="84.92" y="587.00" width="23.17" height="23.15" fill="#c9889f"/>
<rect x="108.04" y="587.00" width="23.17" height="23.15" fill="#a3628c"/>
<rect x="131.16" y="587.00" width="23.17" height="23.15" fill="#a3628c"/>
<rect x="154.28" y="587.00" width="23.17" height="23.15" fill="#8e5383"/>
<rect x="177.40" y="587.00" width="23.17" height="23.15" fill="#693d6f"/>
<rect x="200.52" y="587.00" width="23.17" height="23.15" fill="#613969"/>
<rect x="223.64" y="587.00" width="23.17" height="23.15" fill="#714173"/>
<rect x="61.80" y="610.10" width="23.17" height="23.15" fill="#9d5d89"/>
<rect x="84.92" y="610.10" width="23.17" height="23.15" fill="#814a7c"/>
<rect x="108.04" y="610.10" width="23.17" height="23.15" fill="#693d6f"/>
<rect x="131.16" y="610.10" width="23.17" height="23.15" fill="#8e5383"/>
<rect x="154.28" y="610.10" width="23.17" height="23.15" fill="#613969"/>
<rect x="177.40" y="610.10" width="23.17" height="23.15" fill="#422952"/>
<rect x="200.52" y="610.10" width="23.17" height="23.15" fill="#52315f"/>
<rect x="223.64" y="610.10" width="23.17" height="23.15" fill="#2d1e3e"/>
<rect x="61.80" y="633.20" width="23.17" height="23.15" fill="#9d5d89"/>
<rect x="84.92" y="633.20" width="23.17" height="23.15" fill="#884f7f"/>
<rect x="108.04" y="633.20" width="23.17" height="23.15" fill="#613969"/>
<rect x="131.16" y="633.20" width="23.17" height="23.15" fill="#52315f"/>
<rect x="154.28" y="633.20" width="23.17" height="23.15" fill="#3b264b"/>
<rect x="177.40" y="633.20" width="23.17" height="23.15" fill="#422952"/>
<rect x="200.52" y="633.20" width="23.17" height="23.15" fill="#4b2e59"/>
<rect x="223.64" y="633.20" width="23.17" height="23.15" fill="#422952"/>
<line x1="84.92" y1="587.00" x2="84.92" y2="656.30" stroke="#eadfe8" stroke-width="0.45"/>
<line x1="108.04" y1="587.00" x2="108.04" y2="656.30" stroke="#eadfe8" stroke-width="0.45"/>
<line x1="131.16" y1="587.00" x2="131.16" y2="656.30" stroke="#eadfe8" stroke-width="0.45"/>
<line x1="154.28" y1="587.00" x2="154.28" y2="656.30" stroke="#eadfe8" stroke-width="0.45"/>
<line x1="177.40" y1="587.00" x2="177.40" y2="656.30" stroke="#eadfe8" stroke-width="0.45"/>
<line x1="200.52" y1="587.00" x2="200.52" y2="656.30" stroke="#eadfe8" stroke-width="0.45"/>
<line x1="223.64" y1="587.00" x2="223.64" y2="656.30" stroke="#eadfe8" stroke-width="0.45"/>
<line x1="61.80" y1="610.10" x2="246.76" y2="610.10" stroke="#eadfe8" stroke-width="0.45"/>
<line x1="61.80" y1="633.20" x2="246.76" y2="633.20" stroke="#eadfe8" stroke-width="0.45"/>
<text x="73.06" y="600.75" font-size="8.7" text-anchor="middle" fill="#222" stroke="#222" stroke-width="0.15">0.56</text>
<text x="96.18" y="600.75" font-size="8.7" text-anchor="middle" fill="#f2ecf2" stroke="#f2ecf2" stroke-width="0.15">0.72</text>
<text x="119.30" y="600.75" font-size="8.7" text-anchor="middle" fill="#f2ecf2" stroke="#f2ecf2" stroke-width="0.15">0.79</text>
<text x="142.42" y="600.75" font-size="8.7" text-anchor="middle" fill="#f2ecf2" stroke="#f2ecf2" stroke-width="0.15">0.79</text>
<text x="165.54" y="600.75" font-size="8.7" text-anchor="middle" fill="#f2ecf2" stroke="#f2ecf2" stroke-width="0.15">0.82</text>
<text x="188.66" y="600.75" font-size="8.7" text-anchor="middle" fill="#f2ecf2" stroke="#f2ecf2" stroke-width="0.15">0.87</text>
<text x="211.78" y="600.75" font-size="8.7" text-anchor="middle" fill="#f2ecf2" stroke="#f2ecf2" stroke-width="0.15">0.88</text>
<text x="234.90" y="600.75" font-size="8.7" text-anchor="middle" fill="#f2ecf2" stroke="#f2ecf2" stroke-width="0.15">0.86</text>
<text x="73.06" y="623.85" font-size="8.7" text-anchor="middle" fill="#f2ecf2" stroke="#f2ecf2" stroke-width="0.15">0.8</text>
<text x="96.18" y="623.85" font-size="8.7" text-anchor="middle" fill="#f2ecf2" stroke="#f2ecf2" stroke-width="0.15">0.84</text>
<text x="119.30" y="623.85" font-size="8.7" text-anchor="middle" fill="#f2ecf2" stroke="#f2ecf2" stroke-width="0.15">0.87</text>
<text x="142.42" y="623.85" font-size="8.7" text-anchor="middle" fill="#f2ecf2" stroke="#f2ecf2" stroke-width="0.15">0.82</text>
<text x="165.54" y="623.85" font-size="8.7" text-anchor="middle" fill="#f2ecf2" stroke="#f2ecf2" stroke-width="0.15">0.88</text>
<text x="188.66" y="623.85" font-size="8.7" text-anchor="middle" fill="#f2ecf2" stroke="#f2ecf2" stroke-width="0.15">0.92</text>
<text x="211.78" y="623.85" font-size="8.7" text-anchor="middle" fill="#f2ecf2" stroke="#f2ecf2" stroke-width="0.15">0.9</text>
<text x="234.90" y="623.85" font-size="8.7" text-anchor="middle" fill="#f2ecf2" stroke="#f2ecf2" stroke-width="0.15">0.95</text>
<text x="73.06" y="646.95" font-size="8.7" text-anchor="middle" fill="#f2ecf2" stroke="#f2ecf2" stroke-width="0.15">0.8</text>
<text x="96.18" y="646.95" font-size="8.7" text-anchor="middle" fill="#f2ecf2" stroke="#f2ecf2" stroke-width="0.15">0.83</text>
<text x="119.30" y="646.95" font-size="8.7" text-anchor="middle" fill="#f2ecf2" stroke="#f2ecf2" stroke-width="0.15">0.88</text>
<text x="142.42" y="646.95" font-size="8.7" text-anchor="middle" fill="#f2ecf2" stroke="#f2ecf2" stroke-width="0.15">0.9</text>
<text x="165.54" y="646.95" font-size="8.7" text-anchor="middle" fill="#f2ecf2" stroke="#f2ecf2" stroke-width="0.15">0.93</text>
<text x="188.66" y="646.95" font-size="8.7" text-anchor="middle" fill="#f2ecf2" stroke="#f2ecf2" stroke-width="0.15">0.92</text>
<text x="211.78" y="646.95" font-size="8.7" text-anchor="middle" fill="#f2ecf2" stroke="#f2ecf2" stroke-width="0.15">0.91</text>
<text x="234.90" y="646.95" font-size="8.7" text-anchor="middle" fill="#f2ecf2" stroke="#f2ecf2" stroke-width="0.15">0.92</text>
<text x="74.66" y="666.30" font-size="8.7" text-anchor="middle" fill="#222" stroke="#222" stroke-width="0.15">25</text>
<text x="97.78" y="666.30" font-size="8.7" text-anchor="middle" fill="#222" stroke="#222" stroke-width="0.15">50</text>
<text x="120.90" y="666.30" font-size="8.7" text-anchor="middle" fill="#222" stroke="#222" stroke-width="0.15">75</text>
<text x="144.02" y="666.30" font-size="8.7" text-anchor="middle" fill="#222" stroke="#222" stroke-width="0.15">100</text>
<text x="167.14" y="666.30" font-size="8.7" text-anchor="middle" fill="#222" stroke="#222" stroke-width="0.15">125</text>
<text x="190.26" y="666.30" font-size="8.7" text-anchor="middle" fill="#222" stroke="#222" stroke-width="0.15">150</text>
<text x="213.38" y="666.30" font-size="8.7" text-anchor="middle" fill="#222" stroke="#222" stroke-width="0.15">175</text>
<text x="236.50" y="666.30" font-size="8.7" text-anchor="middle" fill="#222" stroke="#222" stroke-width="0.15">200</text>
<text x="55.80" y="601.30" font-size="8.7" text-anchor="end" fill="#222" stroke="#222" stroke-width="0.15">50</text>
<text x="55.80" y="624.20" font-size="8.7" text-anchor="end" fill="#222" stroke="#222" stroke-width="0.15">100</text>
<text x="55.80" y="647.90" font-size="8.7" text-anchor="end" fill="#222" stroke="#222" stroke-width="0.15">150</text>
<text x="159.10" y="683.00" font-size="8.95" text-anchor="middle" fill="#222" stroke="#222" stroke-width="0.15">Red Cluster Number</text>
<text x="29.10" y="621.70" font-size="8.95" text-anchor="middle" fill="#222" stroke="#222" stroke-width="0.15" transform="rotate(-90 29.10 621.70)">Red Cluster</text>
<text x="39.10" y="621.70" font-size="8.95" text-anchor="middle" fill="#222" stroke="#222" stroke-width="0.15" transform="rotate(-90 39.10 621.70)">Size</text>
<text x="85.70" y="577.6" font-size="8.7" fill="#111" stroke="#111" stroke-width="0.2">R<tspan font-size="5.4" dy="-3">2</tspan><tspan dy="3"> for Simulated R-G IF vs R-G IF</tspan></text>
<defs><linearGradient id="cb61" x1="0" y1="0" x2="0" y2="1"><stop offset="0.00" stop-color="#2d1e3e"/><stop offset="0.05" stop-color="#3b264b"/><stop offset="0.10" stop-color="#492d58"/><stop offset="0.15" stop-color="#583463"/><stop offset="0.20" stop-color="#683d6e"/><stop offset="0.25" stop-color="#754475"/><stop offset="0.30" stop-color="#854d7e"/><stop offset="0.35" stop-color="#925684"/><stop offset="0.40" stop-color="#a1608b"/><stop offset="0.45" stop-color="#ac6a90"/><stop offset="0.50" stop-color="#b77495"/><stop offset="0.55" stop-color="#c27f9a"/><stop offset="0.60" stop-color="#cb8ca0"/><stop offset="0.65" stop-color="#d397a6"/><stop offset="0.70" stop-color="#dba5ad"/><stop offset="0.75" stop-color="#e0b0b3"/><stop offset="0.80" stop-color="#e6bebc"/><stop offset="0.85" stop-color="#ebcbc6"/><stop offset="0.90" stop-color="#f0d9d2"/><stop offset="0.95" stop-color="#f5e5de"/><stop offset="1.00" stop-color="#f9f1ec"/></linearGradient></defs>
<rect x="253.50" y="587.00" width="7.50" height="69.30" fill="url(#cb61)"/>
<line x1="261.00" y1="598.75" x2="262.60" y2="598.75" stroke="#444" stroke-width="0.6"/>
<text x="266.80" y="601.25" font-size="8.7" fill="#222" stroke="#222" stroke-width="0.15">0.88</text>
<line x1="261.00" y1="613.00" x2="262.60" y2="613.00" stroke="#444" stroke-width="0.6"/>
<text x="266.80" y="615.50" font-size="8.7" fill="#222" stroke="#222" stroke-width="0.15">0.80</text>
<line x1="261.00" y1="627.10" x2="262.60" y2="627.10" stroke="#444" stroke-width="0.6"/>
<text x="266.80" y="629.60" font-size="8.7" fill="#222" stroke="#222" stroke-width="0.15">0.72</text>
<line x1="261.00" y1="641.30" x2="262.60" y2="641.30" stroke="#444" stroke-width="0.6"/>
<text x="266.80" y="643.80" font-size="8.7" fill="#222" stroke="#222" stroke-width="0.15">0.64</text>
<line x1="261.00" y1="655.50" x2="262.60" y2="655.50" stroke="#444" stroke-width="0.6"/>
<text x="266.80" y="658.00" font-size="8.7" fill="#222" stroke="#222" stroke-width="0.15">0.56</text>
<rect x="386.00" y="587.00" width="23.17" height="23.15" fill="#f9f1ec"/>
<rect x="409.12" y="587.00" width="23.17" height="23.15" fill="#8e5383"/>
<rect x="432.24" y="587.00" width="23.17" height="23.15" fill="#533260"/>
<rect x="455.36" y="587.00" width="23.17" height="23.15" fill="#7c4879"/>
<rect x="478.48" y="587.00" width="23.17" height="23.15" fill="#683d6e"/>
<rect x="501.60" y="587.00" width="23.17" height="23.15" fill="#533260"/>
<rect x="524.72" y="587.00" width="23.17" height="23.15" fill="#2d1e3e"/>
<rect x="547.84" y="587.00" width="23.17" height="23.15" fill="#683d6e"/>
<rect x="386.00" y="610.10" width="23.17" height="23.15" fill="#683d6e"/>
<rect x="409.12" y="610.10" width="23.17" height="23.15" fill="#402850"/>
<rect x="432.24" y="610.10" width="23.17" height="23.15" fill="#2d1e3e"/>
<rect x="455.36" y="610.10" width="23.17" height="23.15" fill="#683d6e"/>
<rect x="478.48" y="610.10" width="23.17" height="23.15" fill="#402850"/>
<rect x="501.60" y="610.10" width="23.17" height="23.15" fill="#402850"/>
<rect x="524.72" y="610.10" width="23.17" height="23.15" fill="#402850"/>
<rect x="547.84" y="610.10" width="23.17" height="23.15" fill="#2d1e3e"/>
<rect x="386.00" y="633.20" width="23.17" height="23.15" fill="#683d6e"/>
<rect x="409.12" y="633.20" width="23.17" height="23.15" fill="#533260"/>
<rect x="432.24" y="633.20" width="23.17" height="23.15" fill="#402850"/>
<rect x="455.36" y="633.20" width="23.17" height="23.15" fill="#402850"/>
<rect x="478.48" y="633.20" width="23.17" height="23.15" fill="#2d1e3e"/>
<rect x="501.60" y="633.20" width="23.17" height="23.15" fill="#2d1e3e"/>
<rect x="524.72" y="633.20" width="23.17" height="23.15" fill="#2d1e3e"/>
<rect x="547.84" y="633.20" width="23.17" height="23.15" fill="#2d1e3e"/>
<line x1="409.12" y1="587.00" x2="409.12" y2="656.30" stroke="#eadfe8" stroke-width="0.45"/>
<line x1="432.24" y1="587.00" x2="432.24" y2="656.30" stroke="#eadfe8" stroke-width="0.45"/>
<line x1="455.36" y1="587.00" x2="455.36" y2="656.30" stroke="#eadfe8" stroke-width="0.45"/>
<line x1="478.48" y1="587.00" x2="478.48" y2="656.30" stroke="#eadfe8" stroke-width="0.45"/>
<line x1="501.60" y1="587.00" x2="501.60" y2="656.30" stroke="#eadfe8" stroke-width="0.45"/>
<line x1="524.72" y1="587.00" x2="524.72" y2="656.30" stroke="#eadfe8" stroke-width="0.45"/>
<line x1="547.84" y1="587.00" x2="547.84" y2="656.30" stroke="#eadfe8" stroke-width="0.45"/>
<line x1="386.00" y1="610.10" x2="570.96" y2="610.10" stroke="#eadfe8" stroke-width="0.45"/>
<line x1="386.00" y1="633.20" x2="570.96" y2="633.20" stroke="#eadfe8" stroke-width="0.45"/>
<text x="397.26" y="600.75" font-size="8.7" text-anchor="middle" fill="#222" stroke="#222" stroke-width="0.15">0.84</text>
<text x="420.38" y="600.75" font-size="8.7" text-anchor="middle" fill="#f2ecf2" stroke="#f2ecf2" stroke-width="0.15">0.94</text>
<text x="443.50" y="600.75" font-size="8.7" text-anchor="middle" fill="#f2ecf2" stroke="#f2ecf2" stroke-width="0.15">0.97</text>
<text x="466.62" y="600.75" font-size="8.7" text-anchor="middle" fill="#f2ecf2" stroke="#f2ecf2" stroke-width="0.15">0.95</text>
<text x="489.74" y="600.75" font-size="8.7" text-anchor="middle" fill="#f2ecf2" stroke="#f2ecf2" stroke-width="0.15">0.96</text>
<text x="512.86" y="600.75" font-size="8.7" text-anchor="middle" fill="#f2ecf2" stroke="#f2ecf2" stroke-width="0.15">0.97</text>
<text x="535.98" y="600.75" font-size="8.7" text-anchor="middle" fill="#f2ecf2" stroke="#f2ecf2" stroke-width="0.15">0.99</text>
<text x="559.10" y="600.75" font-size="8.7" text-anchor="middle" fill="#f2ecf2" stroke="#f2ecf2" stroke-width="0.15">0.96</text>
<text x="397.26" y="623.85" font-size="8.7" text-anchor="middle" fill="#f2ecf2" stroke="#f2ecf2" stroke-width="0.15">0.96</text>
<text x="420.38" y="623.85" font-size="8.7" text-anchor="middle" fill="#f2ecf2" stroke="#f2ecf2" stroke-width="0.15">0.98</text>
<text x="443.50" y="623.85" font-size="8.7" text-anchor="middle" fill="#f2ecf2" stroke="#f2ecf2" stroke-width="0.15">0.99</text>
<text x="466.62" y="623.85" font-size="8.7" text-anchor="middle" fill="#f2ecf2" stroke="#f2ecf2" stroke-width="0.15">0.96</text>
<text x="489.74" y="623.85" font-size="8.7" text-anchor="middle" fill="#f2ecf2" stroke="#f2ecf2" stroke-width="0.15">0.98</text>
<text x="512.86" y="623.85" font-size="8.7" text-anchor="middle" fill="#f2ecf2" stroke="#f2ecf2" stroke-width="0.15">0.98</text>
<text x="535.98" y="623.85" font-size="8.7" text-anchor="middle" fill="#f2ecf2" stroke="#f2ecf2" stroke-width="0.15">0.98</text>
<text x="559.10" y="623.85" font-size="8.7" text-anchor="middle" fill="#f2ecf2" stroke="#f2ecf2" stroke-width="0.15">0.99</text>
<text x="397.26" y="646.95" font-size="8.7" text-anchor="middle" fill="#f2ecf2" stroke="#f2ecf2" stroke-width="0.15">0.96</text>
<text x="420.38" y="646.95" font-size="8.7" text-anchor="middle" fill="#f2ecf2" stroke="#f2ecf2" stroke-width="0.15">0.97</text>
<text x="443.50" y="646.95" font-size="8.7" text-anchor="middle" fill="#f2ecf2" stroke="#f2ecf2" stroke-width="0.15">0.98</text>
<text x="466.62" y="646.95" font-size="8.7" text-anchor="middle" fill="#f2ecf2" stroke="#f2ecf2" stroke-width="0.15">0.98</text>
<text x="489.74" y="646.95" font-size="8.7" text-anchor="middle" fill="#f2ecf2" stroke="#f2ecf2" stroke-width="0.15">0.99</text>
<text x="512.86" y="646.95" font-size="8.7" text-anchor="middle" fill="#f2ecf2" stroke="#f2ecf2" stroke-width="0.15">0.99</text>
<text x="535.98" y="646.95" font-size="8.7" text-anchor="middle" fill="#f2ecf2" stroke="#f2ecf2" stroke-width="0.15">0.99</text>
<text x="559.10" y="646.95" font-size="8.7" text-anchor="middle" fill="#f2ecf2" stroke="#f2ecf2" stroke-width="0.15">0.99</text>
<text x="398.86" y="666.30" font-size="8.7" text-anchor="middle" fill="#222" stroke="#222" stroke-width="0.15">25</text>
<text x="421.98" y="666.30" font-size="8.7" text-anchor="middle" fill="#222" stroke="#222" stroke-width="0.15">50</text>
<text x="445.10" y="666.30" font-size="8.7" text-anchor="middle" fill="#222" stroke="#222" stroke-width="0.15">75</text>
<text x="468.22" y="666.30" font-size="8.7" text-anchor="middle" fill="#222" stroke="#222" stroke-width="0.15">100</text>
<text x="491.34" y="666.30" font-size="8.7" text-anchor="middle" fill="#222" stroke="#222" stroke-width="0.15">125</text>
<text x="514.46" y="666.30" font-size="8.7" text-anchor="middle" fill="#222" stroke="#222" stroke-width="0.15">150</text>
<text x="537.58" y="666.30" font-size="8.7" text-anchor="middle" fill="#222" stroke="#222" stroke-width="0.15">175</text>
<text x="560.70" y="666.30" font-size="8.7" text-anchor="middle" fill="#222" stroke="#222" stroke-width="0.15">200</text>
<text x="380.70" y="600.80" font-size="8.7" text-anchor="end" fill="#222" stroke="#222" stroke-width="0.15">50</text>
<text x="380.70" y="625.10" font-size="8.7" text-anchor="end" fill="#222" stroke="#222" stroke-width="0.15">100</text>
<text x="380.70" y="651.10" font-size="8.7" text-anchor="end" fill="#222" stroke="#222" stroke-width="0.15">150</text>
<text x="494.40" y="683.00" font-size="8.95" text-anchor="middle" fill="#222" stroke="#222" stroke-width="0.15">Red Cluster Number</text>
<text x="353.10" y="624.90" font-size="8.95" text-anchor="middle" fill="#222" stroke="#222" stroke-width="0.15" transform="rotate(-90 353.10 624.90)">Red Cluster</text>
<text x="362.90" y="624.90" font-size="8.95" text-anchor="middle" fill="#222" stroke="#222" stroke-width="0.15" transform="rotate(-90 362.90 624.90)">Size</text>
<text x="389.75" y="577.6" font-size="8.82" fill="#111" stroke="#111" stroke-width="0.2">R<tspan font-size="5.4" dy="-3">2</tspan><tspan dy="3"> for mean Simulated R-G IF vs mean R-G IF</tspan></text>
<defs><linearGradient id="cb386" x1="0" y1="0" x2="0" y2="1"><stop offset="0.00" stop-color="#2d1e3e"/><stop offset="0.05" stop-color="#3b264b"/><stop offset="0.10" stop-color="#492d58"/><stop offset="0.15" stop-color="#583463"/><stop offset="0.20" stop-color="#683d6e"/><stop offset="0.25" stop-color="#754475"/><stop offset="0.30" stop-color="#854d7e"/><stop offset="0.35" stop-color="#925684"/><stop offset="0.40" stop-color="#a1608b"/><stop offset="0.45" stop-color="#ac6a90"/><stop offset="0.50" stop-color="#b77495"/><stop offset="0.55" stop-color="#c27f9a"/><stop offset="0.60" stop-color="#cb8ca0"/><stop offset="0.65" stop-color="#d397a6"/><stop offset="0.70" stop-color="#dba5ad"/><stop offset="0.75" stop-color="#e0b0b3"/><stop offset="0.80" stop-color="#e6bebc"/><stop offset="0.85" stop-color="#ebcbc6"/><stop offset="0.90" stop-color="#f0d9d2"/><stop offset="0.95" stop-color="#f5e5de"/><stop offset="1.00" stop-color="#f9f1ec"/></linearGradient></defs>
<rect x="578.30" y="587.00" width="7.20" height="69.30" fill="url(#cb386)"/>
<line x1="585.50" y1="600.00" x2="587.10" y2="600.00" stroke="#444" stroke-width="0.6"/>
<text x="591.50" y="602.50" font-size="8.7" fill="#222" stroke="#222" stroke-width="0.15">0.96</text>
<line x1="585.50" y1="618.10" x2="587.10" y2="618.10" stroke="#444" stroke-width="0.6"/>
<text x="591.50" y="620.60" font-size="8.7" fill="#222" stroke="#222" stroke-width="0.15">0.92</text>
<line x1="585.50" y1="636.20" x2="587.10" y2="636.20" stroke="#444" stroke-width="0.6"/>
<text x="591.50" y="638.70" font-size="8.7" fill="#222" stroke="#222" stroke-width="0.15">0.88</text>
<line x1="585.50" y1="654.40" x2="587.10" y2="654.40" stroke="#444" stroke-width="0.6"/>
<text x="591.50" y="656.90" font-size="8.7" fill="#222" stroke="#222" stroke-width="0.15">0.84</text>
</svg>
</body></html>
